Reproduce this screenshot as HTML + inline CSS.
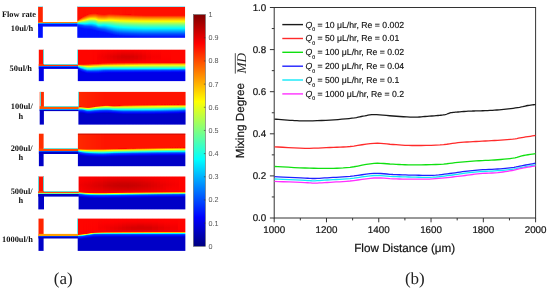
<!DOCTYPE html>
<html><head><meta charset="utf-8"><style>
html,body{margin:0;padding:0;background:#fff;width:550px;height:292px;overflow:hidden}
svg{display:block;text-rendering:geometricPrecision}
.fl{font-family:"Liberation Serif",serif;font-weight:bold;font-size:8.4px;fill:#111}
.cbl{font-family:"Liberation Sans",sans-serif;font-size:7.2px;fill:#555}
.tk{font-family:"Liberation Sans",sans-serif;font-size:9.8px;fill:#111;stroke:#111;stroke-width:0.2px}
.lg{font-family:"Liberation Sans",sans-serif;font-size:8.7px;fill:#111;stroke:#111;stroke-width:0.15px}
.sub{font-size:5.2px}
.ax{font-family:"Liberation Sans",sans-serif;font-size:11.7px;fill:#111;stroke:#111;stroke-width:0.2px}
.md{font-family:"Liberation Serif",serif;font-style:italic;font-size:13.2px;fill:#222}
.pl{font-family:"Liberation Serif",serif;font-size:17px;fill:#222}
</style></head><body>
<svg width="550" height="292" viewBox="0 0 550 292">
<defs>
<linearGradient id="g1" x1="0" y1="6.50" x2="0" y2="37.80" gradientUnits="userSpaceOnUse"><stop offset="0.000" stop-color="#ff0f00"/><stop offset="0.438" stop-color="#ff0f00"/><stop offset="0.447" stop-color="#ff2400"/><stop offset="0.470" stop-color="#ff8000"/><stop offset="0.492" stop-color="#fffe00"/><stop offset="0.495" stop-color="#ecff13"/><stop offset="0.512" stop-color="#80ff7f"/><stop offset="0.540" stop-color="#00ffff"/><stop offset="0.580" stop-color="#004cff"/><stop offset="0.671" stop-color="#0012ff"/><stop offset="1.000" stop-color="#000fff"/></linearGradient>
<linearGradient id="g2" x1="0" y1="6.50" x2="0" y2="37.80" gradientUnits="userSpaceOnUse"><stop offset="0.000" stop-color="#ff0f00"/><stop offset="0.418" stop-color="#ff0f00"/><stop offset="0.431" stop-color="#ff2f00"/><stop offset="0.455" stop-color="#ff7f00"/><stop offset="0.485" stop-color="#ffff00"/><stop offset="0.508" stop-color="#80ff7f"/><stop offset="0.540" stop-color="#00ffff"/><stop offset="0.584" stop-color="#004cff"/><stop offset="0.671" stop-color="#0015ff"/><stop offset="0.687" stop-color="#000fff"/><stop offset="1.000" stop-color="#000fff"/></linearGradient>
<linearGradient id="g3" x1="0" y1="6.50" x2="0" y2="37.80" gradientUnits="userSpaceOnUse"><stop offset="0.000" stop-color="#ff0f00"/><stop offset="0.399" stop-color="#ff0e00"/><stop offset="0.439" stop-color="#ff8000"/><stop offset="0.477" stop-color="#ffff00"/><stop offset="0.504" stop-color="#7fff80"/><stop offset="0.540" stop-color="#00ffff"/><stop offset="0.588" stop-color="#004cff"/><stop offset="0.687" stop-color="#000fff"/><stop offset="1.000" stop-color="#000fff"/></linearGradient>
<linearGradient id="g4" x1="0" y1="6.50" x2="0" y2="37.80" gradientUnits="userSpaceOnUse"><stop offset="0.000" stop-color="#ff0f00"/><stop offset="0.367" stop-color="#ff0f00"/><stop offset="0.373" stop-color="#ff0000"/><stop offset="0.424" stop-color="#ff7f00"/><stop offset="0.469" stop-color="#ffff00"/><stop offset="0.500" stop-color="#7fff80"/><stop offset="0.540" stop-color="#00ffff"/><stop offset="0.594" stop-color="#004dff"/><stop offset="0.687" stop-color="#0011ff"/><stop offset="1.000" stop-color="#000fff"/></linearGradient>
<linearGradient id="g5" x1="0" y1="6.50" x2="0" y2="37.80" gradientUnits="userSpaceOnUse"><stop offset="0.000" stop-color="#ff0f00"/><stop offset="0.351" stop-color="#ff0f00"/><stop offset="0.352" stop-color="#ff0000"/><stop offset="0.410" stop-color="#ff8000"/><stop offset="0.462" stop-color="#ffff00"/><stop offset="0.495" stop-color="#81ff7e"/><stop offset="0.541" stop-color="#00ffff"/><stop offset="0.601" stop-color="#004dff"/><stop offset="0.687" stop-color="#0015ff"/><stop offset="0.703" stop-color="#000fff"/><stop offset="1.000" stop-color="#000fff"/></linearGradient>
<linearGradient id="g6" x1="0" y1="6.50" x2="0" y2="37.80" gradientUnits="userSpaceOnUse"><stop offset="0.000" stop-color="#ff0f00"/><stop offset="0.319" stop-color="#ff0f00"/><stop offset="0.332" stop-color="#ff0000"/><stop offset="0.396" stop-color="#ff8000"/><stop offset="0.455" stop-color="#ffff00"/><stop offset="0.492" stop-color="#80ff7f"/><stop offset="0.543" stop-color="#00ffff"/><stop offset="0.608" stop-color="#004dff"/><stop offset="0.703" stop-color="#0010ff"/><stop offset="1.000" stop-color="#000fff"/></linearGradient>
<linearGradient id="g7" x1="0" y1="6.50" x2="0" y2="37.80" gradientUnits="userSpaceOnUse"><stop offset="0.000" stop-color="#ff0f00"/><stop offset="0.319" stop-color="#ff0c00"/><stop offset="0.384" stop-color="#ff8000"/><stop offset="0.448" stop-color="#ffff00"/><stop offset="0.488" stop-color="#7fff80"/><stop offset="0.545" stop-color="#00ffff"/><stop offset="0.615" stop-color="#004cff"/><stop offset="0.703" stop-color="#0014ff"/><stop offset="0.719" stop-color="#000fff"/><stop offset="1.000" stop-color="#000fff"/></linearGradient>
<linearGradient id="g8" x1="0" y1="6.50" x2="0" y2="37.80" gradientUnits="userSpaceOnUse"><stop offset="0.000" stop-color="#ff0f00"/><stop offset="0.304" stop-color="#ff0d00"/><stop offset="0.373" stop-color="#ff7f00"/><stop offset="0.441" stop-color="#ffff00"/><stop offset="0.485" stop-color="#7fff80"/><stop offset="0.546" stop-color="#00ffff"/><stop offset="0.621" stop-color="#004dff"/><stop offset="0.719" stop-color="#000fff"/><stop offset="1.000" stop-color="#000fff"/></linearGradient>
<linearGradient id="g9" x1="0" y1="6.50" x2="0" y2="37.80" gradientUnits="userSpaceOnUse"><stop offset="0.000" stop-color="#ff0f00"/><stop offset="0.288" stop-color="#ff0c00"/><stop offset="0.362" stop-color="#ff7f00"/><stop offset="0.434" stop-color="#ffff00"/><stop offset="0.479" stop-color="#81ff7e"/><stop offset="0.546" stop-color="#00ffff"/><stop offset="0.625" stop-color="#004dff"/><stop offset="0.719" stop-color="#0010ff"/><stop offset="1.000" stop-color="#000fff"/></linearGradient>
<linearGradient id="g10" x1="0" y1="6.50" x2="0" y2="37.80" gradientUnits="userSpaceOnUse"><stop offset="0.000" stop-color="#ff0f00"/><stop offset="0.256" stop-color="#ff0f00"/><stop offset="0.265" stop-color="#ff0000"/><stop offset="0.351" stop-color="#ff7e00"/><stop offset="0.425" stop-color="#ffff00"/><stop offset="0.474" stop-color="#7fff80"/><stop offset="0.544" stop-color="#00ffff"/><stop offset="0.627" stop-color="#004dff"/><stop offset="0.719" stop-color="#0012ff"/><stop offset="1.000" stop-color="#000fff"/></linearGradient>
<linearGradient id="g11" x1="0" y1="6.50" x2="0" y2="37.80" gradientUnits="userSpaceOnUse"><stop offset="0.000" stop-color="#ff0f00"/><stop offset="0.240" stop-color="#ff0f00"/><stop offset="0.250" stop-color="#ff0000"/><stop offset="0.342" stop-color="#ff7f00"/><stop offset="0.415" stop-color="#ffff00"/><stop offset="0.467" stop-color="#7fff80"/><stop offset="0.542" stop-color="#00ffff"/><stop offset="0.630" stop-color="#004dff"/><stop offset="0.719" stop-color="#0014ff"/><stop offset="0.735" stop-color="#000fff"/><stop offset="1.000" stop-color="#000fff"/></linearGradient>
<linearGradient id="g12" x1="0" y1="6.50" x2="0" y2="37.80" gradientUnits="userSpaceOnUse"><stop offset="0.000" stop-color="#ff0f00"/><stop offset="0.236" stop-color="#ff0f00"/><stop offset="0.240" stop-color="#ff0500"/><stop offset="0.334" stop-color="#ff7f00"/><stop offset="0.405" stop-color="#ffff00"/><stop offset="0.460" stop-color="#80ff7f"/><stop offset="0.538" stop-color="#00ffff"/><stop offset="0.632" stop-color="#004dff"/><stop offset="0.719" stop-color="#0015ff"/><stop offset="0.735" stop-color="#000fff"/><stop offset="1.000" stop-color="#000fff"/></linearGradient>
<linearGradient id="g13" x1="0" y1="6.50" x2="0" y2="37.80" gradientUnits="userSpaceOnUse"><stop offset="0.000" stop-color="#ff0f00"/><stop offset="0.224" stop-color="#ff0f00"/><stop offset="0.225" stop-color="#ff0000"/><stop offset="0.326" stop-color="#ff7f00"/><stop offset="0.398" stop-color="#ffff00"/><stop offset="0.454" stop-color="#7fff80"/><stop offset="0.535" stop-color="#00ffff"/><stop offset="0.634" stop-color="#004cff"/><stop offset="0.719" stop-color="#0016ff"/><stop offset="0.735" stop-color="#000fff"/><stop offset="1.000" stop-color="#000fff"/></linearGradient>
<linearGradient id="g14" x1="0" y1="6.50" x2="0" y2="37.80" gradientUnits="userSpaceOnUse"><stop offset="0.000" stop-color="#ff0f00"/><stop offset="0.208" stop-color="#ff0f00"/><stop offset="0.217" stop-color="#ff0000"/><stop offset="0.321" stop-color="#ff7f00"/><stop offset="0.394" stop-color="#ffff00"/><stop offset="0.451" stop-color="#80ff7f"/><stop offset="0.534" stop-color="#00ffff"/><stop offset="0.637" stop-color="#004dff"/><stop offset="0.735" stop-color="#000fff"/><stop offset="1.000" stop-color="#000fff"/></linearGradient>
<linearGradient id="g15" x1="0" y1="6.50" x2="0" y2="37.80" gradientUnits="userSpaceOnUse"><stop offset="0.000" stop-color="#ff0f00"/><stop offset="0.224" stop-color="#ff0e00"/><stop offset="0.318" stop-color="#ff7f00"/><stop offset="0.393" stop-color="#ffff00"/><stop offset="0.451" stop-color="#7fff80"/><stop offset="0.534" stop-color="#00ffff"/><stop offset="0.642" stop-color="#004cff"/><stop offset="0.735" stop-color="#0011ff"/><stop offset="1.000" stop-color="#000fff"/></linearGradient>
<linearGradient id="g16" x1="0" y1="6.50" x2="0" y2="37.80" gradientUnits="userSpaceOnUse"><stop offset="0.000" stop-color="#ff0f00"/><stop offset="0.224" stop-color="#ff1200"/><stop offset="0.316" stop-color="#ff8000"/><stop offset="0.394" stop-color="#ffff00"/><stop offset="0.452" stop-color="#80ff7f"/><stop offset="0.536" stop-color="#00ffff"/><stop offset="0.649" stop-color="#004dff"/><stop offset="0.735" stop-color="#0015ff"/><stop offset="0.751" stop-color="#000fff"/><stop offset="1.000" stop-color="#000fff"/></linearGradient>
<linearGradient id="g17" x1="0" y1="6.50" x2="0" y2="37.80" gradientUnits="userSpaceOnUse"><stop offset="0.000" stop-color="#ff0f00"/><stop offset="0.206" stop-color="#ff0f00"/><stop offset="0.208" stop-color="#ff0200"/><stop offset="0.314" stop-color="#ff8000"/><stop offset="0.396" stop-color="#ffff00"/><stop offset="0.455" stop-color="#80ff7f"/><stop offset="0.541" stop-color="#00ffff"/><stop offset="0.658" stop-color="#004cff"/><stop offset="0.751" stop-color="#0011ff"/><stop offset="1.000" stop-color="#000fff"/></linearGradient>
<linearGradient id="g18" x1="0" y1="6.50" x2="0" y2="37.80" gradientUnits="userSpaceOnUse"><stop offset="0.000" stop-color="#ff0f00"/><stop offset="0.192" stop-color="#ff0f00"/><stop offset="0.205" stop-color="#ff0000"/><stop offset="0.313" stop-color="#ff7f00"/><stop offset="0.398" stop-color="#ffff00"/><stop offset="0.458" stop-color="#7fff80"/><stop offset="0.547" stop-color="#00ffff"/><stop offset="0.666" stop-color="#004dff"/><stop offset="0.751" stop-color="#0017ff"/><stop offset="0.767" stop-color="#000fff"/><stop offset="1.000" stop-color="#000fff"/></linearGradient>
<linearGradient id="g19" x1="0" y1="6.50" x2="0" y2="37.80" gradientUnits="userSpaceOnUse"><stop offset="0.000" stop-color="#ff0f00"/><stop offset="0.205" stop-color="#ff0f00"/><stop offset="0.208" stop-color="#ff0300"/><stop offset="0.314" stop-color="#ff7f00"/><stop offset="0.402" stop-color="#ffff00"/><stop offset="0.464" stop-color="#7fff80"/><stop offset="0.554" stop-color="#00ffff"/><stop offset="0.675" stop-color="#004cff"/><stop offset="0.767" stop-color="#0012ff"/><stop offset="1.000" stop-color="#000fff"/></linearGradient>
<linearGradient id="g20" x1="0" y1="6.50" x2="0" y2="37.80" gradientUnits="userSpaceOnUse"><stop offset="0.000" stop-color="#ff0f00"/><stop offset="0.224" stop-color="#ff0f00"/><stop offset="0.321" stop-color="#ff7f00"/><stop offset="0.413" stop-color="#ffff00"/><stop offset="0.479" stop-color="#80ff7f"/><stop offset="0.569" stop-color="#00ffff"/><stop offset="0.684" stop-color="#004dff"/><stop offset="0.783" stop-color="#000fff"/><stop offset="1.000" stop-color="#000fff"/></linearGradient>
<linearGradient id="g21" x1="0" y1="6.50" x2="0" y2="37.80" gradientUnits="userSpaceOnUse"><stop offset="0.000" stop-color="#ff0f00"/><stop offset="0.218" stop-color="#ff0f00"/><stop offset="0.224" stop-color="#ff0700"/><stop offset="0.335" stop-color="#ff8500"/><stop offset="0.427" stop-color="#ffff00"/><stop offset="0.496" stop-color="#7fff80"/><stop offset="0.587" stop-color="#00ffff"/><stop offset="0.694" stop-color="#004cff"/><stop offset="0.783" stop-color="#0014ff"/><stop offset="0.799" stop-color="#000fff"/><stop offset="1.000" stop-color="#000fff"/></linearGradient>
<linearGradient id="g22" x1="0" y1="6.50" x2="0" y2="37.80" gradientUnits="userSpaceOnUse"><stop offset="0.000" stop-color="#ff0f00"/><stop offset="0.224" stop-color="#ff0f00"/><stop offset="0.225" stop-color="#ff0000"/><stop offset="0.339" stop-color="#ff7f00"/><stop offset="0.438" stop-color="#ffff00"/><stop offset="0.509" stop-color="#7fff80"/><stop offset="0.599" stop-color="#00ffff"/><stop offset="0.703" stop-color="#004cff"/><stop offset="0.799" stop-color="#000fff"/><stop offset="1.000" stop-color="#000fff"/></linearGradient>
<linearGradient id="g23" x1="0" y1="6.50" x2="0" y2="37.80" gradientUnits="userSpaceOnUse"><stop offset="0.000" stop-color="#ff0f00"/><stop offset="0.224" stop-color="#ff0f00"/><stop offset="0.229" stop-color="#ff0000"/><stop offset="0.343" stop-color="#ff8000"/><stop offset="0.442" stop-color="#ffff00"/><stop offset="0.511" stop-color="#7fff80"/><stop offset="0.600" stop-color="#00ffff"/><stop offset="0.709" stop-color="#004dff"/><stop offset="0.799" stop-color="#0013ff"/><stop offset="1.000" stop-color="#000fff"/></linearGradient>
<linearGradient id="g24" x1="0" y1="6.50" x2="0" y2="37.80" gradientUnits="userSpaceOnUse"><stop offset="0.000" stop-color="#ff0f00"/><stop offset="0.224" stop-color="#ff0f00"/><stop offset="0.232" stop-color="#ff0000"/><stop offset="0.351" stop-color="#ff8600"/><stop offset="0.444" stop-color="#ffff00"/><stop offset="0.510" stop-color="#7fff80"/><stop offset="0.599" stop-color="#00ffff"/><stop offset="0.715" stop-color="#004cff"/><stop offset="0.799" stop-color="#0017ff"/><stop offset="0.815" stop-color="#000fff"/><stop offset="1.000" stop-color="#000fff"/></linearGradient>
<linearGradient id="g25" x1="0" y1="6.50" x2="0" y2="37.80" gradientUnits="userSpaceOnUse"><stop offset="0.000" stop-color="#ff0f00"/><stop offset="0.224" stop-color="#ff0f00"/><stop offset="0.235" stop-color="#ff0000"/><stop offset="0.349" stop-color="#ff7f00"/><stop offset="0.446" stop-color="#ffff00"/><stop offset="0.508" stop-color="#80ff7f"/><stop offset="0.596" stop-color="#00ffff"/><stop offset="0.721" stop-color="#004cff"/><stop offset="0.815" stop-color="#0010ff"/><stop offset="1.000" stop-color="#000fff"/></linearGradient>
<linearGradient id="g26" x1="0" y1="6.50" x2="0" y2="37.80" gradientUnits="userSpaceOnUse"><stop offset="0.000" stop-color="#ff0f00"/><stop offset="0.224" stop-color="#ff0f00"/><stop offset="0.238" stop-color="#ff0000"/><stop offset="0.351" stop-color="#ff8100"/><stop offset="0.447" stop-color="#ffff00"/><stop offset="0.506" stop-color="#80ff7f"/><stop offset="0.593" stop-color="#00ffff"/><stop offset="0.726" stop-color="#004dff"/><stop offset="0.815" stop-color="#0014ff"/><stop offset="0.831" stop-color="#000fff"/><stop offset="1.000" stop-color="#000fff"/></linearGradient>
<linearGradient id="g27" x1="0" y1="6.50" x2="0" y2="37.80" gradientUnits="userSpaceOnUse"><stop offset="0.000" stop-color="#ff0f00"/><stop offset="0.239" stop-color="#ff0f00"/><stop offset="0.240" stop-color="#ff0000"/><stop offset="0.351" stop-color="#ff8000"/><stop offset="0.447" stop-color="#ffff00"/><stop offset="0.505" stop-color="#7fff80"/><stop offset="0.591" stop-color="#00ffff"/><stop offset="0.732" stop-color="#004dff"/><stop offset="0.815" stop-color="#0017ff"/><stop offset="0.831" stop-color="#000fff"/><stop offset="1.000" stop-color="#000fff"/></linearGradient>
<linearGradient id="g28" x1="0" y1="6.50" x2="0" y2="37.80" gradientUnits="userSpaceOnUse"><stop offset="0.000" stop-color="#ff0f00"/><stop offset="0.239" stop-color="#ff0f00"/><stop offset="0.240" stop-color="#ff0000"/><stop offset="0.351" stop-color="#ff8000"/><stop offset="0.447" stop-color="#ffff00"/><stop offset="0.505" stop-color="#80ff7f"/><stop offset="0.591" stop-color="#00ffff"/><stop offset="0.738" stop-color="#004cff"/><stop offset="0.831" stop-color="#0012ff"/><stop offset="1.000" stop-color="#000fff"/></linearGradient>
<linearGradient id="g29" x1="0" y1="6.50" x2="0" y2="37.80" gradientUnits="userSpaceOnUse"><stop offset="0.000" stop-color="#ff0f00"/><stop offset="0.237" stop-color="#ff0f00"/><stop offset="0.240" stop-color="#ff0300"/><stop offset="0.351" stop-color="#ff8300"/><stop offset="0.446" stop-color="#ffff00"/><stop offset="0.506" stop-color="#7fff80"/><stop offset="0.594" stop-color="#00ffff"/><stop offset="0.746" stop-color="#004cff"/><stop offset="0.831" stop-color="#0016ff"/><stop offset="0.847" stop-color="#000fff"/><stop offset="1.000" stop-color="#000fff"/></linearGradient>
<linearGradient id="g30" x1="0" y1="6.50" x2="0" y2="37.80" gradientUnits="userSpaceOnUse"><stop offset="0.000" stop-color="#ff0f00"/><stop offset="0.234" stop-color="#ff0f00"/><stop offset="0.240" stop-color="#ff0700"/><stop offset="0.344" stop-color="#ff7f00"/><stop offset="0.444" stop-color="#ffff00"/><stop offset="0.507" stop-color="#80ff7f"/><stop offset="0.599" stop-color="#00ffff"/><stop offset="0.754" stop-color="#004cff"/><stop offset="0.847" stop-color="#0011ff"/><stop offset="1.000" stop-color="#000fff"/></linearGradient>
<linearGradient id="g31" x1="0" y1="6.50" x2="0" y2="37.80" gradientUnits="userSpaceOnUse"><stop offset="0.000" stop-color="#ff0f00"/><stop offset="0.224" stop-color="#ff0f00"/><stop offset="0.230" stop-color="#ff0000"/><stop offset="0.351" stop-color="#ff8e00"/><stop offset="0.441" stop-color="#ffff00"/><stop offset="0.509" stop-color="#80ff7f"/><stop offset="0.605" stop-color="#00ffff"/><stop offset="0.763" stop-color="#004dff"/><stop offset="0.847" stop-color="#0017ff"/><stop offset="0.863" stop-color="#000fff"/><stop offset="1.000" stop-color="#000fff"/></linearGradient>
<linearGradient id="g32" x1="0" y1="6.50" x2="0" y2="37.80" gradientUnits="userSpaceOnUse"><stop offset="0.000" stop-color="#ff0f00"/><stop offset="0.224" stop-color="#ff0f00"/><stop offset="0.226" stop-color="#ff0000"/><stop offset="0.439" stop-color="#ffff00"/><stop offset="0.511" stop-color="#7fff80"/><stop offset="0.612" stop-color="#00ffff"/><stop offset="0.771" stop-color="#004dff"/><stop offset="0.863" stop-color="#0012ff"/><stop offset="1.000" stop-color="#000fff"/></linearGradient>
<linearGradient id="g33" x1="0" y1="6.50" x2="0" y2="37.80" gradientUnits="userSpaceOnUse"><stop offset="0.000" stop-color="#ff0f00"/><stop offset="0.224" stop-color="#ff0f00"/><stop offset="0.224" stop-color="#ff0000"/><stop offset="0.438" stop-color="#ffff00"/><stop offset="0.513" stop-color="#7fff80"/><stop offset="0.617" stop-color="#00ffff"/><stop offset="0.779" stop-color="#004dff"/><stop offset="0.847" stop-color="#0021ff"/><stop offset="0.879" stop-color="#000fff"/><stop offset="1.000" stop-color="#000fff"/></linearGradient>
<linearGradient id="g34" x1="0" y1="6.50" x2="0" y2="37.80" gradientUnits="userSpaceOnUse"><stop offset="0.000" stop-color="#ff0f00"/><stop offset="0.240" stop-color="#ff1300"/><stop offset="0.438" stop-color="#ffff00"/><stop offset="0.516" stop-color="#7fff80"/><stop offset="0.622" stop-color="#00ffff"/><stop offset="0.783" stop-color="#0050ff"/><stop offset="0.815" stop-color="#003aff"/><stop offset="0.879" stop-color="#0012ff"/><stop offset="1.000" stop-color="#000fff"/></linearGradient>
<linearGradient id="g35" x1="0" y1="6.50" x2="0" y2="37.80" gradientUnits="userSpaceOnUse"><stop offset="0.000" stop-color="#ff0f00"/><stop offset="0.240" stop-color="#ff1200"/><stop offset="0.439" stop-color="#ffff00"/><stop offset="0.518" stop-color="#80ff7f"/><stop offset="0.627" stop-color="#00ffff"/><stop offset="0.799" stop-color="#0049ff"/><stop offset="0.895" stop-color="#000fff"/><stop offset="1.000" stop-color="#000fff"/></linearGradient>
<linearGradient id="g36" x1="0" y1="6.50" x2="0" y2="37.80" gradientUnits="userSpaceOnUse"><stop offset="0.000" stop-color="#ff0f00"/><stop offset="0.224" stop-color="#ff0f00"/><stop offset="0.226" stop-color="#ff0000"/><stop offset="0.440" stop-color="#ffff00"/><stop offset="0.521" stop-color="#80ff7f"/><stop offset="0.632" stop-color="#00ffff"/><stop offset="0.802" stop-color="#004cff"/><stop offset="0.895" stop-color="#0011ff"/><stop offset="1.000" stop-color="#000fff"/></linearGradient>
<linearGradient id="g37" x1="0" y1="6.50" x2="0" y2="37.80" gradientUnits="userSpaceOnUse"><stop offset="0.000" stop-color="#ff0f00"/><stop offset="0.224" stop-color="#ff0f00"/><stop offset="0.227" stop-color="#ff0000"/><stop offset="0.442" stop-color="#ffff00"/><stop offset="0.525" stop-color="#7fff80"/><stop offset="0.638" stop-color="#00ffff"/><stop offset="0.815" stop-color="#0049ff"/><stop offset="0.911" stop-color="#000fff"/><stop offset="1.000" stop-color="#000fff"/></linearGradient>
<linearGradient id="g38" x1="0" y1="6.50" x2="0" y2="37.80" gradientUnits="userSpaceOnUse"><stop offset="0.000" stop-color="#ff0f00"/><stop offset="0.224" stop-color="#ff0f00"/><stop offset="0.229" stop-color="#ff0000"/><stop offset="0.445" stop-color="#ffff00"/><stop offset="0.529" stop-color="#7fff80"/><stop offset="0.643" stop-color="#00ffff"/><stop offset="0.817" stop-color="#004dff"/><stop offset="0.911" stop-color="#0011ff"/><stop offset="1.000" stop-color="#000fff"/></linearGradient>
<linearGradient id="g39" x1="0" y1="6.50" x2="0" y2="37.80" gradientUnits="userSpaceOnUse"><stop offset="0.000" stop-color="#ff0f00"/><stop offset="0.231" stop-color="#ff0f00"/><stop offset="0.240" stop-color="#ff0a00"/><stop offset="0.447" stop-color="#ffff00"/><stop offset="0.533" stop-color="#7fff80"/><stop offset="0.648" stop-color="#00ffff"/><stop offset="0.825" stop-color="#004dff"/><stop offset="0.927" stop-color="#000fff"/><stop offset="1.000" stop-color="#000fff"/></linearGradient>
<linearGradient id="g40" x1="0" y1="6.50" x2="0" y2="37.80" gradientUnits="userSpaceOnUse"><stop offset="0.000" stop-color="#ff0f00"/><stop offset="0.224" stop-color="#ff0f00"/><stop offset="0.233" stop-color="#ff0000"/><stop offset="0.335" stop-color="#ff7d00"/><stop offset="0.450" stop-color="#ffff00"/><stop offset="0.536" stop-color="#80ff7f"/><stop offset="0.653" stop-color="#00ffff"/><stop offset="0.831" stop-color="#004cff"/><stop offset="0.927" stop-color="#0010ff"/><stop offset="1.000" stop-color="#000fff"/></linearGradient>
<linearGradient id="g41" x1="0" y1="6.50" x2="0" y2="37.80" gradientUnits="userSpaceOnUse"><stop offset="0.000" stop-color="#ff0f00"/><stop offset="0.235" stop-color="#ff0f00"/><stop offset="0.240" stop-color="#ff0500"/><stop offset="0.339" stop-color="#ff8000"/><stop offset="0.453" stop-color="#ffff00"/><stop offset="0.543" stop-color="#7cff83"/><stop offset="0.657" stop-color="#00ffff"/><stop offset="0.847" stop-color="#0046ff"/><stop offset="0.927" stop-color="#0013ff"/><stop offset="1.000" stop-color="#000fff"/></linearGradient>
<linearGradient id="g42" x1="0" y1="6.50" x2="0" y2="37.80" gradientUnits="userSpaceOnUse"><stop offset="0.000" stop-color="#ff0f00"/><stop offset="0.224" stop-color="#ff0f00"/><stop offset="0.239" stop-color="#ff0000"/><stop offset="0.342" stop-color="#ff8000"/><stop offset="0.456" stop-color="#ffff00"/><stop offset="0.545" stop-color="#80ff7f"/><stop offset="0.664" stop-color="#00ffff"/><stop offset="0.847" stop-color="#004cff"/><stop offset="0.942" stop-color="#000fff"/><stop offset="1.000" stop-color="#000fff"/></linearGradient>
<linearGradient id="g43" x1="0" y1="6.50" x2="0" y2="37.80" gradientUnits="userSpaceOnUse"><stop offset="0.000" stop-color="#ff0f00"/><stop offset="0.256" stop-color="#ff1300"/><stop offset="0.351" stop-color="#ff8a00"/><stop offset="0.457" stop-color="#ffff00"/><stop offset="0.547" stop-color="#7fff80"/><stop offset="0.665" stop-color="#00ffff"/><stop offset="0.848" stop-color="#004dff"/><stop offset="0.942" stop-color="#0010ff"/><stop offset="1.000" stop-color="#000fff"/></linearGradient>
<linearGradient id="g44" x1="0" y1="6.50" x2="0" y2="37.80" gradientUnits="userSpaceOnUse"><stop offset="0.000" stop-color="#ff0f00"/><stop offset="0.240" stop-color="#ff0f00"/><stop offset="0.243" stop-color="#ff0000"/><stop offset="0.351" stop-color="#ff8800"/><stop offset="0.459" stop-color="#ffff00"/><stop offset="0.550" stop-color="#80ff7f"/><stop offset="0.669" stop-color="#00ffff"/><stop offset="0.852" stop-color="#004cff"/><stop offset="0.942" stop-color="#0012ff"/><stop offset="1.000" stop-color="#000fff"/></linearGradient>
<linearGradient id="g45" x1="0" y1="6.50" x2="0" y2="37.80" gradientUnits="userSpaceOnUse"><stop offset="0.000" stop-color="#ff0f00"/><stop offset="0.256" stop-color="#ff0e00"/><stop offset="0.345" stop-color="#ff8000"/><stop offset="0.459" stop-color="#ffff00"/><stop offset="0.552" stop-color="#80ff7f"/><stop offset="0.671" stop-color="#00ffff"/><stop offset="0.853" stop-color="#004dff"/><stop offset="0.942" stop-color="#0014ff"/><stop offset="1.000" stop-color="#000fff"/></linearGradient>
<linearGradient id="g46" x1="0" y1="6.50" x2="0" y2="37.80" gradientUnits="userSpaceOnUse"><stop offset="0.000" stop-color="#ff0f00"/><stop offset="0.240" stop-color="#ff0f00"/><stop offset="0.246" stop-color="#ff0000"/><stop offset="0.346" stop-color="#ff8000"/><stop offset="0.460" stop-color="#ffff00"/><stop offset="0.553" stop-color="#7fff80"/><stop offset="0.673" stop-color="#00ffff"/><stop offset="0.855" stop-color="#004dff"/><stop offset="0.942" stop-color="#0015ff"/><stop offset="0.958" stop-color="#000fff"/><stop offset="1.000" stop-color="#000fff"/></linearGradient>
<linearGradient id="g47" x1="0" y1="6.50" x2="0" y2="37.80" gradientUnits="userSpaceOnUse"><stop offset="0.000" stop-color="#ff0f00"/><stop offset="0.256" stop-color="#ff0b00"/><stop offset="0.347" stop-color="#ff7f00"/><stop offset="0.461" stop-color="#ffff00"/><stop offset="0.555" stop-color="#7fff80"/><stop offset="0.674" stop-color="#00ffff"/><stop offset="0.857" stop-color="#004cff"/><stop offset="0.958" stop-color="#000fff"/><stop offset="1.000" stop-color="#000fff"/></linearGradient>
<linearGradient id="g48" x1="0" y1="6.50" x2="0" y2="37.80" gradientUnits="userSpaceOnUse"><stop offset="0.000" stop-color="#ff0f00"/><stop offset="0.240" stop-color="#ff0f00"/><stop offset="0.249" stop-color="#ff0000"/><stop offset="0.348" stop-color="#ff7f00"/><stop offset="0.462" stop-color="#ffff00"/><stop offset="0.559" stop-color="#7cff83"/><stop offset="0.676" stop-color="#00ffff"/><stop offset="0.859" stop-color="#004cff"/><stop offset="0.958" stop-color="#000fff"/><stop offset="1.000" stop-color="#000fff"/></linearGradient>
<linearGradient id="g49" x1="0" y1="6.50" x2="0" y2="37.80" gradientUnits="userSpaceOnUse"><stop offset="0.000" stop-color="#ff0f00"/><stop offset="0.250" stop-color="#ff0f00"/><stop offset="0.256" stop-color="#ff0700"/><stop offset="0.349" stop-color="#ff7f00"/><stop offset="0.462" stop-color="#ffff00"/><stop offset="0.559" stop-color="#7eff81"/><stop offset="0.678" stop-color="#00ffff"/><stop offset="0.860" stop-color="#004cff"/><stop offset="0.958" stop-color="#000fff"/><stop offset="1.000" stop-color="#000fff"/></linearGradient>
<linearGradient id="g50" x1="0" y1="6.50" x2="0" y2="37.80" gradientUnits="userSpaceOnUse"><stop offset="0.000" stop-color="#ff0f00"/><stop offset="0.240" stop-color="#ff0f00"/><stop offset="0.252" stop-color="#ff0000"/><stop offset="0.351" stop-color="#ff8100"/><stop offset="0.463" stop-color="#ffff00"/><stop offset="0.559" stop-color="#7fff80"/><stop offset="0.679" stop-color="#00ffff"/><stop offset="0.862" stop-color="#004cff"/><stop offset="0.958" stop-color="#000fff"/><stop offset="1.000" stop-color="#000fff"/></linearGradient>
<linearGradient id="g51" x1="0" y1="6.50" x2="0" y2="37.80" gradientUnits="userSpaceOnUse"><stop offset="0.000" stop-color="#ff0f00"/><stop offset="0.253" stop-color="#ff0f00"/><stop offset="0.256" stop-color="#ff0300"/><stop offset="0.351" stop-color="#ff8000"/><stop offset="0.463" stop-color="#ffff00"/><stop offset="0.560" stop-color="#7fff80"/><stop offset="0.681" stop-color="#00ffff"/><stop offset="0.864" stop-color="#004cff"/><stop offset="0.958" stop-color="#0010ff"/><stop offset="1.000" stop-color="#000fff"/></linearGradient>
<linearGradient id="g52" x1="0" y1="6.50" x2="0" y2="37.80" gradientUnits="userSpaceOnUse"><stop offset="0.000" stop-color="#ff0f00"/><stop offset="0.240" stop-color="#ff0f00"/><stop offset="0.255" stop-color="#ff0000"/><stop offset="0.352" stop-color="#ff8000"/><stop offset="0.464" stop-color="#ffff00"/><stop offset="0.562" stop-color="#7fff80"/><stop offset="0.682" stop-color="#00ffff"/><stop offset="0.865" stop-color="#004cff"/><stop offset="0.958" stop-color="#0011ff"/><stop offset="1.000" stop-color="#000fff"/></linearGradient>
<linearGradient id="g53" x1="0" y1="6.50" x2="0" y2="37.80" gradientUnits="userSpaceOnUse"><stop offset="0.000" stop-color="#ff0f00"/><stop offset="0.256" stop-color="#ff0f00"/><stop offset="0.256" stop-color="#ff0000"/><stop offset="0.353" stop-color="#ff8000"/><stop offset="0.465" stop-color="#ffff00"/><stop offset="0.563" stop-color="#7fff80"/><stop offset="0.683" stop-color="#00ffff"/><stop offset="0.866" stop-color="#004dff"/><stop offset="0.958" stop-color="#0012ff"/><stop offset="1.000" stop-color="#000fff"/></linearGradient>
<linearGradient id="g54" x1="0" y1="6.50" x2="0" y2="37.80" gradientUnits="userSpaceOnUse"><stop offset="0.000" stop-color="#ff0f00"/><stop offset="0.272" stop-color="#ff1300"/><stop offset="0.354" stop-color="#ff8000"/><stop offset="0.465" stop-color="#ffff00"/><stop offset="0.564" stop-color="#80ff7f"/><stop offset="0.685" stop-color="#00ffff"/><stop offset="0.867" stop-color="#004dff"/><stop offset="0.958" stop-color="#0012ff"/><stop offset="1.000" stop-color="#000fff"/></linearGradient>
<linearGradient id="g55" x1="0" y1="6.50" x2="0" y2="37.80" gradientUnits="userSpaceOnUse"><stop offset="0.000" stop-color="#ff0f00"/><stop offset="0.256" stop-color="#ff0f00"/><stop offset="0.260" stop-color="#ff0000"/><stop offset="0.356" stop-color="#ff8000"/><stop offset="0.466" stop-color="#ffff00"/><stop offset="0.566" stop-color="#80ff7f"/><stop offset="0.687" stop-color="#00ffff"/><stop offset="0.870" stop-color="#004cff"/><stop offset="0.958" stop-color="#0014ff"/><stop offset="1.000" stop-color="#000fff"/></linearGradient>
<linearGradient id="g56" x1="0" y1="6.50" x2="0" y2="37.80" gradientUnits="userSpaceOnUse"><stop offset="0.000" stop-color="#ff0f00"/><stop offset="0.272" stop-color="#ff0e00"/><stop offset="0.357" stop-color="#ff7f00"/><stop offset="0.466" stop-color="#ffff00"/><stop offset="0.567" stop-color="#7fff80"/><stop offset="0.688" stop-color="#00ffff"/><stop offset="0.871" stop-color="#004cff"/><stop offset="0.958" stop-color="#0015ff"/><stop offset="1.000" stop-color="#000fff"/></linearGradient>
<linearGradient id="g57" x1="0" y1="6.50" x2="0" y2="37.80" gradientUnits="userSpaceOnUse"><stop offset="0.000" stop-color="#ff0f00"/><stop offset="0.256" stop-color="#ff0f00"/><stop offset="0.264" stop-color="#ff0000"/><stop offset="0.358" stop-color="#ff8000"/><stop offset="0.467" stop-color="#ffff00"/><stop offset="0.569" stop-color="#7fff80"/><stop offset="0.690" stop-color="#00ffff"/><stop offset="0.873" stop-color="#004dff"/><stop offset="0.958" stop-color="#0016ff"/><stop offset="0.974" stop-color="#000fff"/><stop offset="1.000" stop-color="#000fff"/></linearGradient>
<linearGradient id="g58" x1="0" y1="6.50" x2="0" y2="37.80" gradientUnits="userSpaceOnUse"><stop offset="0.000" stop-color="#ff0f00"/><stop offset="0.265" stop-color="#ff0f00"/><stop offset="0.272" stop-color="#ff0900"/><stop offset="0.359" stop-color="#ff7f00"/><stop offset="0.468" stop-color="#ffff00"/><stop offset="0.575" stop-color="#7aff85"/><stop offset="0.691" stop-color="#00ffff"/><stop offset="0.874" stop-color="#004cff"/><stop offset="0.958" stop-color="#0016ff"/><stop offset="0.974" stop-color="#000fff"/><stop offset="1.000" stop-color="#000fff"/></linearGradient>
<linearGradient id="g59" x1="0" y1="6.50" x2="0" y2="37.80" gradientUnits="userSpaceOnUse"><stop offset="0.000" stop-color="#ff0f00"/><stop offset="0.256" stop-color="#ff0f00"/><stop offset="0.266" stop-color="#ff0000"/><stop offset="0.360" stop-color="#ff8000"/><stop offset="0.468" stop-color="#ffff00"/><stop offset="0.571" stop-color="#7fff80"/><stop offset="0.692" stop-color="#00ffff"/><stop offset="0.874" stop-color="#004dff"/><stop offset="0.974" stop-color="#000fff"/><stop offset="1.000" stop-color="#000fff"/></linearGradient>
<linearGradient id="g60" x1="0" y1="6.50" x2="0" y2="37.80" gradientUnits="userSpaceOnUse"><stop offset="0.000" stop-color="#ff0f00"/><stop offset="0.268" stop-color="#ff0f00"/><stop offset="0.272" stop-color="#ff0400"/><stop offset="0.362" stop-color="#ff8000"/><stop offset="0.469" stop-color="#ffff00"/><stop offset="0.575" stop-color="#7dff82"/><stop offset="0.694" stop-color="#00ffff"/><stop offset="0.879" stop-color="#004bff"/><stop offset="0.974" stop-color="#000fff"/><stop offset="1.000" stop-color="#000fff"/></linearGradient>
<linearGradient id="g61" x1="0" y1="6.50" x2="0" y2="37.80" gradientUnits="userSpaceOnUse"><stop offset="0.000" stop-color="#ff0f00"/><stop offset="0.256" stop-color="#ff0f00"/><stop offset="0.269" stop-color="#ff0000"/><stop offset="0.363" stop-color="#ff8000"/><stop offset="0.469" stop-color="#ffff00"/><stop offset="0.573" stop-color="#7fff80"/><stop offset="0.695" stop-color="#00ffff"/><stop offset="0.877" stop-color="#004dff"/><stop offset="0.974" stop-color="#000fff"/><stop offset="1.000" stop-color="#000fff"/></linearGradient>
<linearGradient id="g62" x1="0" y1="6.50" x2="0" y2="37.80" gradientUnits="userSpaceOnUse"><stop offset="0.000" stop-color="#ff0f00"/><stop offset="0.270" stop-color="#ff0f00"/><stop offset="0.272" stop-color="#ff0200"/><stop offset="0.363" stop-color="#ff7f00"/><stop offset="0.469" stop-color="#ffff00"/><stop offset="0.574" stop-color="#80ff7f"/><stop offset="0.696" stop-color="#00ffff"/><stop offset="0.878" stop-color="#004cff"/><stop offset="0.974" stop-color="#000fff"/><stop offset="1.000" stop-color="#000fff"/></linearGradient>
<linearGradient id="g63" x1="0" y1="6.50" x2="0" y2="37.80" gradientUnits="userSpaceOnUse"><stop offset="0.000" stop-color="#ff0f00"/><stop offset="0.256" stop-color="#ff0f00"/><stop offset="0.271" stop-color="#ff0000"/><stop offset="0.367" stop-color="#ff8400"/><stop offset="0.469" stop-color="#ffff00"/><stop offset="0.575" stop-color="#7fff80"/><stop offset="0.696" stop-color="#00ffff"/><stop offset="0.878" stop-color="#004cff"/><stop offset="0.974" stop-color="#000fff"/><stop offset="1.000" stop-color="#000fff"/></linearGradient>
<linearGradient id="g64" x1="0" y1="6.50" x2="0" y2="37.80" gradientUnits="userSpaceOnUse"><stop offset="0.000" stop-color="#ff0f00"/><stop offset="0.272" stop-color="#ff0f00"/><stop offset="0.288" stop-color="#ff1600"/><stop offset="0.364" stop-color="#ff8000"/><stop offset="0.470" stop-color="#ffff00"/><stop offset="0.575" stop-color="#80ff80"/><stop offset="0.696" stop-color="#00ffff"/><stop offset="0.879" stop-color="#004dff"/><stop offset="0.974" stop-color="#000fff"/><stop offset="1.000" stop-color="#000fff"/></linearGradient>
<linearGradient id="g65" x1="0" y1="6.50" x2="0" y2="37.80" gradientUnits="userSpaceOnUse"><stop offset="0.000" stop-color="#ff0f00"/><stop offset="0.272" stop-color="#ff0f00"/><stop offset="0.288" stop-color="#ff1600"/><stop offset="0.364" stop-color="#ff8000"/><stop offset="0.470" stop-color="#ffff00"/><stop offset="0.575" stop-color="#80ff80"/><stop offset="0.696" stop-color="#00ffff"/><stop offset="0.879" stop-color="#004dff"/><stop offset="0.974" stop-color="#000fff"/><stop offset="1.000" stop-color="#000fff"/></linearGradient>
<linearGradient id="g66" x1="0" y1="6.50" x2="0" y2="37.80" gradientUnits="userSpaceOnUse"><stop offset="0.000" stop-color="#ff0f00"/><stop offset="0.272" stop-color="#ff0f00"/><stop offset="0.288" stop-color="#ff1600"/><stop offset="0.364" stop-color="#ff8000"/><stop offset="0.470" stop-color="#ffff00"/><stop offset="0.575" stop-color="#80ff80"/><stop offset="0.696" stop-color="#00ffff"/><stop offset="0.879" stop-color="#004dff"/><stop offset="0.974" stop-color="#000fff"/><stop offset="1.000" stop-color="#000fff"/></linearGradient>
<linearGradient id="g67" x1="0" y1="22.00" x2="0" y2="26.60" gradientUnits="userSpaceOnUse"><stop offset="0.000" stop-color="#ff8000"/><stop offset="0.174" stop-color="#ff8000"/><stop offset="0.228" stop-color="#e5ff1a"/><stop offset="0.283" stop-color="#1affe5"/><stop offset="0.348" stop-color="#0061ff"/><stop offset="0.446" stop-color="#000fff"/><stop offset="1.000" stop-color="#000fff"/></linearGradient>
<linearGradient id="g68" x1="0" y1="49.70" x2="0" y2="81.10" gradientUnits="userSpaceOnUse"><stop offset="0.000" stop-color="#ff0500"/><stop offset="0.465" stop-color="#ff0500"/><stop offset="0.488" stop-color="#ff8000"/><stop offset="0.507" stop-color="#ffff00"/><stop offset="0.523" stop-color="#7eff81"/><stop offset="0.539" stop-color="#01fffe"/><stop offset="0.562" stop-color="#004cff"/><stop offset="0.621" stop-color="#0001ff"/><stop offset="0.637" stop-color="#0000ec"/><stop offset="0.653" stop-color="#0000e6"/><stop offset="1.000" stop-color="#0000e6"/></linearGradient>
<linearGradient id="g69" x1="0" y1="49.70" x2="0" y2="81.10" gradientUnits="userSpaceOnUse"><stop offset="0.000" stop-color="#ff0500"/><stop offset="0.465" stop-color="#ff0500"/><stop offset="0.489" stop-color="#ff7f00"/><stop offset="0.509" stop-color="#feff01"/><stop offset="0.524" stop-color="#81ff7e"/><stop offset="0.541" stop-color="#18ffe7"/><stop offset="0.546" stop-color="#00feff"/><stop offset="0.573" stop-color="#004dff"/><stop offset="0.621" stop-color="#000eff"/><stop offset="0.637" stop-color="#0000f9"/><stop offset="0.653" stop-color="#0000e6"/><stop offset="1.000" stop-color="#0000e6"/></linearGradient>
<linearGradient id="g70" x1="0" y1="49.70" x2="0" y2="81.10" gradientUnits="userSpaceOnUse"><stop offset="0.000" stop-color="#ff0500"/><stop offset="0.465" stop-color="#ff0500"/><stop offset="0.492" stop-color="#ff7f00"/><stop offset="0.510" stop-color="#fff300"/><stop offset="0.511" stop-color="#feff01"/><stop offset="0.526" stop-color="#7fff80"/><stop offset="0.555" stop-color="#00ffff"/><stop offset="0.589" stop-color="#004cff"/><stop offset="0.653" stop-color="#0000fa"/><stop offset="0.669" stop-color="#0000e6"/><stop offset="1.000" stop-color="#0000e6"/></linearGradient>
<linearGradient id="g71" x1="0" y1="49.70" x2="0" y2="81.10" gradientUnits="userSpaceOnUse"><stop offset="0.000" stop-color="#ff0500"/><stop offset="0.465" stop-color="#ff0500"/><stop offset="0.494" stop-color="#ff7e00"/><stop offset="0.514" stop-color="#feff01"/><stop offset="0.530" stop-color="#7fff80"/><stop offset="0.557" stop-color="#1bffe4"/><stop offset="0.565" stop-color="#00feff"/><stop offset="0.604" stop-color="#004dff"/><stop offset="0.653" stop-color="#000eff"/><stop offset="0.669" stop-color="#0000f9"/><stop offset="0.685" stop-color="#0000e6"/><stop offset="1.000" stop-color="#0000e6"/></linearGradient>
<linearGradient id="g72" x1="0" y1="49.70" x2="0" y2="81.10" gradientUnits="userSpaceOnUse"><stop offset="0.000" stop-color="#ff0500"/><stop offset="0.465" stop-color="#ff0500"/><stop offset="0.496" stop-color="#ff8000"/><stop offset="0.517" stop-color="#feff01"/><stop offset="0.533" stop-color="#7fff80"/><stop offset="0.573" stop-color="#02fffd"/><stop offset="0.618" stop-color="#004cff"/><stop offset="0.669" stop-color="#000cff"/><stop offset="0.685" stop-color="#0000f6"/><stop offset="0.701" stop-color="#0000e6"/><stop offset="1.000" stop-color="#0000e6"/></linearGradient>
<linearGradient id="g73" x1="0" y1="49.70" x2="0" y2="81.10" gradientUnits="userSpaceOnUse"><stop offset="0.000" stop-color="#ff0500"/><stop offset="0.465" stop-color="#ff0500"/><stop offset="0.496" stop-color="#ff7f00"/><stop offset="0.520" stop-color="#ffff00"/><stop offset="0.538" stop-color="#7fff80"/><stop offset="0.582" stop-color="#00ffff"/><stop offset="0.631" stop-color="#004cff"/><stop offset="0.685" stop-color="#0007ff"/><stop offset="0.717" stop-color="#0000e6"/><stop offset="1.000" stop-color="#0000e6"/></linearGradient>
<linearGradient id="g74" x1="0" y1="49.70" x2="0" y2="81.10" gradientUnits="userSpaceOnUse"><stop offset="0.000" stop-color="#ff0500"/><stop offset="0.462" stop-color="#ff0500"/><stop offset="0.465" stop-color="#ff0000"/><stop offset="0.497" stop-color="#ff8000"/><stop offset="0.523" stop-color="#ffff00"/><stop offset="0.542" stop-color="#81ff7e"/><stop offset="0.590" stop-color="#00ffff"/><stop offset="0.641" stop-color="#004dff"/><stop offset="0.701" stop-color="#0000ff"/><stop offset="0.717" stop-color="#0000eb"/><stop offset="0.732" stop-color="#0000e6"/><stop offset="1.000" stop-color="#0000e6"/></linearGradient>
<linearGradient id="g75" x1="0" y1="49.70" x2="0" y2="81.10" gradientUnits="userSpaceOnUse"><stop offset="0.000" stop-color="#ff0500"/><stop offset="0.464" stop-color="#ff0500"/><stop offset="0.496" stop-color="#ff7f00"/><stop offset="0.526" stop-color="#ffff00"/><stop offset="0.548" stop-color="#80ff7f"/><stop offset="0.598" stop-color="#00ffff"/><stop offset="0.652" stop-color="#004dff"/><stop offset="0.701" stop-color="#000eff"/><stop offset="0.717" stop-color="#0000f8"/><stop offset="0.732" stop-color="#0000e6"/><stop offset="1.000" stop-color="#0000e6"/></linearGradient>
<linearGradient id="g76" x1="0" y1="49.70" x2="0" y2="81.10" gradientUnits="userSpaceOnUse"><stop offset="0.000" stop-color="#ff0500"/><stop offset="0.462" stop-color="#ff0500"/><stop offset="0.478" stop-color="#ff3b00"/><stop offset="0.529" stop-color="#feff01"/><stop offset="0.557" stop-color="#80ff7f"/><stop offset="0.607" stop-color="#00ffff"/><stop offset="0.662" stop-color="#004cff"/><stop offset="0.717" stop-color="#0007ff"/><stop offset="0.748" stop-color="#0000e6"/><stop offset="1.000" stop-color="#0000e6"/></linearGradient>
<linearGradient id="g77" x1="0" y1="49.70" x2="0" y2="81.10" gradientUnits="userSpaceOnUse"><stop offset="0.000" stop-color="#ff0500"/><stop offset="0.460" stop-color="#ff0500"/><stop offset="0.462" stop-color="#ff0800"/><stop offset="0.532" stop-color="#ffff00"/><stop offset="0.565" stop-color="#80ff7f"/><stop offset="0.614" stop-color="#00ffff"/><stop offset="0.671" stop-color="#004dff"/><stop offset="0.732" stop-color="#0000fd"/><stop offset="0.748" stop-color="#0000e8"/><stop offset="0.764" stop-color="#0000e6"/><stop offset="1.000" stop-color="#0000e6"/></linearGradient>
<linearGradient id="g78" x1="0" y1="49.70" x2="0" y2="81.10" gradientUnits="userSpaceOnUse"><stop offset="0.000" stop-color="#ff0500"/><stop offset="0.457" stop-color="#ff0500"/><stop offset="0.462" stop-color="#ff1000"/><stop offset="0.494" stop-color="#ff7d00"/><stop offset="0.534" stop-color="#ffff00"/><stop offset="0.571" stop-color="#80ff7f"/><stop offset="0.619" stop-color="#00ffff"/><stop offset="0.677" stop-color="#004cff"/><stop offset="0.732" stop-color="#0005ff"/><stop offset="0.764" stop-color="#0000e6"/><stop offset="1.000" stop-color="#0000e6"/></linearGradient>
<linearGradient id="g79" x1="0" y1="49.70" x2="0" y2="81.10" gradientUnits="userSpaceOnUse"><stop offset="0.000" stop-color="#ff0500"/><stop offset="0.453" stop-color="#ff0500"/><stop offset="0.534" stop-color="#ffff00"/><stop offset="0.573" stop-color="#7fff80"/><stop offset="0.620" stop-color="#00ffff"/><stop offset="0.678" stop-color="#004dff"/><stop offset="0.732" stop-color="#0007ff"/><stop offset="0.764" stop-color="#0000e6"/><stop offset="1.000" stop-color="#0000e6"/></linearGradient>
<linearGradient id="g80" x1="0" y1="49.70" x2="0" y2="81.10" gradientUnits="userSpaceOnUse"><stop offset="0.000" stop-color="#ff0500"/><stop offset="0.450" stop-color="#ff0400"/><stop offset="0.531" stop-color="#ffff00"/><stop offset="0.569" stop-color="#7fff80"/><stop offset="0.618" stop-color="#00ffff"/><stop offset="0.678" stop-color="#004dff"/><stop offset="0.732" stop-color="#0007ff"/><stop offset="0.764" stop-color="#0000e6"/><stop offset="1.000" stop-color="#0000e6"/></linearGradient>
<linearGradient id="g81" x1="0" y1="49.70" x2="0" y2="81.10" gradientUnits="userSpaceOnUse"><stop offset="0.000" stop-color="#ff0400"/><stop offset="0.448" stop-color="#ff0400"/><stop offset="0.529" stop-color="#ffff00"/><stop offset="0.567" stop-color="#7fff80"/><stop offset="0.616" stop-color="#00ffff"/><stop offset="0.678" stop-color="#004dff"/><stop offset="0.732" stop-color="#0007ff"/><stop offset="0.764" stop-color="#0000e6"/><stop offset="1.000" stop-color="#0000e6"/></linearGradient>
<linearGradient id="g82" x1="0" y1="49.70" x2="0" y2="81.10" gradientUnits="userSpaceOnUse"><stop offset="0.000" stop-color="#ff0400"/><stop offset="0.446" stop-color="#ff0000"/><stop offset="0.526" stop-color="#ffff00"/><stop offset="0.565" stop-color="#7fff80"/><stop offset="0.615" stop-color="#00ffff"/><stop offset="0.678" stop-color="#004dff"/><stop offset="0.732" stop-color="#0007ff"/><stop offset="0.764" stop-color="#0000e6"/><stop offset="1.000" stop-color="#0000e6"/></linearGradient>
<linearGradient id="g83" x1="0" y1="49.70" x2="0" y2="81.10" gradientUnits="userSpaceOnUse"><stop offset="0.000" stop-color="#ff0400"/><stop offset="0.446" stop-color="#ff0400"/><stop offset="0.525" stop-color="#feff01"/><stop offset="0.562" stop-color="#7fff80"/><stop offset="0.613" stop-color="#00ffff"/><stop offset="0.678" stop-color="#004dff"/><stop offset="0.732" stop-color="#0007ff"/><stop offset="0.764" stop-color="#0000e6"/><stop offset="1.000" stop-color="#0000e6"/></linearGradient>
<linearGradient id="g84" x1="0" y1="49.70" x2="0" y2="81.10" gradientUnits="userSpaceOnUse"><stop offset="0.000" stop-color="#ff0400"/><stop offset="0.443" stop-color="#ff0400"/><stop offset="0.484" stop-color="#ff8000"/><stop offset="0.523" stop-color="#ffff00"/><stop offset="0.561" stop-color="#7fff80"/><stop offset="0.612" stop-color="#00ffff"/><stop offset="0.678" stop-color="#004dff"/><stop offset="0.732" stop-color="#0007ff"/><stop offset="0.764" stop-color="#0000e6"/><stop offset="1.000" stop-color="#0000e6"/></linearGradient>
<linearGradient id="g85" x1="0" y1="49.70" x2="0" y2="81.10" gradientUnits="userSpaceOnUse"><stop offset="0.000" stop-color="#ff0400"/><stop offset="0.239" stop-color="#fa0000"/><stop offset="0.439" stop-color="#ff0000"/><stop offset="0.482" stop-color="#ff7f00"/><stop offset="0.520" stop-color="#ffff00"/><stop offset="0.558" stop-color="#80ff7f"/><stop offset="0.610" stop-color="#00ffff"/><stop offset="0.677" stop-color="#004cff"/><stop offset="0.732" stop-color="#0005ff"/><stop offset="0.764" stop-color="#0000e6"/><stop offset="1.000" stop-color="#0000e6"/></linearGradient>
<linearGradient id="g86" x1="0" y1="49.70" x2="0" y2="81.10" gradientUnits="userSpaceOnUse"><stop offset="0.000" stop-color="#ff0400"/><stop offset="0.207" stop-color="#f80000"/><stop offset="0.436" stop-color="#ff0000"/><stop offset="0.479" stop-color="#ff7f00"/><stop offset="0.517" stop-color="#ffff00"/><stop offset="0.556" stop-color="#7fff80"/><stop offset="0.607" stop-color="#00ffff"/><stop offset="0.673" stop-color="#004cff"/><stop offset="0.732" stop-color="#0000ff"/><stop offset="0.748" stop-color="#0000eb"/><stop offset="0.764" stop-color="#0000e6"/><stop offset="1.000" stop-color="#0000e6"/></linearGradient>
<linearGradient id="g87" x1="0" y1="49.70" x2="0" y2="81.10" gradientUnits="userSpaceOnUse"><stop offset="0.000" stop-color="#ff0300"/><stop offset="0.223" stop-color="#f50000"/><stop offset="0.432" stop-color="#ff0000"/><stop offset="0.477" stop-color="#ff7f00"/><stop offset="0.514" stop-color="#ffff00"/><stop offset="0.554" stop-color="#80ff7f"/><stop offset="0.605" stop-color="#00ffff"/><stop offset="0.668" stop-color="#004cff"/><stop offset="0.717" stop-color="#000eff"/><stop offset="0.732" stop-color="#0000f9"/><stop offset="0.748" stop-color="#0000e6"/><stop offset="1.000" stop-color="#0000e6"/></linearGradient>
<linearGradient id="g88" x1="0" y1="49.70" x2="0" y2="81.10" gradientUnits="userSpaceOnUse"><stop offset="0.000" stop-color="#ff0300"/><stop offset="0.207" stop-color="#f40000"/><stop offset="0.430" stop-color="#ff0200"/><stop offset="0.476" stop-color="#ff7f00"/><stop offset="0.512" stop-color="#ffff00"/><stop offset="0.553" stop-color="#80ff7f"/><stop offset="0.604" stop-color="#00ffff"/><stop offset="0.666" stop-color="#004dff"/><stop offset="0.717" stop-color="#000bff"/><stop offset="0.732" stop-color="#0000f6"/><stop offset="0.748" stop-color="#0000e6"/><stop offset="1.000" stop-color="#0000e6"/></linearGradient>
<linearGradient id="g89" x1="0" y1="49.70" x2="0" y2="81.10" gradientUnits="userSpaceOnUse"><stop offset="0.000" stop-color="#ff0300"/><stop offset="0.239" stop-color="#f20000"/><stop offset="0.428" stop-color="#ff0000"/><stop offset="0.475" stop-color="#ff8000"/><stop offset="0.511" stop-color="#fffe00"/><stop offset="0.552" stop-color="#7fff80"/><stop offset="0.603" stop-color="#00ffff"/><stop offset="0.663" stop-color="#004cff"/><stop offset="0.717" stop-color="#0008ff"/><stop offset="0.748" stop-color="#0000e6"/><stop offset="1.000" stop-color="#0000e6"/></linearGradient>
<linearGradient id="g90" x1="0" y1="49.70" x2="0" y2="81.10" gradientUnits="userSpaceOnUse"><stop offset="0.000" stop-color="#ff0300"/><stop offset="0.223" stop-color="#ef0000"/><stop offset="0.425" stop-color="#ff0000"/><stop offset="0.473" stop-color="#ff7f00"/><stop offset="0.510" stop-color="#ffff00"/><stop offset="0.551" stop-color="#7fff80"/><stop offset="0.602" stop-color="#00ffff"/><stop offset="0.660" stop-color="#004dff"/><stop offset="0.717" stop-color="#0004ff"/><stop offset="0.748" stop-color="#0000e6"/><stop offset="1.000" stop-color="#0000e6"/></linearGradient>
<linearGradient id="g91" x1="0" y1="49.70" x2="0" y2="81.10" gradientUnits="userSpaceOnUse"><stop offset="0.000" stop-color="#ff0200"/><stop offset="0.207" stop-color="#ec0000"/><stop offset="0.287" stop-color="#ee0000"/><stop offset="0.423" stop-color="#ff0000"/><stop offset="0.471" stop-color="#ff8000"/><stop offset="0.510" stop-color="#ffff00"/><stop offset="0.551" stop-color="#80ff80"/><stop offset="0.602" stop-color="#00ffff"/><stop offset="0.659" stop-color="#004dff"/><stop offset="0.717" stop-color="#0003ff"/><stop offset="0.732" stop-color="#0000ee"/><stop offset="0.748" stop-color="#0000e6"/><stop offset="1.000" stop-color="#0000e6"/></linearGradient>
<linearGradient id="g92" x1="0" y1="49.70" x2="0" y2="81.10" gradientUnits="userSpaceOnUse"><stop offset="0.000" stop-color="#ff0200"/><stop offset="0.223" stop-color="#e60000"/><stop offset="0.334" stop-color="#f00000"/><stop offset="0.420" stop-color="#ff0000"/><stop offset="0.468" stop-color="#ff7f00"/><stop offset="0.510" stop-color="#ffff00"/><stop offset="0.551" stop-color="#80ff80"/><stop offset="0.602" stop-color="#00ffff"/><stop offset="0.659" stop-color="#004dff"/><stop offset="0.717" stop-color="#0003ff"/><stop offset="0.732" stop-color="#0000ee"/><stop offset="0.748" stop-color="#0000e6"/><stop offset="1.000" stop-color="#0000e6"/></linearGradient>
<linearGradient id="g93" x1="0" y1="49.70" x2="0" y2="81.10" gradientUnits="userSpaceOnUse"><stop offset="0.000" stop-color="#ff0100"/><stop offset="0.223" stop-color="#e10000"/><stop offset="0.303" stop-color="#e70000"/><stop offset="0.418" stop-color="#ff0000"/><stop offset="0.465" stop-color="#ff7f00"/><stop offset="0.510" stop-color="#ffff00"/><stop offset="0.551" stop-color="#80ff80"/><stop offset="0.602" stop-color="#00ffff"/><stop offset="0.659" stop-color="#004dff"/><stop offset="0.717" stop-color="#0003ff"/><stop offset="0.732" stop-color="#0000ee"/><stop offset="0.748" stop-color="#0000e6"/><stop offset="1.000" stop-color="#0000e6"/></linearGradient>
<linearGradient id="g94" x1="0" y1="49.70" x2="0" y2="81.10" gradientUnits="userSpaceOnUse"><stop offset="0.000" stop-color="#ff0000"/><stop offset="0.223" stop-color="#db0000"/><stop offset="0.303" stop-color="#e20000"/><stop offset="0.416" stop-color="#ff0000"/><stop offset="0.509" stop-color="#ffff00"/><stop offset="0.551" stop-color="#7fff80"/><stop offset="0.602" stop-color="#00ffff"/><stop offset="0.659" stop-color="#004cff"/><stop offset="0.717" stop-color="#0003ff"/><stop offset="0.732" stop-color="#0000ee"/><stop offset="0.748" stop-color="#0000e6"/><stop offset="1.000" stop-color="#0000e6"/></linearGradient>
<linearGradient id="g95" x1="0" y1="49.70" x2="0" y2="81.10" gradientUnits="userSpaceOnUse"><stop offset="0.000" stop-color="#ff0000"/><stop offset="0.191" stop-color="#da0000"/><stop offset="0.239" stop-color="#d70000"/><stop offset="0.334" stop-color="#e60000"/><stop offset="0.415" stop-color="#ff0000"/><stop offset="0.508" stop-color="#ffff00"/><stop offset="0.551" stop-color="#80ff7f"/><stop offset="0.602" stop-color="#00ffff"/><stop offset="0.659" stop-color="#004cff"/><stop offset="0.717" stop-color="#0002ff"/><stop offset="0.732" stop-color="#0000ed"/><stop offset="0.748" stop-color="#0000e6"/><stop offset="1.000" stop-color="#0000e6"/></linearGradient>
<linearGradient id="g96" x1="0" y1="49.70" x2="0" y2="81.10" gradientUnits="userSpaceOnUse"><stop offset="0.000" stop-color="#ff0000"/><stop offset="0.223" stop-color="#d60000"/><stop offset="0.303" stop-color="#de0000"/><stop offset="0.414" stop-color="#ff0000"/><stop offset="0.458" stop-color="#ff8000"/><stop offset="0.506" stop-color="#ffff00"/><stop offset="0.551" stop-color="#7fff80"/><stop offset="0.602" stop-color="#00ffff"/><stop offset="0.658" stop-color="#004cff"/><stop offset="0.717" stop-color="#0002ff"/><stop offset="0.732" stop-color="#0000ec"/><stop offset="0.748" stop-color="#0000e6"/><stop offset="1.000" stop-color="#0000e6"/></linearGradient>
<linearGradient id="g97" x1="0" y1="49.70" x2="0" y2="81.10" gradientUnits="userSpaceOnUse"><stop offset="0.000" stop-color="#ff0000"/><stop offset="0.223" stop-color="#d90000"/><stop offset="0.334" stop-color="#e70000"/><stop offset="0.413" stop-color="#ff0000"/><stop offset="0.456" stop-color="#ff8000"/><stop offset="0.503" stop-color="#ffff00"/><stop offset="0.550" stop-color="#80ff7f"/><stop offset="0.602" stop-color="#00ffff"/><stop offset="0.657" stop-color="#004cff"/><stop offset="0.717" stop-color="#0000ff"/><stop offset="0.732" stop-color="#0000eb"/><stop offset="0.748" stop-color="#0000e6"/><stop offset="1.000" stop-color="#0000e6"/></linearGradient>
<linearGradient id="g98" x1="0" y1="49.70" x2="0" y2="81.10" gradientUnits="userSpaceOnUse"><stop offset="0.000" stop-color="#ff0100"/><stop offset="0.223" stop-color="#de0000"/><stop offset="0.287" stop-color="#e20000"/><stop offset="0.413" stop-color="#ff0000"/><stop offset="0.454" stop-color="#ff8000"/><stop offset="0.501" stop-color="#ffff00"/><stop offset="0.550" stop-color="#7fff80"/><stop offset="0.602" stop-color="#00ffff"/><stop offset="0.656" stop-color="#004cff"/><stop offset="0.717" stop-color="#0000fe"/><stop offset="0.732" stop-color="#0000ea"/><stop offset="0.748" stop-color="#0000e6"/><stop offset="1.000" stop-color="#0000e6"/></linearGradient>
<linearGradient id="g99" x1="0" y1="49.70" x2="0" y2="81.10" gradientUnits="userSpaceOnUse"><stop offset="0.000" stop-color="#ff0100"/><stop offset="0.207" stop-color="#e50000"/><stop offset="0.303" stop-color="#ea0000"/><stop offset="0.412" stop-color="#ff0000"/><stop offset="0.452" stop-color="#ff8000"/><stop offset="0.498" stop-color="#ffff00"/><stop offset="0.602" stop-color="#00ffff"/><stop offset="0.655" stop-color="#004cff"/><stop offset="0.717" stop-color="#0000fd"/><stop offset="0.732" stop-color="#0000e9"/><stop offset="0.748" stop-color="#0000e6"/><stop offset="1.000" stop-color="#0000e6"/></linearGradient>
<linearGradient id="g100" x1="0" y1="49.70" x2="0" y2="81.10" gradientUnits="userSpaceOnUse"><stop offset="0.000" stop-color="#ff0200"/><stop offset="0.207" stop-color="#ec0000"/><stop offset="0.287" stop-color="#ee0000"/><stop offset="0.412" stop-color="#ff0000"/><stop offset="0.451" stop-color="#ff7f00"/><stop offset="0.496" stop-color="#ffff00"/><stop offset="0.602" stop-color="#00ffff"/><stop offset="0.654" stop-color="#004cff"/><stop offset="0.717" stop-color="#0000fc"/><stop offset="0.732" stop-color="#0000e8"/><stop offset="0.748" stop-color="#0000e6"/><stop offset="1.000" stop-color="#0000e6"/></linearGradient>
<linearGradient id="g101" x1="0" y1="49.70" x2="0" y2="81.10" gradientUnits="userSpaceOnUse"><stop offset="0.000" stop-color="#ff0300"/><stop offset="0.239" stop-color="#f20000"/><stop offset="0.411" stop-color="#ff0000"/><stop offset="0.450" stop-color="#ff7f00"/><stop offset="0.495" stop-color="#ffff00"/><stop offset="0.602" stop-color="#00ffff"/><stop offset="0.654" stop-color="#004dff"/><stop offset="0.717" stop-color="#0000fb"/><stop offset="0.732" stop-color="#0000e6"/><stop offset="1.000" stop-color="#0000e6"/></linearGradient>
<linearGradient id="g102" x1="0" y1="49.70" x2="0" y2="81.10" gradientUnits="userSpaceOnUse"><stop offset="0.000" stop-color="#ff0400"/><stop offset="0.223" stop-color="#f90000"/><stop offset="0.411" stop-color="#ff0200"/><stop offset="0.449" stop-color="#ff7f00"/><stop offset="0.493" stop-color="#ffff00"/><stop offset="0.602" stop-color="#00ffff"/><stop offset="0.653" stop-color="#004cff"/><stop offset="0.717" stop-color="#0000fa"/><stop offset="0.732" stop-color="#0000e6"/><stop offset="1.000" stop-color="#0000e6"/></linearGradient>
<linearGradient id="g103" x1="0" y1="49.70" x2="0" y2="81.10" gradientUnits="userSpaceOnUse"><stop offset="0.000" stop-color="#ff0500"/><stop offset="0.410" stop-color="#ff0000"/><stop offset="0.447" stop-color="#ff7f00"/><stop offset="0.492" stop-color="#ffff00"/><stop offset="0.601" stop-color="#00ffff"/><stop offset="0.651" stop-color="#004dff"/><stop offset="0.701" stop-color="#000dff"/><stop offset="0.717" stop-color="#0000f7"/><stop offset="0.732" stop-color="#0000e6"/><stop offset="1.000" stop-color="#0000e6"/></linearGradient>
<linearGradient id="g104" x1="0" y1="49.70" x2="0" y2="81.10" gradientUnits="userSpaceOnUse"><stop offset="0.000" stop-color="#ff0500"/><stop offset="0.398" stop-color="#ff0500"/><stop offset="0.409" stop-color="#ff0000"/><stop offset="0.446" stop-color="#ff8000"/><stop offset="0.491" stop-color="#ffff00"/><stop offset="0.599" stop-color="#00ffff"/><stop offset="0.649" stop-color="#004cff"/><stop offset="0.701" stop-color="#000aff"/><stop offset="0.717" stop-color="#0000f5"/><stop offset="0.732" stop-color="#0000e6"/><stop offset="1.000" stop-color="#0000e6"/></linearGradient>
<linearGradient id="g105" x1="0" y1="49.70" x2="0" y2="81.10" gradientUnits="userSpaceOnUse"><stop offset="0.000" stop-color="#ff0500"/><stop offset="0.398" stop-color="#ff0500"/><stop offset="0.408" stop-color="#ff0000"/><stop offset="0.446" stop-color="#ff7f00"/><stop offset="0.490" stop-color="#ffff00"/><stop offset="0.597" stop-color="#00ffff"/><stop offset="0.647" stop-color="#004dff"/><stop offset="0.701" stop-color="#0008ff"/><stop offset="0.732" stop-color="#0000e6"/><stop offset="1.000" stop-color="#0000e6"/></linearGradient>
<linearGradient id="g106" x1="0" y1="64.00" x2="0" y2="68.90" gradientUnits="userSpaceOnUse"><stop offset="0.000" stop-color="#ff3800"/><stop offset="0.349" stop-color="#ff3800"/><stop offset="0.400" stop-color="#e5ff1a"/><stop offset="0.451" stop-color="#1affe5"/><stop offset="0.512" stop-color="#0061ff"/><stop offset="0.604" stop-color="#0000e6"/><stop offset="1.000" stop-color="#0000e6"/></linearGradient>
<linearGradient id="g107" x1="0" y1="91.90" x2="0" y2="124.60" gradientUnits="userSpaceOnUse"><stop offset="0.000" stop-color="#ff2800"/><stop offset="0.428" stop-color="#ff2800"/><stop offset="0.442" stop-color="#ff0000"/><stop offset="0.468" stop-color="#ff8000"/><stop offset="0.489" stop-color="#ffff00"/><stop offset="0.526" stop-color="#00ffff"/><stop offset="0.554" stop-color="#004dff"/><stop offset="0.596" stop-color="#000fff"/><stop offset="0.612" stop-color="#0000f8"/><stop offset="0.642" stop-color="#0000cb"/><stop offset="0.657" stop-color="#0000c7"/><stop offset="1.000" stop-color="#0000c7"/></linearGradient>
<linearGradient id="g108" x1="0" y1="91.90" x2="0" y2="124.60" gradientUnits="userSpaceOnUse"><stop offset="0.000" stop-color="#ff2800"/><stop offset="0.443" stop-color="#ff2800"/><stop offset="0.445" stop-color="#ff0000"/><stop offset="0.469" stop-color="#ff8000"/><stop offset="0.489" stop-color="#ffff00"/><stop offset="0.526" stop-color="#00ffff"/><stop offset="0.554" stop-color="#004dff"/><stop offset="0.596" stop-color="#000fff"/><stop offset="0.612" stop-color="#0000f8"/><stop offset="0.642" stop-color="#0000cb"/><stop offset="0.657" stop-color="#0000c7"/><stop offset="1.000" stop-color="#0000c7"/></linearGradient>
<linearGradient id="g109" x1="0" y1="91.90" x2="0" y2="124.60" gradientUnits="userSpaceOnUse"><stop offset="0.000" stop-color="#ff2700"/><stop offset="0.443" stop-color="#ff2700"/><stop offset="0.448" stop-color="#ff0100"/><stop offset="0.470" stop-color="#ff7f00"/><stop offset="0.489" stop-color="#ffff00"/><stop offset="0.526" stop-color="#00ffff"/><stop offset="0.554" stop-color="#004dff"/><stop offset="0.596" stop-color="#000fff"/><stop offset="0.612" stop-color="#0000f8"/><stop offset="0.642" stop-color="#0000cb"/><stop offset="0.657" stop-color="#0000c7"/><stop offset="1.000" stop-color="#0000c7"/></linearGradient>
<linearGradient id="g110" x1="0" y1="91.90" x2="0" y2="124.60" gradientUnits="userSpaceOnUse"><stop offset="0.000" stop-color="#ff2600"/><stop offset="0.443" stop-color="#ff2600"/><stop offset="0.452" stop-color="#ff0000"/><stop offset="0.472" stop-color="#ff8000"/><stop offset="0.490" stop-color="#ffff00"/><stop offset="0.527" stop-color="#00ffff"/><stop offset="0.554" stop-color="#004dff"/><stop offset="0.596" stop-color="#0010ff"/><stop offset="0.612" stop-color="#0000f9"/><stop offset="0.642" stop-color="#0000cc"/><stop offset="0.657" stop-color="#0000c7"/><stop offset="1.000" stop-color="#0000c7"/></linearGradient>
<linearGradient id="g111" x1="0" y1="91.90" x2="0" y2="124.60" gradientUnits="userSpaceOnUse"><stop offset="0.000" stop-color="#ff2500"/><stop offset="0.455" stop-color="#ff2500"/><stop offset="0.459" stop-color="#ff1600"/><stop offset="0.475" stop-color="#ff7f00"/><stop offset="0.491" stop-color="#ffff00"/><stop offset="0.530" stop-color="#00ffff"/><stop offset="0.558" stop-color="#004dff"/><stop offset="0.612" stop-color="#0000fe"/><stop offset="0.642" stop-color="#0000d2"/><stop offset="0.657" stop-color="#0000c7"/><stop offset="1.000" stop-color="#0000c7"/></linearGradient>
<linearGradient id="g112" x1="0" y1="91.90" x2="0" y2="124.60" gradientUnits="userSpaceOnUse"><stop offset="0.000" stop-color="#ff2400"/><stop offset="0.459" stop-color="#ff2400"/><stop offset="0.459" stop-color="#ff0100"/><stop offset="0.478" stop-color="#ff8100"/><stop offset="0.494" stop-color="#ffff00"/><stop offset="0.516" stop-color="#7fff80"/><stop offset="0.535" stop-color="#01fffe"/><stop offset="0.564" stop-color="#004dff"/><stop offset="0.612" stop-color="#0008ff"/><stop offset="0.627" stop-color="#0000f0"/><stop offset="0.657" stop-color="#0000c7"/><stop offset="1.000" stop-color="#0000c7"/></linearGradient>
<linearGradient id="g113" x1="0" y1="91.90" x2="0" y2="124.60" gradientUnits="userSpaceOnUse"><stop offset="0.000" stop-color="#ff2400"/><stop offset="0.459" stop-color="#ff2400"/><stop offset="0.463" stop-color="#ff0000"/><stop offset="0.481" stop-color="#ff8000"/><stop offset="0.498" stop-color="#ffff00"/><stop offset="0.521" stop-color="#80ff7f"/><stop offset="0.541" stop-color="#00ffff"/><stop offset="0.571" stop-color="#004cff"/><stop offset="0.627" stop-color="#0000fb"/><stop offset="0.657" stop-color="#0000cf"/><stop offset="0.673" stop-color="#0000c7"/><stop offset="1.000" stop-color="#0000c7"/></linearGradient>
<linearGradient id="g114" x1="0" y1="91.90" x2="0" y2="124.60" gradientUnits="userSpaceOnUse"><stop offset="0.000" stop-color="#ff2300"/><stop offset="0.459" stop-color="#ff2300"/><stop offset="0.466" stop-color="#ff0100"/><stop offset="0.502" stop-color="#ffff00"/><stop offset="0.526" stop-color="#80ff7f"/><stop offset="0.547" stop-color="#00ffff"/><stop offset="0.578" stop-color="#004dff"/><stop offset="0.627" stop-color="#0006ff"/><stop offset="0.673" stop-color="#0000c7"/><stop offset="1.000" stop-color="#0000c7"/></linearGradient>
<linearGradient id="g115" x1="0" y1="91.90" x2="0" y2="124.60" gradientUnits="userSpaceOnUse"><stop offset="0.000" stop-color="#ff2200"/><stop offset="0.474" stop-color="#ff2400"/><stop offset="0.505" stop-color="#ffff00"/><stop offset="0.531" stop-color="#7fff80"/><stop offset="0.552" stop-color="#00ffff"/><stop offset="0.585" stop-color="#004dff"/><stop offset="0.627" stop-color="#0010ff"/><stop offset="0.642" stop-color="#0000f8"/><stop offset="0.673" stop-color="#0000cc"/><stop offset="0.688" stop-color="#0000c7"/><stop offset="1.000" stop-color="#0000c7"/></linearGradient>
<linearGradient id="g116" x1="0" y1="91.90" x2="0" y2="124.60" gradientUnits="userSpaceOnUse"><stop offset="0.000" stop-color="#ff2100"/><stop offset="0.459" stop-color="#ff2100"/><stop offset="0.471" stop-color="#ff0100"/><stop offset="0.507" stop-color="#ffff00"/><stop offset="0.534" stop-color="#80ff7f"/><stop offset="0.556" stop-color="#00ffff"/><stop offset="0.589" stop-color="#004dff"/><stop offset="0.642" stop-color="#0000ff"/><stop offset="0.673" stop-color="#0000d2"/><stop offset="0.688" stop-color="#0000c7"/><stop offset="1.000" stop-color="#0000c7"/></linearGradient>
<linearGradient id="g117" x1="0" y1="91.90" x2="0" y2="124.60" gradientUnits="userSpaceOnUse"><stop offset="0.000" stop-color="#ff2000"/><stop offset="0.459" stop-color="#ff2000"/><stop offset="0.469" stop-color="#ff0100"/><stop offset="0.506" stop-color="#feff01"/><stop offset="0.534" stop-color="#7fff80"/><stop offset="0.550" stop-color="#1effe1"/><stop offset="0.556" stop-color="#00feff"/><stop offset="0.589" stop-color="#004dff"/><stop offset="0.642" stop-color="#0000ff"/><stop offset="0.673" stop-color="#0000d3"/><stop offset="0.688" stop-color="#0000c7"/><stop offset="1.000" stop-color="#0000c7"/></linearGradient>
<linearGradient id="g118" x1="0" y1="91.90" x2="0" y2="124.60" gradientUnits="userSpaceOnUse"><stop offset="0.000" stop-color="#ff1f00"/><stop offset="0.466" stop-color="#ff1f00"/><stop offset="0.474" stop-color="#ff3800"/><stop offset="0.502" stop-color="#fffe00"/><stop offset="0.530" stop-color="#80ff7f"/><stop offset="0.550" stop-color="#10ffef"/><stop offset="0.554" stop-color="#00feff"/><stop offset="0.588" stop-color="#004cff"/><stop offset="0.642" stop-color="#0000fd"/><stop offset="0.673" stop-color="#0000d0"/><stop offset="0.688" stop-color="#0000c7"/><stop offset="1.000" stop-color="#0000c7"/></linearGradient>
<linearGradient id="g119" x1="0" y1="91.90" x2="0" y2="124.60" gradientUnits="userSpaceOnUse"><stop offset="0.000" stop-color="#ff1e00"/><stop offset="0.461" stop-color="#ff1e00"/><stop offset="0.474" stop-color="#ff5900"/><stop offset="0.498" stop-color="#ffff00"/><stop offset="0.526" stop-color="#80ff7f"/><stop offset="0.550" stop-color="#00ffff"/><stop offset="0.585" stop-color="#004cff"/><stop offset="0.627" stop-color="#0010ff"/><stop offset="0.642" stop-color="#0000f9"/><stop offset="0.673" stop-color="#0000cd"/><stop offset="0.688" stop-color="#0000c7"/><stop offset="1.000" stop-color="#0000c7"/></linearGradient>
<linearGradient id="g120" x1="0" y1="91.90" x2="0" y2="124.60" gradientUnits="userSpaceOnUse"><stop offset="0.000" stop-color="#ff1d00"/><stop offset="0.443" stop-color="#ff1d00"/><stop offset="0.456" stop-color="#ff0100"/><stop offset="0.493" stop-color="#feff01"/><stop offset="0.520" stop-color="#85ff7a"/><stop offset="0.547" stop-color="#00ffff"/><stop offset="0.583" stop-color="#004cff"/><stop offset="0.627" stop-color="#000cff"/><stop offset="0.642" stop-color="#0000f5"/><stop offset="0.673" stop-color="#0000c9"/><stop offset="0.688" stop-color="#0000c7"/><stop offset="1.000" stop-color="#0000c7"/></linearGradient>
<linearGradient id="g121" x1="0" y1="91.90" x2="0" y2="124.60" gradientUnits="userSpaceOnUse"><stop offset="0.000" stop-color="#ff1d00"/><stop offset="0.450" stop-color="#ff1d00"/><stop offset="0.459" stop-color="#ff3b00"/><stop offset="0.487" stop-color="#fffe00"/><stop offset="0.544" stop-color="#00ffff"/><stop offset="0.580" stop-color="#004cff"/><stop offset="0.627" stop-color="#0008ff"/><stop offset="0.642" stop-color="#0000f1"/><stop offset="0.673" stop-color="#0000c7"/><stop offset="1.000" stop-color="#0000c7"/></linearGradient>
<linearGradient id="g122" x1="0" y1="91.90" x2="0" y2="124.60" gradientUnits="userSpaceOnUse"><stop offset="0.000" stop-color="#ff1c00"/><stop offset="0.443" stop-color="#ff1c00"/><stop offset="0.445" stop-color="#ff0100"/><stop offset="0.482" stop-color="#ffff00"/><stop offset="0.535" stop-color="#19ffe6"/><stop offset="0.541" stop-color="#00feff"/><stop offset="0.577" stop-color="#004cff"/><stop offset="0.627" stop-color="#0005ff"/><stop offset="0.673" stop-color="#0000c7"/><stop offset="1.000" stop-color="#0000c7"/></linearGradient>
<linearGradient id="g123" x1="0" y1="91.90" x2="0" y2="124.60" gradientUnits="userSpaceOnUse"><stop offset="0.000" stop-color="#ff1b00"/><stop offset="0.441" stop-color="#ff1b00"/><stop offset="0.443" stop-color="#ff1100"/><stop offset="0.478" stop-color="#ffff00"/><stop offset="0.539" stop-color="#00ffff"/><stop offset="0.575" stop-color="#004dff"/><stop offset="0.627" stop-color="#0002ff"/><stop offset="0.657" stop-color="#0000d5"/><stop offset="0.673" stop-color="#0000c7"/><stop offset="1.000" stop-color="#0000c7"/></linearGradient>
<linearGradient id="g124" x1="0" y1="91.90" x2="0" y2="124.60" gradientUnits="userSpaceOnUse"><stop offset="0.000" stop-color="#ff1a00"/><stop offset="0.428" stop-color="#ff1a00"/><stop offset="0.438" stop-color="#ff0100"/><stop offset="0.474" stop-color="#fffc00"/><stop offset="0.537" stop-color="#00ffff"/><stop offset="0.574" stop-color="#004dff"/><stop offset="0.627" stop-color="#0000ff"/><stop offset="0.657" stop-color="#0000d2"/><stop offset="0.673" stop-color="#0000c7"/><stop offset="1.000" stop-color="#0000c7"/></linearGradient>
<linearGradient id="g125" x1="0" y1="91.90" x2="0" y2="124.60" gradientUnits="userSpaceOnUse"><stop offset="0.000" stop-color="#ff1a00"/><stop offset="0.428" stop-color="#ff1a00"/><stop offset="0.435" stop-color="#ff0100"/><stop offset="0.471" stop-color="#ffff00"/><stop offset="0.535" stop-color="#00ffff"/><stop offset="0.572" stop-color="#004dff"/><stop offset="0.627" stop-color="#0000fc"/><stop offset="0.657" stop-color="#0000d0"/><stop offset="0.673" stop-color="#0000c7"/><stop offset="1.000" stop-color="#0000c7"/></linearGradient>
<linearGradient id="g126" x1="0" y1="91.90" x2="0" y2="124.60" gradientUnits="userSpaceOnUse"><stop offset="0.000" stop-color="#ff1900"/><stop offset="0.428" stop-color="#ff1900"/><stop offset="0.431" stop-color="#ff0100"/><stop offset="0.468" stop-color="#feff01"/><stop offset="0.520" stop-color="#36ffc9"/><stop offset="0.534" stop-color="#00feff"/><stop offset="0.571" stop-color="#004dff"/><stop offset="0.627" stop-color="#0000fa"/><stop offset="0.657" stop-color="#0000ce"/><stop offset="0.673" stop-color="#0000c7"/><stop offset="1.000" stop-color="#0000c7"/></linearGradient>
<linearGradient id="g127" x1="0" y1="91.90" x2="0" y2="124.60" gradientUnits="userSpaceOnUse"><stop offset="0.000" stop-color="#ff1800"/><stop offset="0.413" stop-color="#ff1800"/><stop offset="0.428" stop-color="#ff0100"/><stop offset="0.465" stop-color="#ffff00"/><stop offset="0.532" stop-color="#00ffff"/><stop offset="0.569" stop-color="#004dff"/><stop offset="0.612" stop-color="#000fff"/><stop offset="0.627" stop-color="#0000f8"/><stop offset="0.657" stop-color="#0000cc"/><stop offset="0.673" stop-color="#0000c7"/><stop offset="1.000" stop-color="#0000c7"/></linearGradient>
<linearGradient id="g128" x1="0" y1="91.90" x2="0" y2="124.60" gradientUnits="userSpaceOnUse"><stop offset="0.000" stop-color="#ff1700"/><stop offset="0.424" stop-color="#ff1700"/><stop offset="0.428" stop-color="#ff1900"/><stop offset="0.461" stop-color="#ffff00"/><stop offset="0.531" stop-color="#00ffff"/><stop offset="0.568" stop-color="#004cff"/><stop offset="0.612" stop-color="#000dff"/><stop offset="0.627" stop-color="#0000f6"/><stop offset="0.657" stop-color="#0000ca"/><stop offset="0.673" stop-color="#0000c7"/><stop offset="1.000" stop-color="#0000c7"/></linearGradient>
<linearGradient id="g129" x1="0" y1="91.90" x2="0" y2="124.60" gradientUnits="userSpaceOnUse"><stop offset="0.000" stop-color="#ff1600"/><stop offset="0.421" stop-color="#ff1600"/><stop offset="0.428" stop-color="#ff2e00"/><stop offset="0.458" stop-color="#fffe00"/><stop offset="0.530" stop-color="#00ffff"/><stop offset="0.566" stop-color="#004dff"/><stop offset="0.612" stop-color="#000bff"/><stop offset="0.627" stop-color="#0000f4"/><stop offset="0.657" stop-color="#0000c8"/><stop offset="1.000" stop-color="#0000c7"/></linearGradient>
<linearGradient id="g130" x1="0" y1="91.90" x2="0" y2="124.60" gradientUnits="userSpaceOnUse"><stop offset="0.000" stop-color="#ff1600"/><stop offset="0.413" stop-color="#ff1600"/><stop offset="0.419" stop-color="#ff0100"/><stop offset="0.456" stop-color="#ffff00"/><stop offset="0.528" stop-color="#00ffff"/><stop offset="0.565" stop-color="#004dff"/><stop offset="0.612" stop-color="#000aff"/><stop offset="0.627" stop-color="#0000f2"/><stop offset="0.657" stop-color="#0000c7"/><stop offset="1.000" stop-color="#0000c7"/></linearGradient>
<linearGradient id="g131" x1="0" y1="91.90" x2="0" y2="124.60" gradientUnits="userSpaceOnUse"><stop offset="0.000" stop-color="#ff1500"/><stop offset="0.417" stop-color="#ff1500"/><stop offset="0.428" stop-color="#ff5100"/><stop offset="0.453" stop-color="#ffff00"/><stop offset="0.491" stop-color="#80ff7f"/><stop offset="0.528" stop-color="#00ffff"/><stop offset="0.564" stop-color="#004dff"/><stop offset="0.612" stop-color="#0008ff"/><stop offset="0.627" stop-color="#0000f1"/><stop offset="0.657" stop-color="#0000c7"/><stop offset="1.000" stop-color="#0000c7"/></linearGradient>
<linearGradient id="g132" x1="0" y1="91.90" x2="0" y2="124.60" gradientUnits="userSpaceOnUse"><stop offset="0.000" stop-color="#ff1400"/><stop offset="0.415" stop-color="#ff1400"/><stop offset="0.428" stop-color="#ff5d00"/><stop offset="0.451" stop-color="#ffff00"/><stop offset="0.520" stop-color="#18ffe7"/><stop offset="0.527" stop-color="#00feff"/><stop offset="0.564" stop-color="#004cff"/><stop offset="0.612" stop-color="#0007ff"/><stop offset="0.627" stop-color="#0000f0"/><stop offset="0.657" stop-color="#0000c7"/><stop offset="1.000" stop-color="#0000c7"/></linearGradient>
<linearGradient id="g133" x1="0" y1="91.90" x2="0" y2="124.60" gradientUnits="userSpaceOnUse"><stop offset="0.000" stop-color="#ff1400"/><stop offset="0.413" stop-color="#ff1400"/><stop offset="0.428" stop-color="#ff6600"/><stop offset="0.450" stop-color="#ffff00"/><stop offset="0.490" stop-color="#80ff7f"/><stop offset="0.526" stop-color="#00ffff"/><stop offset="0.563" stop-color="#004cff"/><stop offset="0.612" stop-color="#0006ff"/><stop offset="0.657" stop-color="#0000c7"/><stop offset="1.000" stop-color="#0000c7"/></linearGradient>
<linearGradient id="g134" x1="0" y1="91.90" x2="0" y2="124.60" gradientUnits="userSpaceOnUse"><stop offset="0.000" stop-color="#ff1400"/><stop offset="0.414" stop-color="#ff1400"/><stop offset="0.428" stop-color="#ff5f00"/><stop offset="0.451" stop-color="#fffe00"/><stop offset="0.528" stop-color="#00ffff"/><stop offset="0.564" stop-color="#004cff"/><stop offset="0.612" stop-color="#0007ff"/><stop offset="0.627" stop-color="#0000f0"/><stop offset="0.657" stop-color="#0000c7"/><stop offset="1.000" stop-color="#0000c7"/></linearGradient>
<linearGradient id="g135" x1="0" y1="91.90" x2="0" y2="124.60" gradientUnits="userSpaceOnUse"><stop offset="0.000" stop-color="#ff1400"/><stop offset="0.417" stop-color="#ff1400"/><stop offset="0.428" stop-color="#ff5100"/><stop offset="0.453" stop-color="#ffff00"/><stop offset="0.529" stop-color="#00ffff"/><stop offset="0.565" stop-color="#004cff"/><stop offset="0.612" stop-color="#000aff"/><stop offset="0.627" stop-color="#0000f3"/><stop offset="0.657" stop-color="#0000c7"/><stop offset="1.000" stop-color="#0000c7"/></linearGradient>
<linearGradient id="g136" x1="0" y1="91.90" x2="0" y2="124.60" gradientUnits="userSpaceOnUse"><stop offset="0.000" stop-color="#ff1400"/><stop offset="0.419" stop-color="#ff1400"/><stop offset="0.428" stop-color="#ff4000"/><stop offset="0.456" stop-color="#ffff00"/><stop offset="0.531" stop-color="#00ffff"/><stop offset="0.567" stop-color="#004cff"/><stop offset="0.612" stop-color="#000cff"/><stop offset="0.627" stop-color="#0000f5"/><stop offset="0.657" stop-color="#0000c9"/><stop offset="0.673" stop-color="#0000c7"/><stop offset="1.000" stop-color="#0000c7"/></linearGradient>
<linearGradient id="g137" x1="0" y1="91.90" x2="0" y2="124.60" gradientUnits="userSpaceOnUse"><stop offset="0.000" stop-color="#ff1400"/><stop offset="0.413" stop-color="#ff1400"/><stop offset="0.421" stop-color="#ff0000"/><stop offset="0.458" stop-color="#ffff00"/><stop offset="0.534" stop-color="#00ffff"/><stop offset="0.569" stop-color="#004cff"/><stop offset="0.612" stop-color="#000fff"/><stop offset="0.627" stop-color="#0000f8"/><stop offset="0.657" stop-color="#0000cc"/><stop offset="0.673" stop-color="#0000c7"/><stop offset="1.000" stop-color="#0000c7"/></linearGradient>
<linearGradient id="g138" x1="0" y1="91.90" x2="0" y2="124.60" gradientUnits="userSpaceOnUse"><stop offset="0.000" stop-color="#ff1400"/><stop offset="0.413" stop-color="#ff1400"/><stop offset="0.424" stop-color="#ff0100"/><stop offset="0.460" stop-color="#ffff00"/><stop offset="0.497" stop-color="#80ff7f"/><stop offset="0.536" stop-color="#00ffff"/><stop offset="0.572" stop-color="#004dff"/><stop offset="0.627" stop-color="#0000fc"/><stop offset="0.657" stop-color="#0000cf"/><stop offset="0.673" stop-color="#0000c7"/><stop offset="1.000" stop-color="#0000c7"/></linearGradient>
<linearGradient id="g139" x1="0" y1="91.90" x2="0" y2="124.60" gradientUnits="userSpaceOnUse"><stop offset="0.000" stop-color="#ff1400"/><stop offset="0.413" stop-color="#ff1400"/><stop offset="0.425" stop-color="#ff0000"/><stop offset="0.461" stop-color="#ffff00"/><stop offset="0.498" stop-color="#80ff7f"/><stop offset="0.538" stop-color="#00ffff"/><stop offset="0.574" stop-color="#004cff"/><stop offset="0.627" stop-color="#0000ff"/><stop offset="0.657" stop-color="#0000d2"/><stop offset="0.673" stop-color="#0000c7"/><stop offset="1.000" stop-color="#0000c7"/></linearGradient>
<linearGradient id="g140" x1="0" y1="91.90" x2="0" y2="124.60" gradientUnits="userSpaceOnUse"><stop offset="0.000" stop-color="#ff1400"/><stop offset="0.413" stop-color="#ff1400"/><stop offset="0.425" stop-color="#ff0000"/><stop offset="0.462" stop-color="#ffff00"/><stop offset="0.498" stop-color="#80ff7f"/><stop offset="0.538" stop-color="#00ffff"/><stop offset="0.576" stop-color="#004cff"/><stop offset="0.627" stop-color="#0002ff"/><stop offset="0.657" stop-color="#0000d5"/><stop offset="0.673" stop-color="#0000c7"/><stop offset="1.000" stop-color="#0000c7"/></linearGradient>
<linearGradient id="g141" x1="0" y1="91.90" x2="0" y2="124.60" gradientUnits="userSpaceOnUse"><stop offset="0.000" stop-color="#ff1400"/><stop offset="0.424" stop-color="#ff1400"/><stop offset="0.428" stop-color="#ff1a00"/><stop offset="0.462" stop-color="#ffff00"/><stop offset="0.499" stop-color="#7fff80"/><stop offset="0.539" stop-color="#00ffff"/><stop offset="0.577" stop-color="#004cff"/><stop offset="0.627" stop-color="#0005ff"/><stop offset="0.673" stop-color="#0000c7"/><stop offset="1.000" stop-color="#0000c7"/></linearGradient>
<linearGradient id="g142" x1="0" y1="91.90" x2="0" y2="124.60" gradientUnits="userSpaceOnUse"><stop offset="0.000" stop-color="#ff1400"/><stop offset="0.413" stop-color="#ff1400"/><stop offset="0.423" stop-color="#ff0100"/><stop offset="0.461" stop-color="#ffff00"/><stop offset="0.535" stop-color="#0dfff2"/><stop offset="0.539" stop-color="#00feff"/><stop offset="0.580" stop-color="#004cff"/><stop offset="0.627" stop-color="#0008ff"/><stop offset="0.642" stop-color="#0000f1"/><stop offset="0.673" stop-color="#0000c7"/><stop offset="1.000" stop-color="#0000c7"/></linearGradient>
<linearGradient id="g143" x1="0" y1="91.90" x2="0" y2="124.60" gradientUnits="userSpaceOnUse"><stop offset="0.000" stop-color="#ff1400"/><stop offset="0.413" stop-color="#ff1400"/><stop offset="0.421" stop-color="#ff0000"/><stop offset="0.461" stop-color="#fffe00"/><stop offset="0.540" stop-color="#00ffff"/><stop offset="0.582" stop-color="#004dff"/><stop offset="0.627" stop-color="#000bff"/><stop offset="0.642" stop-color="#0000f4"/><stop offset="0.673" stop-color="#0000c8"/><stop offset="1.000" stop-color="#0000c7"/></linearGradient>
<linearGradient id="g144" x1="0" y1="91.90" x2="0" y2="124.60" gradientUnits="userSpaceOnUse"><stop offset="0.000" stop-color="#ff1400"/><stop offset="0.413" stop-color="#ff1400"/><stop offset="0.418" stop-color="#ff0100"/><stop offset="0.461" stop-color="#ffff00"/><stop offset="0.540" stop-color="#00ffff"/><stop offset="0.584" stop-color="#004dff"/><stop offset="0.627" stop-color="#000eff"/><stop offset="0.642" stop-color="#0000f7"/><stop offset="0.673" stop-color="#0000cb"/><stop offset="0.688" stop-color="#0000c7"/><stop offset="1.000" stop-color="#0000c7"/></linearGradient>
<linearGradient id="g145" x1="0" y1="91.90" x2="0" y2="124.60" gradientUnits="userSpaceOnUse"><stop offset="0.000" stop-color="#ff1400"/><stop offset="0.413" stop-color="#ff1400"/><stop offset="0.416" stop-color="#ff0000"/><stop offset="0.461" stop-color="#fffe00"/><stop offset="0.540" stop-color="#00ffff"/><stop offset="0.586" stop-color="#004cff"/><stop offset="0.642" stop-color="#0000fa"/><stop offset="0.673" stop-color="#0000ce"/><stop offset="0.688" stop-color="#0000c7"/><stop offset="1.000" stop-color="#0000c7"/></linearGradient>
<linearGradient id="g146" x1="0" y1="91.90" x2="0" y2="124.60" gradientUnits="userSpaceOnUse"><stop offset="0.000" stop-color="#ff1400"/><stop offset="0.398" stop-color="#ff1400"/><stop offset="0.413" stop-color="#ff0100"/><stop offset="0.460" stop-color="#ffff00"/><stop offset="0.541" stop-color="#00ffff"/><stop offset="0.588" stop-color="#004dff"/><stop offset="0.642" stop-color="#0000fd"/><stop offset="0.673" stop-color="#0000d1"/><stop offset="0.688" stop-color="#0000c7"/><stop offset="1.000" stop-color="#0000c7"/></linearGradient>
<linearGradient id="g147" x1="0" y1="91.90" x2="0" y2="124.60" gradientUnits="userSpaceOnUse"><stop offset="0.000" stop-color="#ff1400"/><stop offset="0.398" stop-color="#ff1400"/><stop offset="0.410" stop-color="#ff0100"/><stop offset="0.460" stop-color="#ffff00"/><stop offset="0.541" stop-color="#00ffff"/><stop offset="0.590" stop-color="#004dff"/><stop offset="0.642" stop-color="#0001ff"/><stop offset="0.673" stop-color="#0000d4"/><stop offset="0.688" stop-color="#0000c7"/><stop offset="1.000" stop-color="#0000c7"/></linearGradient>
<linearGradient id="g148" x1="0" y1="91.90" x2="0" y2="124.60" gradientUnits="userSpaceOnUse"><stop offset="0.000" stop-color="#ff1400"/><stop offset="0.398" stop-color="#ff1400"/><stop offset="0.408" stop-color="#ff0100"/><stop offset="0.460" stop-color="#ffff00"/><stop offset="0.541" stop-color="#00ffff"/><stop offset="0.591" stop-color="#004dff"/><stop offset="0.642" stop-color="#0003ff"/><stop offset="0.688" stop-color="#0000c7"/><stop offset="1.000" stop-color="#0000c7"/></linearGradient>
<linearGradient id="g149" x1="0" y1="91.90" x2="0" y2="124.60" gradientUnits="userSpaceOnUse"><stop offset="0.000" stop-color="#ff1400"/><stop offset="0.398" stop-color="#ff1400"/><stop offset="0.406" stop-color="#ff0000"/><stop offset="0.459" stop-color="#ffff00"/><stop offset="0.541" stop-color="#00ffff"/><stop offset="0.593" stop-color="#004cff"/><stop offset="0.642" stop-color="#0005ff"/><stop offset="0.688" stop-color="#0000c7"/><stop offset="1.000" stop-color="#0000c7"/></linearGradient>
<linearGradient id="g150" x1="0" y1="91.90" x2="0" y2="124.60" gradientUnits="userSpaceOnUse"><stop offset="0.000" stop-color="#ff1400"/><stop offset="0.404" stop-color="#ff1400"/><stop offset="0.413" stop-color="#ff2900"/><stop offset="0.459" stop-color="#ffff00"/><stop offset="0.505" stop-color="#76ff89"/><stop offset="0.541" stop-color="#00ffff"/><stop offset="0.593" stop-color="#004cff"/><stop offset="0.642" stop-color="#0006ff"/><stop offset="0.688" stop-color="#0000c7"/><stop offset="1.000" stop-color="#0000c7"/></linearGradient>
<linearGradient id="g151" x1="0" y1="91.90" x2="0" y2="124.60" gradientUnits="userSpaceOnUse"><stop offset="0.000" stop-color="#ff1400"/><stop offset="0.398" stop-color="#ff1400"/><stop offset="0.403" stop-color="#ff0000"/><stop offset="0.459" stop-color="#ffff00"/><stop offset="0.505" stop-color="#76ff89"/><stop offset="0.541" stop-color="#00ffff"/><stop offset="0.593" stop-color="#004cff"/><stop offset="0.642" stop-color="#0006ff"/><stop offset="0.688" stop-color="#0000c7"/><stop offset="1.000" stop-color="#0000c7"/></linearGradient>
<linearGradient id="g152" x1="0" y1="91.90" x2="0" y2="124.60" gradientUnits="userSpaceOnUse"><stop offset="0.000" stop-color="#ff1400"/><stop offset="0.398" stop-color="#ff1400"/><stop offset="0.402" stop-color="#ff0000"/><stop offset="0.457" stop-color="#fffe00"/><stop offset="0.505" stop-color="#76ff89"/><stop offset="0.541" stop-color="#00ffff"/><stop offset="0.593" stop-color="#004cff"/><stop offset="0.642" stop-color="#0006ff"/><stop offset="0.688" stop-color="#0000c7"/><stop offset="1.000" stop-color="#0000c7"/></linearGradient>
<linearGradient id="g153" x1="0" y1="91.90" x2="0" y2="124.60" gradientUnits="userSpaceOnUse"><stop offset="0.000" stop-color="#ff1400"/><stop offset="0.401" stop-color="#ff1400"/><stop offset="0.413" stop-color="#ff3700"/><stop offset="0.457" stop-color="#fffe00"/><stop offset="0.502" stop-color="#7fff80"/><stop offset="0.541" stop-color="#00ffff"/><stop offset="0.593" stop-color="#004cff"/><stop offset="0.642" stop-color="#0006ff"/><stop offset="0.688" stop-color="#0000c7"/><stop offset="1.000" stop-color="#0000c7"/></linearGradient>
<linearGradient id="g154" x1="0" y1="91.90" x2="0" y2="124.60" gradientUnits="userSpaceOnUse"><stop offset="0.000" stop-color="#ff1400"/><stop offset="0.399" stop-color="#ff1400"/><stop offset="0.413" stop-color="#ff3f00"/><stop offset="0.456" stop-color="#ffff00"/><stop offset="0.501" stop-color="#80ff7f"/><stop offset="0.541" stop-color="#00ffff"/><stop offset="0.593" stop-color="#004cff"/><stop offset="0.642" stop-color="#0006ff"/><stop offset="0.688" stop-color="#0000c7"/><stop offset="1.000" stop-color="#0000c7"/></linearGradient>
<linearGradient id="g155" x1="0" y1="91.90" x2="0" y2="124.60" gradientUnits="userSpaceOnUse"><stop offset="0.000" stop-color="#ff1400"/><stop offset="0.398" stop-color="#ff1400"/><stop offset="0.399" stop-color="#ff0000"/><stop offset="0.426" stop-color="#ff8000"/><stop offset="0.456" stop-color="#ffff00"/><stop offset="0.505" stop-color="#75ff8a"/><stop offset="0.541" stop-color="#00ffff"/><stop offset="0.593" stop-color="#004cff"/><stop offset="0.642" stop-color="#0006ff"/><stop offset="0.688" stop-color="#0000c7"/><stop offset="1.000" stop-color="#0000c7"/></linearGradient>
<linearGradient id="g156" x1="0" y1="91.90" x2="0" y2="124.60" gradientUnits="userSpaceOnUse"><stop offset="0.000" stop-color="#ff1400"/><stop offset="0.398" stop-color="#ff1400"/><stop offset="0.413" stop-color="#ff4700"/><stop offset="0.425" stop-color="#ff8000"/><stop offset="0.455" stop-color="#ffff00"/><stop offset="0.501" stop-color="#80ff7f"/><stop offset="0.541" stop-color="#00ffff"/><stop offset="0.593" stop-color="#004cff"/><stop offset="0.642" stop-color="#0006ff"/><stop offset="0.688" stop-color="#0000c7"/><stop offset="1.000" stop-color="#0000c7"/></linearGradient>
<linearGradient id="g157" x1="0" y1="91.90" x2="0" y2="124.60" gradientUnits="userSpaceOnUse"><stop offset="0.000" stop-color="#ff1400"/><stop offset="0.382" stop-color="#ff1400"/><stop offset="0.397" stop-color="#ff0100"/><stop offset="0.424" stop-color="#ff7f00"/><stop offset="0.455" stop-color="#ffff00"/><stop offset="0.501" stop-color="#80ff7f"/><stop offset="0.541" stop-color="#00ffff"/><stop offset="0.593" stop-color="#004dff"/><stop offset="0.642" stop-color="#0006ff"/><stop offset="0.688" stop-color="#0000c7"/><stop offset="1.000" stop-color="#0000c7"/></linearGradient>
<linearGradient id="g158" x1="0" y1="91.90" x2="0" y2="124.60" gradientUnits="userSpaceOnUse"><stop offset="0.000" stop-color="#ff1400"/><stop offset="0.396" stop-color="#ff1400"/><stop offset="0.398" stop-color="#ff0700"/><stop offset="0.424" stop-color="#ff8000"/><stop offset="0.454" stop-color="#ffff00"/><stop offset="0.501" stop-color="#80ff7f"/><stop offset="0.540" stop-color="#00ffff"/><stop offset="0.593" stop-color="#004dff"/><stop offset="0.642" stop-color="#0005ff"/><stop offset="0.688" stop-color="#0000c7"/><stop offset="1.000" stop-color="#0000c7"/></linearGradient>
<linearGradient id="g159" x1="0" y1="91.90" x2="0" y2="124.60" gradientUnits="userSpaceOnUse"><stop offset="0.000" stop-color="#ff1400"/><stop offset="0.382" stop-color="#ff1400"/><stop offset="0.396" stop-color="#ff0000"/><stop offset="0.423" stop-color="#ff8000"/><stop offset="0.454" stop-color="#ffff00"/><stop offset="0.501" stop-color="#7fff80"/><stop offset="0.540" stop-color="#00ffff"/><stop offset="0.593" stop-color="#004cff"/><stop offset="0.642" stop-color="#0005ff"/><stop offset="0.688" stop-color="#0000c7"/><stop offset="1.000" stop-color="#0000c7"/></linearGradient>
<linearGradient id="g160" x1="0" y1="91.90" x2="0" y2="124.60" gradientUnits="userSpaceOnUse"><stop offset="0.000" stop-color="#ff1400"/><stop offset="0.395" stop-color="#ff1400"/><stop offset="0.398" stop-color="#ff0b00"/><stop offset="0.422" stop-color="#ff7f00"/><stop offset="0.454" stop-color="#ffff00"/><stop offset="0.500" stop-color="#80ff7f"/><stop offset="0.540" stop-color="#00ffff"/><stop offset="0.593" stop-color="#004cff"/><stop offset="0.642" stop-color="#0005ff"/><stop offset="0.688" stop-color="#0000c7"/><stop offset="1.000" stop-color="#0000c7"/></linearGradient>
<linearGradient id="g161" x1="0" y1="91.90" x2="0" y2="124.60" gradientUnits="userSpaceOnUse"><stop offset="0.000" stop-color="#ff1400"/><stop offset="0.382" stop-color="#ff1400"/><stop offset="0.395" stop-color="#ff0000"/><stop offset="0.422" stop-color="#ff8000"/><stop offset="0.454" stop-color="#ffff00"/><stop offset="0.500" stop-color="#7fff80"/><stop offset="0.540" stop-color="#00ffff"/><stop offset="0.593" stop-color="#004dff"/><stop offset="0.642" stop-color="#0005ff"/><stop offset="0.688" stop-color="#0000c7"/><stop offset="1.000" stop-color="#0000c7"/></linearGradient>
<linearGradient id="g162" x1="0" y1="91.90" x2="0" y2="124.60" gradientUnits="userSpaceOnUse"><stop offset="0.000" stop-color="#ff1400"/><stop offset="0.394" stop-color="#ff1400"/><stop offset="0.398" stop-color="#ff0f00"/><stop offset="0.421" stop-color="#ff8000"/><stop offset="0.453" stop-color="#ffff00"/><stop offset="0.500" stop-color="#80ff7f"/><stop offset="0.540" stop-color="#00ffff"/><stop offset="0.593" stop-color="#004dff"/><stop offset="0.642" stop-color="#0005ff"/><stop offset="0.688" stop-color="#0000c7"/><stop offset="1.000" stop-color="#0000c7"/></linearGradient>
<linearGradient id="g163" x1="0" y1="91.90" x2="0" y2="124.60" gradientUnits="userSpaceOnUse"><stop offset="0.000" stop-color="#ff1400"/><stop offset="0.382" stop-color="#ff1400"/><stop offset="0.394" stop-color="#ff0000"/><stop offset="0.421" stop-color="#ff7f00"/><stop offset="0.453" stop-color="#ffff00"/><stop offset="0.500" stop-color="#7fff80"/><stop offset="0.540" stop-color="#00ffff"/><stop offset="0.593" stop-color="#004cff"/><stop offset="0.642" stop-color="#0005ff"/><stop offset="0.688" stop-color="#0000c7"/><stop offset="1.000" stop-color="#0000c7"/></linearGradient>
<linearGradient id="g164" x1="0" y1="91.90" x2="0" y2="124.60" gradientUnits="userSpaceOnUse"><stop offset="0.000" stop-color="#ff1400"/><stop offset="0.398" stop-color="#ff1500"/><stop offset="0.420" stop-color="#ff7f00"/><stop offset="0.452" stop-color="#fffe00"/><stop offset="0.499" stop-color="#80ff7f"/><stop offset="0.539" stop-color="#00ffff"/><stop offset="0.592" stop-color="#004cff"/><stop offset="0.642" stop-color="#0004ff"/><stop offset="0.688" stop-color="#0000c7"/><stop offset="1.000" stop-color="#0000c7"/></linearGradient>
<linearGradient id="g165" x1="0" y1="91.90" x2="0" y2="124.60" gradientUnits="userSpaceOnUse"><stop offset="0.000" stop-color="#ff1400"/><stop offset="0.382" stop-color="#ff1400"/><stop offset="0.393" stop-color="#ff0000"/><stop offset="0.420" stop-color="#ff8000"/><stop offset="0.452" stop-color="#ffff00"/><stop offset="0.499" stop-color="#7fff80"/><stop offset="0.539" stop-color="#00ffff"/><stop offset="0.592" stop-color="#004dff"/><stop offset="0.642" stop-color="#0004ff"/><stop offset="0.688" stop-color="#0000c7"/><stop offset="1.000" stop-color="#0000c7"/></linearGradient>
<linearGradient id="g166" x1="0" y1="91.90" x2="0" y2="124.60" gradientUnits="userSpaceOnUse"><stop offset="0.000" stop-color="#ff1400"/><stop offset="0.392" stop-color="#ff1400"/><stop offset="0.398" stop-color="#ff1b00"/><stop offset="0.419" stop-color="#ff8000"/><stop offset="0.451" stop-color="#ffff00"/><stop offset="0.499" stop-color="#7fff80"/><stop offset="0.539" stop-color="#00ffff"/><stop offset="0.592" stop-color="#004dff"/><stop offset="0.642" stop-color="#0004ff"/><stop offset="0.688" stop-color="#0000c7"/><stop offset="1.000" stop-color="#0000c7"/></linearGradient>
<linearGradient id="g167" x1="0" y1="91.90" x2="0" y2="124.60" gradientUnits="userSpaceOnUse"><stop offset="0.000" stop-color="#ff1400"/><stop offset="0.382" stop-color="#ff1400"/><stop offset="0.391" stop-color="#ff0000"/><stop offset="0.417" stop-color="#ff7f00"/><stop offset="0.450" stop-color="#ffff00"/><stop offset="0.498" stop-color="#80ff7f"/><stop offset="0.538" stop-color="#00ffff"/><stop offset="0.591" stop-color="#004dff"/><stop offset="0.642" stop-color="#0003ff"/><stop offset="0.688" stop-color="#0000c7"/><stop offset="1.000" stop-color="#0000c7"/></linearGradient>
<linearGradient id="g168" x1="0" y1="91.90" x2="0" y2="124.60" gradientUnits="userSpaceOnUse"><stop offset="0.000" stop-color="#ff1400"/><stop offset="0.382" stop-color="#ff1400"/><stop offset="0.390" stop-color="#ff0000"/><stop offset="0.416" stop-color="#ff7f00"/><stop offset="0.449" stop-color="#ffff00"/><stop offset="0.497" stop-color="#7fff80"/><stop offset="0.536" stop-color="#00ffff"/><stop offset="0.590" stop-color="#004dff"/><stop offset="0.642" stop-color="#0001ff"/><stop offset="0.673" stop-color="#0000d4"/><stop offset="0.688" stop-color="#0000c7"/><stop offset="1.000" stop-color="#0000c7"/></linearGradient>
<linearGradient id="g169" x1="0" y1="91.90" x2="0" y2="124.60" gradientUnits="userSpaceOnUse"><stop offset="0.000" stop-color="#ff1400"/><stop offset="0.389" stop-color="#ff1400"/><stop offset="0.398" stop-color="#ff2a00"/><stop offset="0.415" stop-color="#ff8000"/><stop offset="0.448" stop-color="#ffff00"/><stop offset="0.496" stop-color="#80ff7f"/><stop offset="0.535" stop-color="#00ffff"/><stop offset="0.589" stop-color="#004dff"/><stop offset="0.642" stop-color="#0000ff"/><stop offset="0.673" stop-color="#0000d3"/><stop offset="0.688" stop-color="#0000c7"/><stop offset="1.000" stop-color="#0000c7"/></linearGradient>
<linearGradient id="g170" x1="0" y1="91.90" x2="0" y2="124.60" gradientUnits="userSpaceOnUse"><stop offset="0.000" stop-color="#ff1400"/><stop offset="0.382" stop-color="#ff1400"/><stop offset="0.388" stop-color="#ff0000"/><stop offset="0.413" stop-color="#ff7c00"/><stop offset="0.446" stop-color="#ffff00"/><stop offset="0.494" stop-color="#80ff7f"/><stop offset="0.534" stop-color="#00ffff"/><stop offset="0.588" stop-color="#004cff"/><stop offset="0.642" stop-color="#0000fd"/><stop offset="0.673" stop-color="#0000d1"/><stop offset="0.688" stop-color="#0000c7"/><stop offset="1.000" stop-color="#0000c7"/></linearGradient>
<linearGradient id="g171" x1="0" y1="91.90" x2="0" y2="124.60" gradientUnits="userSpaceOnUse"><stop offset="0.000" stop-color="#ff1400"/><stop offset="0.387" stop-color="#ff1400"/><stop offset="0.398" stop-color="#ff3200"/><stop offset="0.413" stop-color="#ff7f00"/><stop offset="0.446" stop-color="#ffff00"/><stop offset="0.493" stop-color="#80ff7f"/><stop offset="0.533" stop-color="#00ffff"/><stop offset="0.587" stop-color="#004cff"/><stop offset="0.642" stop-color="#0000fb"/><stop offset="0.673" stop-color="#0000cf"/><stop offset="0.688" stop-color="#0000c7"/><stop offset="1.000" stop-color="#0000c7"/></linearGradient>
<linearGradient id="g172" x1="0" y1="91.90" x2="0" y2="124.60" gradientUnits="userSpaceOnUse"><stop offset="0.000" stop-color="#ff1400"/><stop offset="0.382" stop-color="#ff1400"/><stop offset="0.387" stop-color="#ff0100"/><stop offset="0.413" stop-color="#ff8000"/><stop offset="0.445" stop-color="#fffe00"/><stop offset="0.492" stop-color="#80ff7f"/><stop offset="0.532" stop-color="#00ffff"/><stop offset="0.586" stop-color="#004dff"/><stop offset="0.642" stop-color="#0000fb"/><stop offset="0.673" stop-color="#0000ce"/><stop offset="0.688" stop-color="#0000c7"/><stop offset="1.000" stop-color="#0000c7"/></linearGradient>
<linearGradient id="g173" x1="0" y1="91.90" x2="0" y2="124.60" gradientUnits="userSpaceOnUse"><stop offset="0.000" stop-color="#ff1400"/><stop offset="0.387" stop-color="#ff1400"/><stop offset="0.398" stop-color="#ff3600"/><stop offset="0.412" stop-color="#ff8000"/><stop offset="0.445" stop-color="#ffff00"/><stop offset="0.491" stop-color="#7fff80"/><stop offset="0.531" stop-color="#00ffff"/><stop offset="0.585" stop-color="#004cff"/><stop offset="0.627" stop-color="#0010ff"/><stop offset="0.642" stop-color="#0000f9"/><stop offset="0.673" stop-color="#0000cd"/><stop offset="0.688" stop-color="#0000c7"/><stop offset="1.000" stop-color="#0000c7"/></linearGradient>
<linearGradient id="g174" x1="0" y1="91.90" x2="0" y2="124.60" gradientUnits="userSpaceOnUse"><stop offset="0.000" stop-color="#ff1400"/><stop offset="0.382" stop-color="#ff1400"/><stop offset="0.387" stop-color="#ff0000"/><stop offset="0.412" stop-color="#ff7f00"/><stop offset="0.444" stop-color="#ffff00"/><stop offset="0.489" stop-color="#84ff7b"/><stop offset="0.531" stop-color="#00ffff"/><stop offset="0.585" stop-color="#004cff"/><stop offset="0.627" stop-color="#000fff"/><stop offset="0.642" stop-color="#0000f8"/><stop offset="0.673" stop-color="#0000cc"/><stop offset="0.688" stop-color="#0000c7"/><stop offset="1.000" stop-color="#0000c7"/></linearGradient>
<linearGradient id="g175" x1="0" y1="91.90" x2="0" y2="124.60" gradientUnits="userSpaceOnUse"><stop offset="0.000" stop-color="#ff1400"/><stop offset="0.387" stop-color="#ff1400"/><stop offset="0.398" stop-color="#ff3800"/><stop offset="0.412" stop-color="#ff7f00"/><stop offset="0.444" stop-color="#ffff00"/><stop offset="0.489" stop-color="#82ff7d"/><stop offset="0.530" stop-color="#00ffff"/><stop offset="0.584" stop-color="#004cff"/><stop offset="0.627" stop-color="#000eff"/><stop offset="0.642" stop-color="#0000f7"/><stop offset="0.673" stop-color="#0000cb"/><stop offset="0.688" stop-color="#0000c7"/><stop offset="1.000" stop-color="#0000c7"/></linearGradient>
<linearGradient id="g176" x1="0" y1="91.90" x2="0" y2="124.60" gradientUnits="userSpaceOnUse"><stop offset="0.000" stop-color="#ff1400"/><stop offset="0.382" stop-color="#ff1400"/><stop offset="0.387" stop-color="#ff0000"/><stop offset="0.412" stop-color="#ff8000"/><stop offset="0.443" stop-color="#ffff00"/><stop offset="0.489" stop-color="#80ff7f"/><stop offset="0.529" stop-color="#00ffff"/><stop offset="0.583" stop-color="#004dff"/><stop offset="0.627" stop-color="#000dff"/><stop offset="0.642" stop-color="#0000f6"/><stop offset="0.673" stop-color="#0000ca"/><stop offset="0.688" stop-color="#0000c7"/><stop offset="1.000" stop-color="#0000c7"/></linearGradient>
<linearGradient id="g177" x1="0" y1="91.90" x2="0" y2="124.60" gradientUnits="userSpaceOnUse"><stop offset="0.000" stop-color="#ff1400"/><stop offset="0.386" stop-color="#ff1400"/><stop offset="0.398" stop-color="#ff3900"/><stop offset="0.411" stop-color="#ff8000"/><stop offset="0.443" stop-color="#ffff00"/><stop offset="0.489" stop-color="#7fff80"/><stop offset="0.529" stop-color="#00ffff"/><stop offset="0.583" stop-color="#004dff"/><stop offset="0.627" stop-color="#000cff"/><stop offset="0.642" stop-color="#0000f5"/><stop offset="0.673" stop-color="#0000c9"/><stop offset="0.688" stop-color="#0000c7"/><stop offset="1.000" stop-color="#0000c7"/></linearGradient>
<linearGradient id="g178" x1="0" y1="91.90" x2="0" y2="124.60" gradientUnits="userSpaceOnUse"><stop offset="0.000" stop-color="#ff1400"/><stop offset="0.382" stop-color="#ff1400"/><stop offset="0.386" stop-color="#ff0000"/><stop offset="0.411" stop-color="#ff7f00"/><stop offset="0.443" stop-color="#ffff00"/><stop offset="0.488" stop-color="#7fff80"/><stop offset="0.528" stop-color="#00ffff"/><stop offset="0.582" stop-color="#004cff"/><stop offset="0.627" stop-color="#000bff"/><stop offset="0.642" stop-color="#0000f4"/><stop offset="0.673" stop-color="#0000c8"/><stop offset="1.000" stop-color="#0000c7"/></linearGradient>
<linearGradient id="g179" x1="0" y1="91.90" x2="0" y2="124.60" gradientUnits="userSpaceOnUse"><stop offset="0.000" stop-color="#ff1400"/><stop offset="0.386" stop-color="#ff1400"/><stop offset="0.398" stop-color="#ff3b00"/><stop offset="0.411" stop-color="#ff8000"/><stop offset="0.443" stop-color="#ffff00"/><stop offset="0.487" stop-color="#80ff7f"/><stop offset="0.527" stop-color="#00ffff"/><stop offset="0.581" stop-color="#004dff"/><stop offset="0.627" stop-color="#000aff"/><stop offset="0.642" stop-color="#0000f3"/><stop offset="0.673" stop-color="#0000c7"/><stop offset="1.000" stop-color="#0000c7"/></linearGradient>
<linearGradient id="g180" x1="0" y1="91.90" x2="0" y2="124.60" gradientUnits="userSpaceOnUse"><stop offset="0.000" stop-color="#ff1400"/><stop offset="0.382" stop-color="#ff1400"/><stop offset="0.386" stop-color="#ff0000"/><stop offset="0.411" stop-color="#ff8000"/><stop offset="0.442" stop-color="#ffff00"/><stop offset="0.486" stop-color="#7fff80"/><stop offset="0.526" stop-color="#00ffff"/><stop offset="0.580" stop-color="#004dff"/><stop offset="0.627" stop-color="#0008ff"/><stop offset="0.642" stop-color="#0000f1"/><stop offset="0.673" stop-color="#0000c7"/><stop offset="1.000" stop-color="#0000c7"/></linearGradient>
<linearGradient id="g181" x1="0" y1="91.90" x2="0" y2="124.60" gradientUnits="userSpaceOnUse"><stop offset="0.000" stop-color="#ff1400"/><stop offset="0.386" stop-color="#ff1400"/><stop offset="0.398" stop-color="#ff3d00"/><stop offset="0.410" stop-color="#ff7f00"/><stop offset="0.441" stop-color="#ffff00"/><stop offset="0.485" stop-color="#80ff7f"/><stop offset="0.525" stop-color="#00ffff"/><stop offset="0.579" stop-color="#004dff"/><stop offset="0.627" stop-color="#0007ff"/><stop offset="0.642" stop-color="#0000f0"/><stop offset="0.673" stop-color="#0000c7"/><stop offset="1.000" stop-color="#0000c7"/></linearGradient>
<linearGradient id="g182" x1="0" y1="91.90" x2="0" y2="124.60" gradientUnits="userSpaceOnUse"><stop offset="0.000" stop-color="#ff1400"/><stop offset="0.382" stop-color="#ff1400"/><stop offset="0.386" stop-color="#ff0000"/><stop offset="0.410" stop-color="#ff7f00"/><stop offset="0.440" stop-color="#ffff00"/><stop offset="0.484" stop-color="#80ff7f"/><stop offset="0.524" stop-color="#00ffff"/><stop offset="0.577" stop-color="#004dff"/><stop offset="0.627" stop-color="#0004ff"/><stop offset="0.673" stop-color="#0000c7"/><stop offset="1.000" stop-color="#0000c7"/></linearGradient>
<linearGradient id="g183" x1="0" y1="91.90" x2="0" y2="124.60" gradientUnits="userSpaceOnUse"><stop offset="0.000" stop-color="#ff1400"/><stop offset="0.385" stop-color="#ff1400"/><stop offset="0.398" stop-color="#ff3f00"/><stop offset="0.410" stop-color="#ff8000"/><stop offset="0.439" stop-color="#fffe00"/><stop offset="0.482" stop-color="#7fff80"/><stop offset="0.522" stop-color="#00ffff"/><stop offset="0.575" stop-color="#004dff"/><stop offset="0.627" stop-color="#0001ff"/><stop offset="0.657" stop-color="#0000d4"/><stop offset="0.673" stop-color="#0000c7"/><stop offset="1.000" stop-color="#0000c7"/></linearGradient>
<linearGradient id="g184" x1="0" y1="91.90" x2="0" y2="124.60" gradientUnits="userSpaceOnUse"><stop offset="0.000" stop-color="#ff1400"/><stop offset="0.385" stop-color="#ff1400"/><stop offset="0.398" stop-color="#ff3f00"/><stop offset="0.410" stop-color="#ff7f00"/><stop offset="0.439" stop-color="#ffff00"/><stop offset="0.520" stop-color="#00ffff"/><stop offset="0.573" stop-color="#004dff"/><stop offset="0.627" stop-color="#0000fd"/><stop offset="0.657" stop-color="#0000d1"/><stop offset="0.673" stop-color="#0000c7"/><stop offset="1.000" stop-color="#0000c7"/></linearGradient>
<linearGradient id="g185" x1="0" y1="91.90" x2="0" y2="124.60" gradientUnits="userSpaceOnUse"><stop offset="0.000" stop-color="#ff1400"/><stop offset="0.385" stop-color="#ff1400"/><stop offset="0.398" stop-color="#ff4000"/><stop offset="0.410" stop-color="#ff7f00"/><stop offset="0.438" stop-color="#ffff00"/><stop offset="0.518" stop-color="#00ffff"/><stop offset="0.571" stop-color="#004cff"/><stop offset="0.627" stop-color="#0000fa"/><stop offset="0.657" stop-color="#0000ce"/><stop offset="0.673" stop-color="#0000c7"/><stop offset="1.000" stop-color="#0000c7"/></linearGradient>
<linearGradient id="g186" x1="0" y1="91.90" x2="0" y2="124.60" gradientUnits="userSpaceOnUse"><stop offset="0.000" stop-color="#ff1400"/><stop offset="0.385" stop-color="#ff1400"/><stop offset="0.398" stop-color="#ff4000"/><stop offset="0.413" stop-color="#ff8e00"/><stop offset="0.437" stop-color="#ffff00"/><stop offset="0.517" stop-color="#00ffff"/><stop offset="0.569" stop-color="#004cff"/><stop offset="0.612" stop-color="#000eff"/><stop offset="0.627" stop-color="#0000f7"/><stop offset="0.657" stop-color="#0000cb"/><stop offset="0.673" stop-color="#0000c7"/><stop offset="1.000" stop-color="#0000c7"/></linearGradient>
<linearGradient id="g187" x1="0" y1="106.20" x2="0" y2="111.10" gradientUnits="userSpaceOnUse"><stop offset="0.000" stop-color="#ff5700"/><stop offset="0.529" stop-color="#ff5700"/><stop offset="0.580" stop-color="#e5ff1a"/><stop offset="0.631" stop-color="#1affe5"/><stop offset="0.692" stop-color="#0061ff"/><stop offset="0.784" stop-color="#0000c7"/><stop offset="1.000" stop-color="#0000c7"/></linearGradient>
<linearGradient id="g188" x1="0" y1="133.70" x2="0" y2="166.20" gradientUnits="userSpaceOnUse"><stop offset="0.000" stop-color="#ff2900"/><stop offset="0.465" stop-color="#ff2900"/><stop offset="0.477" stop-color="#ff6500"/><stop offset="0.480" stop-color="#ff7f00"/><stop offset="0.498" stop-color="#fffe00"/><stop offset="0.536" stop-color="#00ffff"/><stop offset="0.563" stop-color="#004cff"/><stop offset="0.615" stop-color="#0002ff"/><stop offset="0.646" stop-color="#0000d5"/><stop offset="0.662" stop-color="#0000c7"/><stop offset="1.000" stop-color="#0000c7"/></linearGradient>
<linearGradient id="g189" x1="0" y1="133.70" x2="0" y2="166.20" gradientUnits="userSpaceOnUse"><stop offset="0.000" stop-color="#ff2800"/><stop offset="0.462" stop-color="#ff2800"/><stop offset="0.465" stop-color="#ff0100"/><stop offset="0.481" stop-color="#ff7f00"/><stop offset="0.500" stop-color="#feff01"/><stop offset="0.538" stop-color="#00ffff"/><stop offset="0.566" stop-color="#004dff"/><stop offset="0.615" stop-color="#0006ff"/><stop offset="0.662" stop-color="#0000c7"/><stop offset="1.000" stop-color="#0000c7"/></linearGradient>
<linearGradient id="g190" x1="0" y1="133.70" x2="0" y2="166.20" gradientUnits="userSpaceOnUse"><stop offset="0.000" stop-color="#ff2800"/><stop offset="0.466" stop-color="#ff2800"/><stop offset="0.477" stop-color="#ff5300"/><stop offset="0.483" stop-color="#ff8000"/><stop offset="0.503" stop-color="#ffff00"/><stop offset="0.543" stop-color="#01fffe"/><stop offset="0.572" stop-color="#004dff"/><stop offset="0.615" stop-color="#000fff"/><stop offset="0.631" stop-color="#0000f8"/><stop offset="0.662" stop-color="#0000cb"/><stop offset="0.677" stop-color="#0000c7"/><stop offset="1.000" stop-color="#0000c7"/></linearGradient>
<linearGradient id="g191" x1="0" y1="133.70" x2="0" y2="166.20" gradientUnits="userSpaceOnUse"><stop offset="0.000" stop-color="#ff2700"/><stop offset="0.467" stop-color="#ff2700"/><stop offset="0.477" stop-color="#ff4900"/><stop offset="0.484" stop-color="#ff7f00"/><stop offset="0.506" stop-color="#ffff00"/><stop offset="0.548" stop-color="#00ffff"/><stop offset="0.578" stop-color="#004dff"/><stop offset="0.631" stop-color="#0001ff"/><stop offset="0.662" stop-color="#0000d3"/><stop offset="0.677" stop-color="#0000c7"/><stop offset="1.000" stop-color="#0000c7"/></linearGradient>
<linearGradient id="g192" x1="0" y1="133.70" x2="0" y2="166.20" gradientUnits="userSpaceOnUse"><stop offset="0.000" stop-color="#ff2600"/><stop offset="0.462" stop-color="#ff2600"/><stop offset="0.468" stop-color="#ff0000"/><stop offset="0.486" stop-color="#ff8000"/><stop offset="0.508" stop-color="#fffa00"/><stop offset="0.509" stop-color="#feff01"/><stop offset="0.553" stop-color="#01fffe"/><stop offset="0.583" stop-color="#004cff"/><stop offset="0.631" stop-color="#0008ff"/><stop offset="0.646" stop-color="#0000f1"/><stop offset="0.677" stop-color="#0000c7"/><stop offset="1.000" stop-color="#0000c7"/></linearGradient>
<linearGradient id="g193" x1="0" y1="133.70" x2="0" y2="166.20" gradientUnits="userSpaceOnUse"><stop offset="0.000" stop-color="#ff2500"/><stop offset="0.468" stop-color="#ff2500"/><stop offset="0.477" stop-color="#ff3900"/><stop offset="0.488" stop-color="#ff8000"/><stop offset="0.511" stop-color="#ffff00"/><stop offset="0.558" stop-color="#00ffff"/><stop offset="0.588" stop-color="#004dff"/><stop offset="0.631" stop-color="#0010ff"/><stop offset="0.646" stop-color="#0000f9"/><stop offset="0.677" stop-color="#0000cc"/><stop offset="0.692" stop-color="#0000c7"/><stop offset="1.000" stop-color="#0000c7"/></linearGradient>
<linearGradient id="g194" x1="0" y1="133.70" x2="0" y2="166.20" gradientUnits="userSpaceOnUse"><stop offset="0.000" stop-color="#ff2400"/><stop offset="0.469" stop-color="#ff2400"/><stop offset="0.477" stop-color="#ff3200"/><stop offset="0.489" stop-color="#ff8000"/><stop offset="0.513" stop-color="#ffff00"/><stop offset="0.562" stop-color="#00ffff"/><stop offset="0.593" stop-color="#004cff"/><stop offset="0.646" stop-color="#0000ff"/><stop offset="0.677" stop-color="#0000d3"/><stop offset="0.692" stop-color="#0000c7"/><stop offset="1.000" stop-color="#0000c7"/></linearGradient>
<linearGradient id="g195" x1="0" y1="133.70" x2="0" y2="166.20" gradientUnits="userSpaceOnUse"><stop offset="0.000" stop-color="#ff2400"/><stop offset="0.470" stop-color="#ff2400"/><stop offset="0.477" stop-color="#ff2d00"/><stop offset="0.490" stop-color="#ff8000"/><stop offset="0.515" stop-color="#ffff00"/><stop offset="0.565" stop-color="#01fffe"/><stop offset="0.598" stop-color="#004cff"/><stop offset="0.646" stop-color="#0007ff"/><stop offset="0.662" stop-color="#0000ef"/><stop offset="0.692" stop-color="#0000c7"/><stop offset="1.000" stop-color="#0000c7"/></linearGradient>
<linearGradient id="g196" x1="0" y1="133.70" x2="0" y2="166.20" gradientUnits="userSpaceOnUse"><stop offset="0.000" stop-color="#ff2300"/><stop offset="0.462" stop-color="#ff2300"/><stop offset="0.470" stop-color="#ff0000"/><stop offset="0.491" stop-color="#ff8000"/><stop offset="0.517" stop-color="#feff01"/><stop offset="0.569" stop-color="#00ffff"/><stop offset="0.601" stop-color="#004dff"/><stop offset="0.646" stop-color="#000cff"/><stop offset="0.662" stop-color="#0000f5"/><stop offset="0.692" stop-color="#0000c9"/><stop offset="1.000" stop-color="#0000c7"/></linearGradient>
<linearGradient id="g197" x1="0" y1="133.70" x2="0" y2="166.20" gradientUnits="userSpaceOnUse"><stop offset="0.000" stop-color="#ff2200"/><stop offset="0.470" stop-color="#ff2200"/><stop offset="0.477" stop-color="#ff2600"/><stop offset="0.492" stop-color="#ff7f00"/><stop offset="0.518" stop-color="#ffff00"/><stop offset="0.569" stop-color="#0bfff4"/><stop offset="0.572" stop-color="#00feff"/><stop offset="0.605" stop-color="#004dff"/><stop offset="0.662" stop-color="#0000fa"/><stop offset="0.692" stop-color="#0000ce"/><stop offset="0.708" stop-color="#0000c7"/><stop offset="1.000" stop-color="#0000c7"/></linearGradient>
<linearGradient id="g198" x1="0" y1="133.70" x2="0" y2="166.20" gradientUnits="userSpaceOnUse"><stop offset="0.000" stop-color="#ff2100"/><stop offset="0.462" stop-color="#ff2100"/><stop offset="0.471" stop-color="#ff0000"/><stop offset="0.492" stop-color="#ff8000"/><stop offset="0.519" stop-color="#fffe00"/><stop offset="0.574" stop-color="#00ffff"/><stop offset="0.607" stop-color="#004dff"/><stop offset="0.662" stop-color="#0000fe"/><stop offset="0.692" stop-color="#0000d2"/><stop offset="0.708" stop-color="#0000c7"/><stop offset="1.000" stop-color="#0000c7"/></linearGradient>
<linearGradient id="g199" x1="0" y1="133.70" x2="0" y2="166.20" gradientUnits="userSpaceOnUse"><stop offset="0.000" stop-color="#ff2100"/><stop offset="0.471" stop-color="#ff2100"/><stop offset="0.477" stop-color="#ff2400"/><stop offset="0.492" stop-color="#ff8000"/><stop offset="0.520" stop-color="#ffff00"/><stop offset="0.576" stop-color="#00ffff"/><stop offset="0.610" stop-color="#004dff"/><stop offset="0.662" stop-color="#0002ff"/><stop offset="0.692" stop-color="#0000d5"/><stop offset="0.708" stop-color="#0000c7"/><stop offset="1.000" stop-color="#0000c7"/></linearGradient>
<linearGradient id="g200" x1="0" y1="133.70" x2="0" y2="166.20" gradientUnits="userSpaceOnUse"><stop offset="0.000" stop-color="#ff2000"/><stop offset="0.471" stop-color="#ff2000"/><stop offset="0.477" stop-color="#ff2400"/><stop offset="0.492" stop-color="#ff8000"/><stop offset="0.521" stop-color="#ffff00"/><stop offset="0.577" stop-color="#00ffff"/><stop offset="0.612" stop-color="#004cff"/><stop offset="0.662" stop-color="#0005ff"/><stop offset="0.708" stop-color="#0000c7"/><stop offset="1.000" stop-color="#0000c7"/></linearGradient>
<linearGradient id="g201" x1="0" y1="133.70" x2="0" y2="166.20" gradientUnits="userSpaceOnUse"><stop offset="0.000" stop-color="#ff1f00"/><stop offset="0.471" stop-color="#ff1f00"/><stop offset="0.477" stop-color="#ff2400"/><stop offset="0.492" stop-color="#ff8000"/><stop offset="0.521" stop-color="#ffff00"/><stop offset="0.579" stop-color="#00ffff"/><stop offset="0.614" stop-color="#004cff"/><stop offset="0.662" stop-color="#0007ff"/><stop offset="0.677" stop-color="#0000f0"/><stop offset="0.708" stop-color="#0000c7"/><stop offset="1.000" stop-color="#0000c7"/></linearGradient>
<linearGradient id="g202" x1="0" y1="133.70" x2="0" y2="166.20" gradientUnits="userSpaceOnUse"><stop offset="0.000" stop-color="#ff1e00"/><stop offset="0.471" stop-color="#ff1e00"/><stop offset="0.477" stop-color="#ff2400"/><stop offset="0.492" stop-color="#ff8000"/><stop offset="0.521" stop-color="#ffff00"/><stop offset="0.580" stop-color="#00ffff"/><stop offset="0.615" stop-color="#004cff"/><stop offset="0.662" stop-color="#000aff"/><stop offset="0.677" stop-color="#0000f3"/><stop offset="0.708" stop-color="#0000c7"/><stop offset="1.000" stop-color="#0000c7"/></linearGradient>
<linearGradient id="g203" x1="0" y1="133.70" x2="0" y2="166.20" gradientUnits="userSpaceOnUse"><stop offset="0.000" stop-color="#ff1d00"/><stop offset="0.471" stop-color="#ff1d00"/><stop offset="0.477" stop-color="#ff2400"/><stop offset="0.492" stop-color="#ff8000"/><stop offset="0.522" stop-color="#ffff00"/><stop offset="0.582" stop-color="#00ffff"/><stop offset="0.617" stop-color="#004dff"/><stop offset="0.662" stop-color="#000cff"/><stop offset="0.677" stop-color="#0000f5"/><stop offset="0.708" stop-color="#0000c9"/><stop offset="1.000" stop-color="#0000c7"/></linearGradient>
<linearGradient id="g204" x1="0" y1="133.70" x2="0" y2="166.20" gradientUnits="userSpaceOnUse"><stop offset="0.000" stop-color="#ff1d00"/><stop offset="0.471" stop-color="#ff1d00"/><stop offset="0.477" stop-color="#ff2400"/><stop offset="0.492" stop-color="#ff8000"/><stop offset="0.522" stop-color="#fffe00"/><stop offset="0.583" stop-color="#00ffff"/><stop offset="0.618" stop-color="#004dff"/><stop offset="0.662" stop-color="#000fff"/><stop offset="0.677" stop-color="#0000f8"/><stop offset="0.708" stop-color="#0000cb"/><stop offset="0.723" stop-color="#0000c7"/><stop offset="1.000" stop-color="#0000c7"/></linearGradient>
<linearGradient id="g205" x1="0" y1="133.70" x2="0" y2="166.20" gradientUnits="userSpaceOnUse"><stop offset="0.000" stop-color="#ff1c00"/><stop offset="0.471" stop-color="#ff1c00"/><stop offset="0.477" stop-color="#ff2400"/><stop offset="0.492" stop-color="#ff8000"/><stop offset="0.522" stop-color="#ffff00"/><stop offset="0.584" stop-color="#00ffff"/><stop offset="0.620" stop-color="#004cff"/><stop offset="0.677" stop-color="#0000fa"/><stop offset="0.708" stop-color="#0000ce"/><stop offset="0.723" stop-color="#0000c7"/><stop offset="1.000" stop-color="#0000c7"/></linearGradient>
<linearGradient id="g206" x1="0" y1="133.70" x2="0" y2="166.20" gradientUnits="userSpaceOnUse"><stop offset="0.000" stop-color="#ff1a00"/><stop offset="0.471" stop-color="#ff1a00"/><stop offset="0.477" stop-color="#ff2400"/><stop offset="0.492" stop-color="#ff8000"/><stop offset="0.523" stop-color="#ffff00"/><stop offset="0.554" stop-color="#7cff83"/><stop offset="0.586" stop-color="#00ffff"/><stop offset="0.622" stop-color="#004cff"/><stop offset="0.677" stop-color="#0000fd"/><stop offset="0.708" stop-color="#0000d1"/><stop offset="0.723" stop-color="#0000c7"/><stop offset="1.000" stop-color="#0000c7"/></linearGradient>
<linearGradient id="g207" x1="0" y1="133.70" x2="0" y2="166.20" gradientUnits="userSpaceOnUse"><stop offset="0.000" stop-color="#ff1900"/><stop offset="0.471" stop-color="#ff1900"/><stop offset="0.477" stop-color="#ff2400"/><stop offset="0.492" stop-color="#ff8000"/><stop offset="0.523" stop-color="#ffff00"/><stop offset="0.554" stop-color="#80ff7f"/><stop offset="0.587" stop-color="#00ffff"/><stop offset="0.624" stop-color="#004cff"/><stop offset="0.677" stop-color="#0000ff"/><stop offset="0.708" stop-color="#0000d3"/><stop offset="0.723" stop-color="#0000c7"/><stop offset="1.000" stop-color="#0000c7"/></linearGradient>
<linearGradient id="g208" x1="0" y1="133.70" x2="0" y2="166.20" gradientUnits="userSpaceOnUse"><stop offset="0.000" stop-color="#ff1600"/><stop offset="0.462" stop-color="#ff1600"/><stop offset="0.471" stop-color="#ff0000"/><stop offset="0.492" stop-color="#ff8000"/><stop offset="0.523" stop-color="#ffff00"/><stop offset="0.554" stop-color="#7fff80"/><stop offset="0.588" stop-color="#00ffff"/><stop offset="0.625" stop-color="#004cff"/><stop offset="0.677" stop-color="#0001ff"/><stop offset="0.708" stop-color="#0000d4"/><stop offset="0.723" stop-color="#0000c7"/><stop offset="1.000" stop-color="#0000c7"/></linearGradient>
<linearGradient id="g209" x1="0" y1="133.70" x2="0" y2="166.20" gradientUnits="userSpaceOnUse"><stop offset="0.000" stop-color="#ff1400"/><stop offset="0.462" stop-color="#ff1400"/><stop offset="0.470" stop-color="#ff0000"/><stop offset="0.491" stop-color="#ff8000"/><stop offset="0.522" stop-color="#ffff00"/><stop offset="0.554" stop-color="#7aff85"/><stop offset="0.586" stop-color="#00ffff"/><stop offset="0.623" stop-color="#004cff"/><stop offset="0.677" stop-color="#0000fe"/><stop offset="0.708" stop-color="#0000d1"/><stop offset="0.723" stop-color="#0000c7"/><stop offset="1.000" stop-color="#0000c7"/></linearGradient>
<linearGradient id="g210" x1="0" y1="133.70" x2="0" y2="166.20" gradientUnits="userSpaceOnUse"><stop offset="0.000" stop-color="#ff1400"/><stop offset="0.462" stop-color="#ff1400"/><stop offset="0.468" stop-color="#ff0000"/><stop offset="0.490" stop-color="#ff8000"/><stop offset="0.520" stop-color="#ffff00"/><stop offset="0.551" stop-color="#7fff80"/><stop offset="0.584" stop-color="#00ffff"/><stop offset="0.621" stop-color="#004cff"/><stop offset="0.677" stop-color="#0000fb"/><stop offset="0.708" stop-color="#0000ce"/><stop offset="0.723" stop-color="#0000c7"/><stop offset="1.000" stop-color="#0000c7"/></linearGradient>
<linearGradient id="g211" x1="0" y1="133.70" x2="0" y2="166.20" gradientUnits="userSpaceOnUse"><stop offset="0.000" stop-color="#ff1400"/><stop offset="0.467" stop-color="#ff1400"/><stop offset="0.477" stop-color="#ff3a00"/><stop offset="0.489" stop-color="#ff7f00"/><stop offset="0.519" stop-color="#ffff00"/><stop offset="0.582" stop-color="#00ffff"/><stop offset="0.619" stop-color="#004cff"/><stop offset="0.662" stop-color="#0010ff"/><stop offset="0.677" stop-color="#0000f9"/><stop offset="0.708" stop-color="#0000cd"/><stop offset="0.723" stop-color="#0000c7"/><stop offset="1.000" stop-color="#0000c7"/></linearGradient>
<linearGradient id="g212" x1="0" y1="133.70" x2="0" y2="166.20" gradientUnits="userSpaceOnUse"><stop offset="0.000" stop-color="#ff1400"/><stop offset="0.465" stop-color="#ff1400"/><stop offset="0.477" stop-color="#ff4500"/><stop offset="0.487" stop-color="#ff7f00"/><stop offset="0.518" stop-color="#ffff00"/><stop offset="0.580" stop-color="#00ffff"/><stop offset="0.617" stop-color="#004cff"/><stop offset="0.662" stop-color="#000cff"/><stop offset="0.677" stop-color="#0000f5"/><stop offset="0.708" stop-color="#0000c9"/><stop offset="1.000" stop-color="#0000c7"/></linearGradient>
<linearGradient id="g213" x1="0" y1="133.70" x2="0" y2="166.20" gradientUnits="userSpaceOnUse"><stop offset="0.000" stop-color="#ff1400"/><stop offset="0.462" stop-color="#ff1400"/><stop offset="0.464" stop-color="#ff0100"/><stop offset="0.485" stop-color="#ff7f00"/><stop offset="0.516" stop-color="#fffe00"/><stop offset="0.578" stop-color="#00ffff"/><stop offset="0.614" stop-color="#004dff"/><stop offset="0.662" stop-color="#0009ff"/><stop offset="0.677" stop-color="#0000f2"/><stop offset="0.708" stop-color="#0000c7"/><stop offset="1.000" stop-color="#0000c7"/></linearGradient>
<linearGradient id="g214" x1="0" y1="133.70" x2="0" y2="166.20" gradientUnits="userSpaceOnUse"><stop offset="0.000" stop-color="#ff1400"/><stop offset="0.462" stop-color="#ff1400"/><stop offset="0.477" stop-color="#ff5800"/><stop offset="0.483" stop-color="#ff7f00"/><stop offset="0.514" stop-color="#fffe00"/><stop offset="0.569" stop-color="#1cffe3"/><stop offset="0.576" stop-color="#00feff"/><stop offset="0.613" stop-color="#004dff"/><stop offset="0.662" stop-color="#0006ff"/><stop offset="0.708" stop-color="#0000c7"/><stop offset="1.000" stop-color="#0000c7"/></linearGradient>
<linearGradient id="g215" x1="0" y1="133.70" x2="0" y2="166.20" gradientUnits="userSpaceOnUse"><stop offset="0.000" stop-color="#ff1400"/><stop offset="0.461" stop-color="#ff1400"/><stop offset="0.462" stop-color="#ff0100"/><stop offset="0.483" stop-color="#ff7f00"/><stop offset="0.514" stop-color="#fffe00"/><stop offset="0.575" stop-color="#00ffff"/><stop offset="0.612" stop-color="#004dff"/><stop offset="0.662" stop-color="#0006ff"/><stop offset="0.708" stop-color="#0000c7"/><stop offset="1.000" stop-color="#0000c7"/></linearGradient>
<linearGradient id="g216" x1="0" y1="133.70" x2="0" y2="166.20" gradientUnits="userSpaceOnUse"><stop offset="0.000" stop-color="#ff1400"/><stop offset="0.460" stop-color="#ff1400"/><stop offset="0.462" stop-color="#ff0800"/><stop offset="0.482" stop-color="#ff8000"/><stop offset="0.513" stop-color="#ffff00"/><stop offset="0.574" stop-color="#00ffff"/><stop offset="0.611" stop-color="#004cff"/><stop offset="0.662" stop-color="#0004ff"/><stop offset="0.708" stop-color="#0000c7"/><stop offset="1.000" stop-color="#0000c7"/></linearGradient>
<linearGradient id="g217" x1="0" y1="133.70" x2="0" y2="166.20" gradientUnits="userSpaceOnUse"><stop offset="0.000" stop-color="#ff1400"/><stop offset="0.446" stop-color="#ff1400"/><stop offset="0.459" stop-color="#ff0100"/><stop offset="0.481" stop-color="#ff8000"/><stop offset="0.511" stop-color="#ffff00"/><stop offset="0.573" stop-color="#00ffff"/><stop offset="0.610" stop-color="#004dff"/><stop offset="0.662" stop-color="#0002ff"/><stop offset="0.692" stop-color="#0000d5"/><stop offset="0.708" stop-color="#0000c7"/><stop offset="1.000" stop-color="#0000c7"/></linearGradient>
<linearGradient id="g218" x1="0" y1="133.70" x2="0" y2="166.20" gradientUnits="userSpaceOnUse"><stop offset="0.000" stop-color="#ff1400"/><stop offset="0.446" stop-color="#ff1400"/><stop offset="0.458" stop-color="#ff0100"/><stop offset="0.479" stop-color="#ff7f00"/><stop offset="0.510" stop-color="#ffff00"/><stop offset="0.571" stop-color="#00ffff"/><stop offset="0.609" stop-color="#004cff"/><stop offset="0.662" stop-color="#0001ff"/><stop offset="0.692" stop-color="#0000d4"/><stop offset="0.708" stop-color="#0000c7"/><stop offset="1.000" stop-color="#0000c7"/></linearGradient>
<linearGradient id="g219" x1="0" y1="133.70" x2="0" y2="166.20" gradientUnits="userSpaceOnUse"><stop offset="0.000" stop-color="#ff1400"/><stop offset="0.446" stop-color="#ff1400"/><stop offset="0.457" stop-color="#ff0100"/><stop offset="0.478" stop-color="#ff7f00"/><stop offset="0.509" stop-color="#ffff00"/><stop offset="0.570" stop-color="#00ffff"/><stop offset="0.608" stop-color="#004dff"/><stop offset="0.662" stop-color="#0000fe"/><stop offset="0.692" stop-color="#0000d2"/><stop offset="0.708" stop-color="#0000c7"/><stop offset="1.000" stop-color="#0000c7"/></linearGradient>
<linearGradient id="g220" x1="0" y1="133.70" x2="0" y2="166.20" gradientUnits="userSpaceOnUse"><stop offset="0.000" stop-color="#ff1400"/><stop offset="0.446" stop-color="#ff1400"/><stop offset="0.455" stop-color="#ff0000"/><stop offset="0.477" stop-color="#ff8000"/><stop offset="0.508" stop-color="#ffff00"/><stop offset="0.569" stop-color="#00ffff"/><stop offset="0.607" stop-color="#004cff"/><stop offset="0.662" stop-color="#0000fd"/><stop offset="0.692" stop-color="#0000d0"/><stop offset="0.708" stop-color="#0000c7"/><stop offset="1.000" stop-color="#0000c7"/></linearGradient>
<linearGradient id="g221" x1="0" y1="133.70" x2="0" y2="166.20" gradientUnits="userSpaceOnUse"><stop offset="0.000" stop-color="#ff1400"/><stop offset="0.446" stop-color="#ff1400"/><stop offset="0.454" stop-color="#ff0000"/><stop offset="0.476" stop-color="#ff8000"/><stop offset="0.507" stop-color="#ffff00"/><stop offset="0.568" stop-color="#00ffff"/><stop offset="0.606" stop-color="#004dff"/><stop offset="0.662" stop-color="#0000fb"/><stop offset="0.692" stop-color="#0000cf"/><stop offset="0.708" stop-color="#0000c7"/><stop offset="1.000" stop-color="#0000c7"/></linearGradient>
<linearGradient id="g222" x1="0" y1="133.70" x2="0" y2="166.20" gradientUnits="userSpaceOnUse"><stop offset="0.000" stop-color="#ff1400"/><stop offset="0.454" stop-color="#ff1400"/><stop offset="0.462" stop-color="#ff2f00"/><stop offset="0.477" stop-color="#ff8600"/><stop offset="0.506" stop-color="#ffff00"/><stop offset="0.567" stop-color="#00ffff"/><stop offset="0.605" stop-color="#004cff"/><stop offset="0.662" stop-color="#0000fa"/><stop offset="0.692" stop-color="#0000ce"/><stop offset="0.708" stop-color="#0000c7"/><stop offset="1.000" stop-color="#0000c7"/></linearGradient>
<linearGradient id="g223" x1="0" y1="133.70" x2="0" y2="166.20" gradientUnits="userSpaceOnUse"><stop offset="0.000" stop-color="#ff1400"/><stop offset="0.452" stop-color="#ff1400"/><stop offset="0.462" stop-color="#ff3500"/><stop offset="0.474" stop-color="#ff7f00"/><stop offset="0.505" stop-color="#fffe00"/><stop offset="0.566" stop-color="#00ffff"/><stop offset="0.604" stop-color="#004dff"/><stop offset="0.646" stop-color="#0010ff"/><stop offset="0.662" stop-color="#0000f9"/><stop offset="0.692" stop-color="#0000cd"/><stop offset="0.708" stop-color="#0000c7"/><stop offset="1.000" stop-color="#0000c7"/></linearGradient>
<linearGradient id="g224" x1="0" y1="133.70" x2="0" y2="166.20" gradientUnits="userSpaceOnUse"><stop offset="0.000" stop-color="#ff1400"/><stop offset="0.451" stop-color="#ff1400"/><stop offset="0.462" stop-color="#ff3c00"/><stop offset="0.473" stop-color="#ff8000"/><stop offset="0.504" stop-color="#ffff00"/><stop offset="0.565" stop-color="#00ffff"/><stop offset="0.603" stop-color="#004dff"/><stop offset="0.646" stop-color="#000fff"/><stop offset="0.662" stop-color="#0000f8"/><stop offset="0.692" stop-color="#0000cb"/><stop offset="0.708" stop-color="#0000c7"/><stop offset="1.000" stop-color="#0000c7"/></linearGradient>
<linearGradient id="g225" x1="0" y1="133.70" x2="0" y2="166.20" gradientUnits="userSpaceOnUse"><stop offset="0.000" stop-color="#ff1400"/><stop offset="0.446" stop-color="#ff1400"/><stop offset="0.451" stop-color="#ff0100"/><stop offset="0.473" stop-color="#ff7f00"/><stop offset="0.503" stop-color="#ffff00"/><stop offset="0.564" stop-color="#00ffff"/><stop offset="0.602" stop-color="#004dff"/><stop offset="0.646" stop-color="#000eff"/><stop offset="0.662" stop-color="#0000f7"/><stop offset="0.692" stop-color="#0000cb"/><stop offset="0.708" stop-color="#0000c7"/><stop offset="1.000" stop-color="#0000c7"/></linearGradient>
<linearGradient id="g226" x1="0" y1="133.70" x2="0" y2="166.20" gradientUnits="userSpaceOnUse"><stop offset="0.000" stop-color="#ff1400"/><stop offset="0.446" stop-color="#ff1400"/><stop offset="0.450" stop-color="#ff0000"/><stop offset="0.471" stop-color="#ff7f00"/><stop offset="0.502" stop-color="#fffe00"/><stop offset="0.563" stop-color="#00ffff"/><stop offset="0.602" stop-color="#004dff"/><stop offset="0.646" stop-color="#000dff"/><stop offset="0.662" stop-color="#0000f5"/><stop offset="0.692" stop-color="#0000c9"/><stop offset="1.000" stop-color="#0000c7"/></linearGradient>
<linearGradient id="g227" x1="0" y1="133.70" x2="0" y2="166.20" gradientUnits="userSpaceOnUse"><stop offset="0.000" stop-color="#ff1400"/><stop offset="0.448" stop-color="#ff1400"/><stop offset="0.462" stop-color="#ff4c00"/><stop offset="0.470" stop-color="#ff8000"/><stop offset="0.501" stop-color="#ffff00"/><stop offset="0.562" stop-color="#00ffff"/><stop offset="0.601" stop-color="#004dff"/><stop offset="0.646" stop-color="#000bff"/><stop offset="0.662" stop-color="#0000f4"/><stop offset="0.692" stop-color="#0000c8"/><stop offset="1.000" stop-color="#0000c7"/></linearGradient>
<linearGradient id="g228" x1="0" y1="133.70" x2="0" y2="166.20" gradientUnits="userSpaceOnUse"><stop offset="0.000" stop-color="#ff1400"/><stop offset="0.447" stop-color="#ff1400"/><stop offset="0.462" stop-color="#ff5200"/><stop offset="0.469" stop-color="#ff7f00"/><stop offset="0.500" stop-color="#fffe00"/><stop offset="0.554" stop-color="#1dffe2"/><stop offset="0.561" stop-color="#00feff"/><stop offset="0.600" stop-color="#004cff"/><stop offset="0.646" stop-color="#000aff"/><stop offset="0.662" stop-color="#0000f3"/><stop offset="0.692" stop-color="#0000c7"/><stop offset="1.000" stop-color="#0000c7"/></linearGradient>
<linearGradient id="g229" x1="0" y1="133.70" x2="0" y2="166.20" gradientUnits="userSpaceOnUse"><stop offset="0.000" stop-color="#ff1400"/><stop offset="0.446" stop-color="#ff1400"/><stop offset="0.447" stop-color="#ff0100"/><stop offset="0.469" stop-color="#ff8000"/><stop offset="0.500" stop-color="#ffff00"/><stop offset="0.560" stop-color="#00ffff"/><stop offset="0.599" stop-color="#004cff"/><stop offset="0.646" stop-color="#0009ff"/><stop offset="0.662" stop-color="#0000f2"/><stop offset="0.692" stop-color="#0000c7"/><stop offset="1.000" stop-color="#0000c7"/></linearGradient>
<linearGradient id="g230" x1="0" y1="133.70" x2="0" y2="166.20" gradientUnits="userSpaceOnUse"><stop offset="0.000" stop-color="#ff1400"/><stop offset="0.431" stop-color="#ff1400"/><stop offset="0.446" stop-color="#ff0100"/><stop offset="0.468" stop-color="#ff7f00"/><stop offset="0.499" stop-color="#ffff00"/><stop offset="0.559" stop-color="#00ffff"/><stop offset="0.599" stop-color="#004dff"/><stop offset="0.646" stop-color="#0009ff"/><stop offset="0.662" stop-color="#0000f1"/><stop offset="0.692" stop-color="#0000c7"/><stop offset="1.000" stop-color="#0000c7"/></linearGradient>
<linearGradient id="g231" x1="0" y1="133.70" x2="0" y2="166.20" gradientUnits="userSpaceOnUse"><stop offset="0.000" stop-color="#ff1400"/><stop offset="0.445" stop-color="#ff1400"/><stop offset="0.446" stop-color="#ff0700"/><stop offset="0.467" stop-color="#ff8000"/><stop offset="0.498" stop-color="#ffff00"/><stop offset="0.558" stop-color="#01fffe"/><stop offset="0.598" stop-color="#004dff"/><stop offset="0.646" stop-color="#0007ff"/><stop offset="0.662" stop-color="#0000f0"/><stop offset="0.692" stop-color="#0000c7"/><stop offset="1.000" stop-color="#0000c7"/></linearGradient>
<linearGradient id="g232" x1="0" y1="133.70" x2="0" y2="166.20" gradientUnits="userSpaceOnUse"><stop offset="0.000" stop-color="#ff1400"/><stop offset="0.431" stop-color="#ff1400"/><stop offset="0.443" stop-color="#ff0000"/><stop offset="0.466" stop-color="#ff8000"/><stop offset="0.497" stop-color="#ffff00"/><stop offset="0.557" stop-color="#00ffff"/><stop offset="0.597" stop-color="#004dff"/><stop offset="0.646" stop-color="#0005ff"/><stop offset="0.692" stop-color="#0000c7"/><stop offset="1.000" stop-color="#0000c7"/></linearGradient>
<linearGradient id="g233" x1="0" y1="133.70" x2="0" y2="166.20" gradientUnits="userSpaceOnUse"><stop offset="0.000" stop-color="#ff1400"/><stop offset="0.442" stop-color="#ff1400"/><stop offset="0.446" stop-color="#ff1600"/><stop offset="0.465" stop-color="#ff7f00"/><stop offset="0.495" stop-color="#ffff00"/><stop offset="0.556" stop-color="#00ffff"/><stop offset="0.596" stop-color="#004cff"/><stop offset="0.646" stop-color="#0004ff"/><stop offset="0.692" stop-color="#0000c7"/><stop offset="1.000" stop-color="#0000c7"/></linearGradient>
<linearGradient id="g234" x1="0" y1="133.70" x2="0" y2="166.20" gradientUnits="userSpaceOnUse"><stop offset="0.000" stop-color="#ff1400"/><stop offset="0.431" stop-color="#ff1400"/><stop offset="0.441" stop-color="#ff0100"/><stop offset="0.464" stop-color="#ff7f00"/><stop offset="0.494" stop-color="#ffff00"/><stop offset="0.555" stop-color="#00ffff"/><stop offset="0.595" stop-color="#004dff"/><stop offset="0.646" stop-color="#0003ff"/><stop offset="0.692" stop-color="#0000c7"/><stop offset="1.000" stop-color="#0000c7"/></linearGradient>
<linearGradient id="g235" x1="0" y1="133.70" x2="0" y2="166.20" gradientUnits="userSpaceOnUse"><stop offset="0.000" stop-color="#ff1400"/><stop offset="0.440" stop-color="#ff1400"/><stop offset="0.446" stop-color="#ff2200"/><stop offset="0.463" stop-color="#ff8000"/><stop offset="0.494" stop-color="#ffff00"/><stop offset="0.554" stop-color="#00ffff"/><stop offset="0.594" stop-color="#004cff"/><stop offset="0.646" stop-color="#0002ff"/><stop offset="0.677" stop-color="#0000d5"/><stop offset="0.692" stop-color="#0000c7"/><stop offset="1.000" stop-color="#0000c7"/></linearGradient>
<linearGradient id="g236" x1="0" y1="133.70" x2="0" y2="166.20" gradientUnits="userSpaceOnUse"><stop offset="0.000" stop-color="#ff1400"/><stop offset="0.431" stop-color="#ff1400"/><stop offset="0.440" stop-color="#ff0100"/><stop offset="0.462" stop-color="#ff7f00"/><stop offset="0.493" stop-color="#ffff00"/><stop offset="0.553" stop-color="#00ffff"/><stop offset="0.594" stop-color="#004dff"/><stop offset="0.646" stop-color="#0002ff"/><stop offset="0.677" stop-color="#0000d4"/><stop offset="0.692" stop-color="#0000c7"/><stop offset="1.000" stop-color="#0000c7"/></linearGradient>
<linearGradient id="g237" x1="0" y1="133.70" x2="0" y2="166.20" gradientUnits="userSpaceOnUse"><stop offset="0.000" stop-color="#ff1400"/><stop offset="0.438" stop-color="#ff1400"/><stop offset="0.446" stop-color="#ff2b00"/><stop offset="0.462" stop-color="#ff8100"/><stop offset="0.492" stop-color="#ffff00"/><stop offset="0.552" stop-color="#00ffff"/><stop offset="0.593" stop-color="#004dff"/><stop offset="0.646" stop-color="#0001ff"/><stop offset="0.677" stop-color="#0000d3"/><stop offset="0.692" stop-color="#0000c7"/><stop offset="1.000" stop-color="#0000c7"/></linearGradient>
<linearGradient id="g238" x1="0" y1="133.70" x2="0" y2="166.20" gradientUnits="userSpaceOnUse"><stop offset="0.000" stop-color="#ff1400"/><stop offset="0.431" stop-color="#ff1400"/><stop offset="0.438" stop-color="#ff0000"/><stop offset="0.460" stop-color="#ff7f00"/><stop offset="0.491" stop-color="#ffff00"/><stop offset="0.551" stop-color="#01fffe"/><stop offset="0.593" stop-color="#004cff"/><stop offset="0.646" stop-color="#0000ff"/><stop offset="0.677" stop-color="#0000d2"/><stop offset="0.692" stop-color="#0000c7"/><stop offset="1.000" stop-color="#0000c7"/></linearGradient>
<linearGradient id="g239" x1="0" y1="133.70" x2="0" y2="166.20" gradientUnits="userSpaceOnUse"><stop offset="0.000" stop-color="#ff1400"/><stop offset="0.437" stop-color="#ff1400"/><stop offset="0.446" stop-color="#ff3300"/><stop offset="0.460" stop-color="#ff8000"/><stop offset="0.491" stop-color="#ffff00"/><stop offset="0.551" stop-color="#00ffff"/><stop offset="0.592" stop-color="#004cff"/><stop offset="0.646" stop-color="#0000fe"/><stop offset="0.677" stop-color="#0000d2"/><stop offset="0.692" stop-color="#0000c7"/><stop offset="1.000" stop-color="#0000c7"/></linearGradient>
<linearGradient id="g240" x1="0" y1="133.70" x2="0" y2="166.20" gradientUnits="userSpaceOnUse"><stop offset="0.000" stop-color="#ff1400"/><stop offset="0.431" stop-color="#ff1400"/><stop offset="0.437" stop-color="#ff0100"/><stop offset="0.459" stop-color="#ff7f00"/><stop offset="0.490" stop-color="#ffff00"/><stop offset="0.551" stop-color="#00ffff"/><stop offset="0.592" stop-color="#004cff"/><stop offset="0.646" stop-color="#0000fe"/><stop offset="0.677" stop-color="#0000d1"/><stop offset="0.692" stop-color="#0000c7"/><stop offset="1.000" stop-color="#0000c7"/></linearGradient>
<linearGradient id="g241" x1="0" y1="133.70" x2="0" y2="166.20" gradientUnits="userSpaceOnUse"><stop offset="0.000" stop-color="#ff1400"/><stop offset="0.435" stop-color="#ff1400"/><stop offset="0.446" stop-color="#ff3b00"/><stop offset="0.458" stop-color="#ff7f00"/><stop offset="0.489" stop-color="#ffff00"/><stop offset="0.550" stop-color="#00ffff"/><stop offset="0.591" stop-color="#004dff"/><stop offset="0.646" stop-color="#0000fd"/><stop offset="0.677" stop-color="#0000d1"/><stop offset="0.692" stop-color="#0000c7"/><stop offset="1.000" stop-color="#0000c7"/></linearGradient>
<linearGradient id="g242" x1="0" y1="133.70" x2="0" y2="166.20" gradientUnits="userSpaceOnUse"><stop offset="0.000" stop-color="#ff1400"/><stop offset="0.431" stop-color="#ff1400"/><stop offset="0.435" stop-color="#ff0100"/><stop offset="0.458" stop-color="#ff8000"/><stop offset="0.489" stop-color="#ffff00"/><stop offset="0.550" stop-color="#00ffff"/><stop offset="0.591" stop-color="#004dff"/><stop offset="0.646" stop-color="#0000fc"/><stop offset="0.677" stop-color="#0000d0"/><stop offset="0.692" stop-color="#0000c7"/><stop offset="1.000" stop-color="#0000c7"/></linearGradient>
<linearGradient id="g243" x1="0" y1="133.70" x2="0" y2="166.20" gradientUnits="userSpaceOnUse"><stop offset="0.000" stop-color="#ff1400"/><stop offset="0.434" stop-color="#ff1400"/><stop offset="0.446" stop-color="#ff4000"/><stop offset="0.458" stop-color="#ff7f00"/><stop offset="0.488" stop-color="#ffff00"/><stop offset="0.549" stop-color="#00ffff"/><stop offset="0.591" stop-color="#004dff"/><stop offset="0.646" stop-color="#0000fc"/><stop offset="0.677" stop-color="#0000d0"/><stop offset="0.692" stop-color="#0000c7"/><stop offset="1.000" stop-color="#0000c7"/></linearGradient>
<linearGradient id="g244" x1="0" y1="133.70" x2="0" y2="166.20" gradientUnits="userSpaceOnUse"><stop offset="0.000" stop-color="#ff1400"/><stop offset="0.431" stop-color="#ff1400"/><stop offset="0.434" stop-color="#ff0100"/><stop offset="0.457" stop-color="#ff8000"/><stop offset="0.488" stop-color="#ffff00"/><stop offset="0.549" stop-color="#00ffff"/><stop offset="0.590" stop-color="#004dff"/><stop offset="0.646" stop-color="#0000fc"/><stop offset="0.677" stop-color="#0000cf"/><stop offset="0.692" stop-color="#0000c7"/><stop offset="1.000" stop-color="#0000c7"/></linearGradient>
<linearGradient id="g245" x1="0" y1="133.70" x2="0" y2="166.20" gradientUnits="userSpaceOnUse"><stop offset="0.000" stop-color="#ff1400"/><stop offset="0.433" stop-color="#ff1400"/><stop offset="0.446" stop-color="#ff4800"/><stop offset="0.456" stop-color="#ff7f00"/><stop offset="0.487" stop-color="#ffff00"/><stop offset="0.538" stop-color="#29ffd6"/><stop offset="0.548" stop-color="#00feff"/><stop offset="0.590" stop-color="#004cff"/><stop offset="0.646" stop-color="#0000fb"/><stop offset="0.677" stop-color="#0000cf"/><stop offset="0.692" stop-color="#0000c7"/><stop offset="1.000" stop-color="#0000c7"/></linearGradient>
<linearGradient id="g246" x1="0" y1="133.70" x2="0" y2="166.20" gradientUnits="userSpaceOnUse"><stop offset="0.000" stop-color="#ff1400"/><stop offset="0.431" stop-color="#ff1400"/><stop offset="0.433" stop-color="#ff0000"/><stop offset="0.456" stop-color="#ff8000"/><stop offset="0.487" stop-color="#ffff00"/><stop offset="0.538" stop-color="#27ffd8"/><stop offset="0.548" stop-color="#00feff"/><stop offset="0.590" stop-color="#004dff"/><stop offset="0.646" stop-color="#0000fb"/><stop offset="0.677" stop-color="#0000ce"/><stop offset="0.692" stop-color="#0000c7"/><stop offset="1.000" stop-color="#0000c7"/></linearGradient>
<linearGradient id="g247" x1="0" y1="133.70" x2="0" y2="166.20" gradientUnits="userSpaceOnUse"><stop offset="0.000" stop-color="#ff1400"/><stop offset="0.432" stop-color="#ff1400"/><stop offset="0.446" stop-color="#ff4c00"/><stop offset="0.455" stop-color="#ff7f00"/><stop offset="0.486" stop-color="#fffe00"/><stop offset="0.548" stop-color="#00ffff"/><stop offset="0.590" stop-color="#004dff"/><stop offset="0.646" stop-color="#0000fa"/><stop offset="0.677" stop-color="#0000ce"/><stop offset="0.692" stop-color="#0000c7"/><stop offset="1.000" stop-color="#0000c7"/></linearGradient>
<linearGradient id="g248" x1="0" y1="133.70" x2="0" y2="166.20" gradientUnits="userSpaceOnUse"><stop offset="0.000" stop-color="#ff1400"/><stop offset="0.431" stop-color="#ff1400"/><stop offset="0.432" stop-color="#ff0000"/><stop offset="0.455" stop-color="#ff7f00"/><stop offset="0.486" stop-color="#ffff00"/><stop offset="0.547" stop-color="#00ffff"/><stop offset="0.590" stop-color="#004cff"/><stop offset="0.646" stop-color="#0000fa"/><stop offset="0.677" stop-color="#0000ce"/><stop offset="0.692" stop-color="#0000c7"/><stop offset="1.000" stop-color="#0000c7"/></linearGradient>
<linearGradient id="g249" x1="0" y1="133.70" x2="0" y2="166.20" gradientUnits="userSpaceOnUse"><stop offset="0.000" stop-color="#ff1400"/><stop offset="0.431" stop-color="#ff1400"/><stop offset="0.446" stop-color="#ff5100"/><stop offset="0.455" stop-color="#ff8000"/><stop offset="0.486" stop-color="#ffff00"/><stop offset="0.547" stop-color="#00ffff"/><stop offset="0.589" stop-color="#004cff"/><stop offset="0.646" stop-color="#0000fa"/><stop offset="0.677" stop-color="#0000ce"/><stop offset="0.692" stop-color="#0000c7"/><stop offset="1.000" stop-color="#0000c7"/></linearGradient>
<linearGradient id="g250" x1="0" y1="133.70" x2="0" y2="166.20" gradientUnits="userSpaceOnUse"><stop offset="0.000" stop-color="#ff1400"/><stop offset="0.415" stop-color="#ff1400"/><stop offset="0.431" stop-color="#ff0000"/><stop offset="0.454" stop-color="#ff8000"/><stop offset="0.485" stop-color="#feff01"/><stop offset="0.547" stop-color="#00ffff"/><stop offset="0.589" stop-color="#004dff"/><stop offset="0.631" stop-color="#0011ff"/><stop offset="0.646" stop-color="#0000f9"/><stop offset="0.677" stop-color="#0000cd"/><stop offset="0.692" stop-color="#0000c7"/><stop offset="1.000" stop-color="#0000c7"/></linearGradient>
<linearGradient id="g251" x1="0" y1="133.70" x2="0" y2="166.20" gradientUnits="userSpaceOnUse"><stop offset="0.000" stop-color="#ff1400"/><stop offset="0.430" stop-color="#ff1400"/><stop offset="0.431" stop-color="#ff0300"/><stop offset="0.454" stop-color="#ff7f00"/><stop offset="0.485" stop-color="#ffff00"/><stop offset="0.546" stop-color="#00ffff"/><stop offset="0.589" stop-color="#004cff"/><stop offset="0.631" stop-color="#0010ff"/><stop offset="0.646" stop-color="#0000f9"/><stop offset="0.677" stop-color="#0000cd"/><stop offset="0.692" stop-color="#0000c7"/><stop offset="1.000" stop-color="#0000c7"/></linearGradient>
<linearGradient id="g252" x1="0" y1="133.70" x2="0" y2="166.20" gradientUnits="userSpaceOnUse"><stop offset="0.000" stop-color="#ff1400"/><stop offset="0.415" stop-color="#ff1400"/><stop offset="0.430" stop-color="#ff0000"/><stop offset="0.454" stop-color="#ff7f00"/><stop offset="0.484" stop-color="#ffff00"/><stop offset="0.546" stop-color="#01fffe"/><stop offset="0.589" stop-color="#004dff"/><stop offset="0.631" stop-color="#0010ff"/><stop offset="0.646" stop-color="#0000f9"/><stop offset="0.677" stop-color="#0000cd"/><stop offset="0.692" stop-color="#0000c7"/><stop offset="1.000" stop-color="#0000c7"/></linearGradient>
<linearGradient id="g253" x1="0" y1="133.70" x2="0" y2="166.20" gradientUnits="userSpaceOnUse"><stop offset="0.000" stop-color="#ff1400"/><stop offset="0.429" stop-color="#ff1400"/><stop offset="0.431" stop-color="#ff0700"/><stop offset="0.453" stop-color="#ff8000"/><stop offset="0.484" stop-color="#ffff00"/><stop offset="0.546" stop-color="#00ffff"/><stop offset="0.589" stop-color="#004cff"/><stop offset="0.631" stop-color="#0010ff"/><stop offset="0.646" stop-color="#0000f9"/><stop offset="0.677" stop-color="#0000cd"/><stop offset="0.692" stop-color="#0000c7"/><stop offset="1.000" stop-color="#0000c7"/></linearGradient>
<linearGradient id="g254" x1="0" y1="133.70" x2="0" y2="166.20" gradientUnits="userSpaceOnUse"><stop offset="0.000" stop-color="#ff1400"/><stop offset="0.415" stop-color="#ff1400"/><stop offset="0.429" stop-color="#ff0100"/><stop offset="0.452" stop-color="#ff7f00"/><stop offset="0.483" stop-color="#ffff00"/><stop offset="0.546" stop-color="#01fffe"/><stop offset="0.588" stop-color="#004cff"/><stop offset="0.631" stop-color="#000fff"/><stop offset="0.646" stop-color="#0000f8"/><stop offset="0.677" stop-color="#0000cc"/><stop offset="0.692" stop-color="#0000c7"/><stop offset="1.000" stop-color="#0000c7"/></linearGradient>
<linearGradient id="g255" x1="0" y1="133.70" x2="0" y2="166.20" gradientUnits="userSpaceOnUse"><stop offset="0.000" stop-color="#ff1400"/><stop offset="0.428" stop-color="#ff1400"/><stop offset="0.431" stop-color="#ff0e00"/><stop offset="0.452" stop-color="#ff7f00"/><stop offset="0.483" stop-color="#ffff00"/><stop offset="0.546" stop-color="#00ffff"/><stop offset="0.588" stop-color="#004cff"/><stop offset="0.631" stop-color="#000fff"/><stop offset="0.646" stop-color="#0000f8"/><stop offset="0.677" stop-color="#0000cc"/><stop offset="0.692" stop-color="#0000c7"/><stop offset="1.000" stop-color="#0000c7"/></linearGradient>
<linearGradient id="g256" x1="0" y1="133.70" x2="0" y2="166.20" gradientUnits="userSpaceOnUse"><stop offset="0.000" stop-color="#ff1400"/><stop offset="0.415" stop-color="#ff1400"/><stop offset="0.428" stop-color="#ff0000"/><stop offset="0.452" stop-color="#ff7f00"/><stop offset="0.482" stop-color="#ffff00"/><stop offset="0.545" stop-color="#00ffff"/><stop offset="0.588" stop-color="#004dff"/><stop offset="0.631" stop-color="#000fff"/><stop offset="0.646" stop-color="#0000f8"/><stop offset="0.677" stop-color="#0000cc"/><stop offset="0.692" stop-color="#0000c7"/><stop offset="1.000" stop-color="#0000c7"/></linearGradient>
<linearGradient id="g257" x1="0" y1="133.70" x2="0" y2="166.20" gradientUnits="userSpaceOnUse"><stop offset="0.000" stop-color="#ff1400"/><stop offset="0.431" stop-color="#ff1300"/><stop offset="0.451" stop-color="#ff8000"/><stop offset="0.482" stop-color="#ffff00"/><stop offset="0.545" stop-color="#00ffff"/><stop offset="0.588" stop-color="#004cff"/><stop offset="0.631" stop-color="#000fff"/><stop offset="0.646" stop-color="#0000f8"/><stop offset="0.677" stop-color="#0000cc"/><stop offset="0.692" stop-color="#0000c7"/><stop offset="1.000" stop-color="#0000c7"/></linearGradient>
<linearGradient id="g258" x1="0" y1="133.70" x2="0" y2="166.20" gradientUnits="userSpaceOnUse"><stop offset="0.000" stop-color="#ff1400"/><stop offset="0.415" stop-color="#ff1400"/><stop offset="0.426" stop-color="#ff0000"/><stop offset="0.451" stop-color="#ff8000"/><stop offset="0.482" stop-color="#ffff00"/><stop offset="0.512" stop-color="#7fff80"/><stop offset="0.545" stop-color="#00ffff"/><stop offset="0.588" stop-color="#004dff"/><stop offset="0.631" stop-color="#000fff"/><stop offset="0.646" stop-color="#0000f8"/><stop offset="0.677" stop-color="#0000cc"/><stop offset="0.692" stop-color="#0000c7"/><stop offset="1.000" stop-color="#0000c7"/></linearGradient>
<linearGradient id="g259" x1="0" y1="133.70" x2="0" y2="166.20" gradientUnits="userSpaceOnUse"><stop offset="0.000" stop-color="#ff1400"/><stop offset="0.426" stop-color="#ff1400"/><stop offset="0.431" stop-color="#ff1900"/><stop offset="0.450" stop-color="#ff8000"/><stop offset="0.481" stop-color="#feff01"/><stop offset="0.512" stop-color="#7fff80"/><stop offset="0.545" stop-color="#00ffff"/><stop offset="0.588" stop-color="#004dff"/><stop offset="0.631" stop-color="#000fff"/><stop offset="0.646" stop-color="#0000f8"/><stop offset="0.677" stop-color="#0000cb"/><stop offset="0.692" stop-color="#0000c7"/><stop offset="1.000" stop-color="#0000c7"/></linearGradient>
<linearGradient id="g260" x1="0" y1="133.70" x2="0" y2="166.20" gradientUnits="userSpaceOnUse"><stop offset="0.000" stop-color="#ff1400"/><stop offset="0.415" stop-color="#ff1400"/><stop offset="0.425" stop-color="#ff0000"/><stop offset="0.450" stop-color="#ff8000"/><stop offset="0.481" stop-color="#feff01"/><stop offset="0.511" stop-color="#7fff80"/><stop offset="0.545" stop-color="#00ffff"/><stop offset="0.588" stop-color="#004dff"/><stop offset="0.631" stop-color="#000fff"/><stop offset="0.646" stop-color="#0000f8"/><stop offset="0.677" stop-color="#0000cb"/><stop offset="0.692" stop-color="#0000c7"/><stop offset="1.000" stop-color="#0000c7"/></linearGradient>
<linearGradient id="g261" x1="0" y1="148.50" x2="0" y2="154.00" gradientUnits="userSpaceOnUse"><stop offset="0.000" stop-color="#ff4c00"/><stop offset="0.386" stop-color="#ff4c00"/><stop offset="0.432" stop-color="#e5ff1a"/><stop offset="0.477" stop-color="#1affe5"/><stop offset="0.532" stop-color="#0061ff"/><stop offset="0.614" stop-color="#0000c7"/><stop offset="1.000" stop-color="#0000c7"/></linearGradient>
<linearGradient id="g262" x1="0" y1="176.50" x2="0" y2="209.40" gradientUnits="userSpaceOnUse"><stop offset="0.000" stop-color="#ff0200"/><stop offset="0.243" stop-color="#f30000"/><stop offset="0.466" stop-color="#ff0000"/><stop offset="0.481" stop-color="#ff8000"/><stop offset="0.490" stop-color="#feff01"/><stop offset="0.520" stop-color="#00ffff"/><stop offset="0.539" stop-color="#004eff"/><stop offset="0.593" stop-color="#0000fd"/><stop offset="0.623" stop-color="#0000d1"/><stop offset="0.638" stop-color="#0000c7"/><stop offset="1.000" stop-color="#0000c7"/></linearGradient>
<linearGradient id="g263" x1="0" y1="176.50" x2="0" y2="209.40" gradientUnits="userSpaceOnUse"><stop offset="0.000" stop-color="#ff0200"/><stop offset="0.258" stop-color="#f20000"/><stop offset="0.468" stop-color="#ff0100"/><stop offset="0.483" stop-color="#ff8100"/><stop offset="0.493" stop-color="#fffe00"/><stop offset="0.517" stop-color="#32ffcd"/><stop offset="0.523" stop-color="#00feff"/><stop offset="0.541" stop-color="#004cff"/><stop offset="0.593" stop-color="#0002ff"/><stop offset="0.623" stop-color="#0000d4"/><stop offset="0.638" stop-color="#0000c7"/><stop offset="1.000" stop-color="#0000c7"/></linearGradient>
<linearGradient id="g264" x1="0" y1="176.50" x2="0" y2="209.40" gradientUnits="userSpaceOnUse"><stop offset="0.000" stop-color="#ff0200"/><stop offset="0.258" stop-color="#f10000"/><stop offset="0.380" stop-color="#f50000"/><stop offset="0.471" stop-color="#ff0000"/><stop offset="0.486" stop-color="#ff7f00"/><stop offset="0.497" stop-color="#feff01"/><stop offset="0.511" stop-color="#80ff7f"/><stop offset="0.526" stop-color="#00ffff"/><stop offset="0.545" stop-color="#004dff"/><stop offset="0.593" stop-color="#0007ff"/><stop offset="0.608" stop-color="#0000f0"/><stop offset="0.638" stop-color="#0000c7"/><stop offset="1.000" stop-color="#0000c7"/></linearGradient>
<linearGradient id="g265" x1="0" y1="176.50" x2="0" y2="209.40" gradientUnits="userSpaceOnUse"><stop offset="0.000" stop-color="#ff0100"/><stop offset="0.258" stop-color="#f00000"/><stop offset="0.473" stop-color="#ff0000"/><stop offset="0.488" stop-color="#ff7f00"/><stop offset="0.500" stop-color="#feff01"/><stop offset="0.514" stop-color="#80ff7f"/><stop offset="0.529" stop-color="#01fffe"/><stop offset="0.548" stop-color="#004eff"/><stop offset="0.593" stop-color="#000cff"/><stop offset="0.608" stop-color="#0000f5"/><stop offset="0.638" stop-color="#0000c8"/><stop offset="1.000" stop-color="#0000c7"/></linearGradient>
<linearGradient id="g266" x1="0" y1="176.50" x2="0" y2="209.40" gradientUnits="userSpaceOnUse"><stop offset="0.000" stop-color="#ff0100"/><stop offset="0.258" stop-color="#ef0000"/><stop offset="0.410" stop-color="#f60000"/><stop offset="0.476" stop-color="#ff0100"/><stop offset="0.491" stop-color="#ff8000"/><stop offset="0.504" stop-color="#ffff00"/><stop offset="0.517" stop-color="#7fff80"/><stop offset="0.532" stop-color="#00ffff"/><stop offset="0.551" stop-color="#004dff"/><stop offset="0.593" stop-color="#0010ff"/><stop offset="0.608" stop-color="#0000f9"/><stop offset="0.638" stop-color="#0000cd"/><stop offset="0.653" stop-color="#0000c7"/><stop offset="1.000" stop-color="#0000c7"/></linearGradient>
<linearGradient id="g267" x1="0" y1="176.50" x2="0" y2="209.40" gradientUnits="userSpaceOnUse"><stop offset="0.000" stop-color="#ff0100"/><stop offset="0.258" stop-color="#ee0000"/><stop offset="0.395" stop-color="#f40000"/><stop offset="0.478" stop-color="#ff0000"/><stop offset="0.494" stop-color="#ff8000"/><stop offset="0.507" stop-color="#fffe00"/><stop offset="0.519" stop-color="#7fff80"/><stop offset="0.535" stop-color="#00ffff"/><stop offset="0.554" stop-color="#004dff"/><stop offset="0.608" stop-color="#0000fe"/><stop offset="0.638" stop-color="#0000d2"/><stop offset="0.653" stop-color="#0000c7"/><stop offset="1.000" stop-color="#0000c7"/></linearGradient>
<linearGradient id="g268" x1="0" y1="176.50" x2="0" y2="209.40" gradientUnits="userSpaceOnUse"><stop offset="0.000" stop-color="#ff0100"/><stop offset="0.243" stop-color="#ed0000"/><stop offset="0.395" stop-color="#f30000"/><stop offset="0.481" stop-color="#ff0000"/><stop offset="0.496" stop-color="#ff7f00"/><stop offset="0.510" stop-color="#ffff00"/><stop offset="0.522" stop-color="#80ff7f"/><stop offset="0.537" stop-color="#00ffff"/><stop offset="0.557" stop-color="#004dff"/><stop offset="0.608" stop-color="#0003ff"/><stop offset="0.653" stop-color="#0000c7"/><stop offset="1.000" stop-color="#0000c7"/></linearGradient>
<linearGradient id="g269" x1="0" y1="176.50" x2="0" y2="209.40" gradientUnits="userSpaceOnUse"><stop offset="0.000" stop-color="#ff0000"/><stop offset="0.243" stop-color="#ec0000"/><stop offset="0.380" stop-color="#f10000"/><stop offset="0.483" stop-color="#ff0100"/><stop offset="0.512" stop-color="#ffff00"/><stop offset="0.524" stop-color="#7fff80"/><stop offset="0.540" stop-color="#00feff"/><stop offset="0.560" stop-color="#004cff"/><stop offset="0.608" stop-color="#0007ff"/><stop offset="0.623" stop-color="#0000ef"/><stop offset="0.653" stop-color="#0000c7"/><stop offset="1.000" stop-color="#0000c7"/></linearGradient>
<linearGradient id="g270" x1="0" y1="176.50" x2="0" y2="209.40" gradientUnits="userSpaceOnUse"><stop offset="0.000" stop-color="#ff0000"/><stop offset="0.243" stop-color="#eb0000"/><stop offset="0.380" stop-color="#f00000"/><stop offset="0.484" stop-color="#ff0000"/><stop offset="0.514" stop-color="#ffff00"/><stop offset="0.526" stop-color="#80ff7f"/><stop offset="0.541" stop-color="#00ffff"/><stop offset="0.562" stop-color="#004cff"/><stop offset="0.608" stop-color="#000aff"/><stop offset="0.623" stop-color="#0000f3"/><stop offset="0.653" stop-color="#0000c7"/><stop offset="1.000" stop-color="#0000c7"/></linearGradient>
<linearGradient id="g271" x1="0" y1="176.50" x2="0" y2="209.40" gradientUnits="userSpaceOnUse"><stop offset="0.000" stop-color="#ff0000"/><stop offset="0.274" stop-color="#e90000"/><stop offset="0.410" stop-color="#f20000"/><stop offset="0.485" stop-color="#ff0000"/><stop offset="0.516" stop-color="#ffff00"/><stop offset="0.528" stop-color="#7eff81"/><stop offset="0.543" stop-color="#00feff"/><stop offset="0.564" stop-color="#004cff"/><stop offset="0.608" stop-color="#000dff"/><stop offset="0.623" stop-color="#0000f6"/><stop offset="0.653" stop-color="#0000c9"/><stop offset="0.669" stop-color="#0000c7"/><stop offset="1.000" stop-color="#0000c7"/></linearGradient>
<linearGradient id="g272" x1="0" y1="176.50" x2="0" y2="209.40" gradientUnits="userSpaceOnUse"><stop offset="0.000" stop-color="#ff0000"/><stop offset="0.258" stop-color="#e80000"/><stop offset="0.380" stop-color="#ee0000"/><stop offset="0.486" stop-color="#ff0000"/><stop offset="0.517" stop-color="#feff01"/><stop offset="0.529" stop-color="#7fff80"/><stop offset="0.544" stop-color="#00feff"/><stop offset="0.566" stop-color="#004cff"/><stop offset="0.608" stop-color="#000fff"/><stop offset="0.623" stop-color="#0000f8"/><stop offset="0.653" stop-color="#0000cc"/><stop offset="0.669" stop-color="#0000c7"/><stop offset="1.000" stop-color="#0000c7"/></linearGradient>
<linearGradient id="g273" x1="0" y1="176.50" x2="0" y2="209.40" gradientUnits="userSpaceOnUse"><stop offset="0.000" stop-color="#ff0000"/><stop offset="0.258" stop-color="#e70000"/><stop offset="0.380" stop-color="#ed0000"/><stop offset="0.487" stop-color="#ff0000"/><stop offset="0.518" stop-color="#fffe00"/><stop offset="0.530" stop-color="#7eff81"/><stop offset="0.546" stop-color="#00feff"/><stop offset="0.567" stop-color="#004cff"/><stop offset="0.623" stop-color="#0000fa"/><stop offset="0.653" stop-color="#0000ce"/><stop offset="0.669" stop-color="#0000c7"/><stop offset="1.000" stop-color="#0000c7"/></linearGradient>
<linearGradient id="g274" x1="0" y1="176.50" x2="0" y2="209.40" gradientUnits="userSpaceOnUse"><stop offset="0.000" stop-color="#fe0000"/><stop offset="0.198" stop-color="#e90000"/><stop offset="0.304" stop-color="#e60000"/><stop offset="0.426" stop-color="#f20000"/><stop offset="0.486" stop-color="#ff0000"/><stop offset="0.488" stop-color="#ff0100"/><stop offset="0.519" stop-color="#ffff00"/><stop offset="0.531" stop-color="#80ff7f"/><stop offset="0.547" stop-color="#00ffff"/><stop offset="0.569" stop-color="#004cff"/><stop offset="0.623" stop-color="#0000fc"/><stop offset="0.653" stop-color="#0000d0"/><stop offset="0.669" stop-color="#0000c7"/><stop offset="1.000" stop-color="#0000c7"/></linearGradient>
<linearGradient id="g275" x1="0" y1="176.50" x2="0" y2="209.40" gradientUnits="userSpaceOnUse"><stop offset="0.000" stop-color="#fe0000"/><stop offset="0.274" stop-color="#e40000"/><stop offset="0.380" stop-color="#eb0000"/><stop offset="0.489" stop-color="#ff0000"/><stop offset="0.519" stop-color="#fffe00"/><stop offset="0.532" stop-color="#85ff7a"/><stop offset="0.548" stop-color="#00feff"/><stop offset="0.570" stop-color="#004dff"/><stop offset="0.623" stop-color="#0000fe"/><stop offset="0.653" stop-color="#0000d2"/><stop offset="0.669" stop-color="#0000c7"/><stop offset="1.000" stop-color="#0000c7"/></linearGradient>
<linearGradient id="g276" x1="0" y1="176.50" x2="0" y2="209.40" gradientUnits="userSpaceOnUse"><stop offset="0.000" stop-color="#fe0000"/><stop offset="0.198" stop-color="#e70000"/><stop offset="0.289" stop-color="#e30000"/><stop offset="0.426" stop-color="#f00000"/><stop offset="0.489" stop-color="#ff0000"/><stop offset="0.520" stop-color="#feff01"/><stop offset="0.533" stop-color="#80ff7f"/><stop offset="0.549" stop-color="#00ffff"/><stop offset="0.571" stop-color="#004cff"/><stop offset="0.623" stop-color="#0001ff"/><stop offset="0.653" stop-color="#0000d4"/><stop offset="0.669" stop-color="#0000c7"/><stop offset="1.000" stop-color="#0000c7"/></linearGradient>
<linearGradient id="g277" x1="0" y1="176.50" x2="0" y2="209.40" gradientUnits="userSpaceOnUse"><stop offset="0.000" stop-color="#fe0000"/><stop offset="0.228" stop-color="#e30000"/><stop offset="0.289" stop-color="#e20000"/><stop offset="0.410" stop-color="#ed0000"/><stop offset="0.490" stop-color="#ff0000"/><stop offset="0.521" stop-color="#feff01"/><stop offset="0.534" stop-color="#80ff7f"/><stop offset="0.550" stop-color="#00ffff"/><stop offset="0.573" stop-color="#004cff"/><stop offset="0.623" stop-color="#0003ff"/><stop offset="0.669" stop-color="#0000c7"/><stop offset="1.000" stop-color="#0000c7"/></linearGradient>
<linearGradient id="g278" x1="0" y1="176.50" x2="0" y2="209.40" gradientUnits="userSpaceOnUse"><stop offset="0.000" stop-color="#fd0000"/><stop offset="0.213" stop-color="#e30000"/><stop offset="0.304" stop-color="#e10000"/><stop offset="0.395" stop-color="#ea0000"/><stop offset="0.491" stop-color="#ff0000"/><stop offset="0.521" stop-color="#fffe00"/><stop offset="0.532" stop-color="#9dff62"/><stop offset="0.550" stop-color="#00ffff"/><stop offset="0.574" stop-color="#004cff"/><stop offset="0.623" stop-color="#0005ff"/><stop offset="0.669" stop-color="#0000c7"/><stop offset="1.000" stop-color="#0000c7"/></linearGradient>
<linearGradient id="g279" x1="0" y1="176.50" x2="0" y2="209.40" gradientUnits="userSpaceOnUse"><stop offset="0.000" stop-color="#fd0000"/><stop offset="0.182" stop-color="#e50000"/><stop offset="0.289" stop-color="#df0000"/><stop offset="0.426" stop-color="#ee0000"/><stop offset="0.491" stop-color="#ff0000"/><stop offset="0.522" stop-color="#ffff00"/><stop offset="0.551" stop-color="#01fffe"/><stop offset="0.575" stop-color="#004cff"/><stop offset="0.623" stop-color="#0006ff"/><stop offset="0.669" stop-color="#0000c7"/><stop offset="1.000" stop-color="#0000c7"/></linearGradient>
<linearGradient id="g280" x1="0" y1="176.50" x2="0" y2="209.40" gradientUnits="userSpaceOnUse"><stop offset="0.000" stop-color="#fd0000"/><stop offset="0.182" stop-color="#e40000"/><stop offset="0.289" stop-color="#de0000"/><stop offset="0.426" stop-color="#ed0000"/><stop offset="0.491" stop-color="#ff0000"/><stop offset="0.522" stop-color="#fffe00"/><stop offset="0.532" stop-color="#a9ff56"/><stop offset="0.552" stop-color="#00feff"/><stop offset="0.576" stop-color="#004cff"/><stop offset="0.623" stop-color="#0008ff"/><stop offset="0.638" stop-color="#0000f0"/><stop offset="0.669" stop-color="#0000c7"/><stop offset="1.000" stop-color="#0000c7"/></linearGradient>
<linearGradient id="g281" x1="0" y1="176.50" x2="0" y2="209.40" gradientUnits="userSpaceOnUse"><stop offset="0.000" stop-color="#fc0000"/><stop offset="0.198" stop-color="#e00000"/><stop offset="0.274" stop-color="#db0000"/><stop offset="0.410" stop-color="#e90000"/><stop offset="0.492" stop-color="#ff0000"/><stop offset="0.522" stop-color="#fffe00"/><stop offset="0.532" stop-color="#b0ff4f"/><stop offset="0.553" stop-color="#00feff"/><stop offset="0.577" stop-color="#004dff"/><stop offset="0.623" stop-color="#0009ff"/><stop offset="0.638" stop-color="#0000f2"/><stop offset="0.669" stop-color="#0000c7"/><stop offset="1.000" stop-color="#0000c7"/></linearGradient>
<linearGradient id="g282" x1="0" y1="176.50" x2="0" y2="209.40" gradientUnits="userSpaceOnUse"><stop offset="0.000" stop-color="#fb0000"/><stop offset="0.167" stop-color="#df0000"/><stop offset="0.289" stop-color="#d50000"/><stop offset="0.426" stop-color="#e80000"/><stop offset="0.492" stop-color="#ff0000"/><stop offset="0.522" stop-color="#fffe00"/><stop offset="0.532" stop-color="#aeff51"/><stop offset="0.553" stop-color="#01fffe"/><stop offset="0.577" stop-color="#004dff"/><stop offset="0.623" stop-color="#0009ff"/><stop offset="0.638" stop-color="#0000f2"/><stop offset="0.669" stop-color="#0000c7"/><stop offset="1.000" stop-color="#0000c7"/></linearGradient>
<linearGradient id="g283" x1="0" y1="176.50" x2="0" y2="209.40" gradientUnits="userSpaceOnUse"><stop offset="0.000" stop-color="#fb0000"/><stop offset="0.182" stop-color="#db0000"/><stop offset="0.289" stop-color="#d30000"/><stop offset="0.426" stop-color="#e60000"/><stop offset="0.491" stop-color="#ff0100"/><stop offset="0.522" stop-color="#feff01"/><stop offset="0.552" stop-color="#00feff"/><stop offset="0.575" stop-color="#004cff"/><stop offset="0.623" stop-color="#0007ff"/><stop offset="0.638" stop-color="#0000f0"/><stop offset="0.669" stop-color="#0000c7"/><stop offset="1.000" stop-color="#0000c7"/></linearGradient>
<linearGradient id="g284" x1="0" y1="176.50" x2="0" y2="209.40" gradientUnits="userSpaceOnUse"><stop offset="0.000" stop-color="#fa0000"/><stop offset="0.182" stop-color="#d90000"/><stop offset="0.274" stop-color="#d00000"/><stop offset="0.426" stop-color="#e50000"/><stop offset="0.490" stop-color="#ff0000"/><stop offset="0.520" stop-color="#ffff00"/><stop offset="0.551" stop-color="#00ffff"/><stop offset="0.574" stop-color="#004dff"/><stop offset="0.623" stop-color="#0005ff"/><stop offset="0.669" stop-color="#0000c7"/><stop offset="1.000" stop-color="#0000c7"/></linearGradient>
<linearGradient id="g285" x1="0" y1="176.50" x2="0" y2="209.40" gradientUnits="userSpaceOnUse"><stop offset="0.000" stop-color="#fa0000"/><stop offset="0.182" stop-color="#d80000"/><stop offset="0.274" stop-color="#cf0000"/><stop offset="0.426" stop-color="#e40000"/><stop offset="0.489" stop-color="#ff0000"/><stop offset="0.520" stop-color="#ffff00"/><stop offset="0.550" stop-color="#00ffff"/><stop offset="0.573" stop-color="#004dff"/><stop offset="0.623" stop-color="#0003ff"/><stop offset="0.669" stop-color="#0000c7"/><stop offset="1.000" stop-color="#0000c7"/></linearGradient>
<linearGradient id="g286" x1="0" y1="176.50" x2="0" y2="209.40" gradientUnits="userSpaceOnUse"><stop offset="0.000" stop-color="#fa0000"/><stop offset="0.182" stop-color="#d70000"/><stop offset="0.274" stop-color="#ce0000"/><stop offset="0.395" stop-color="#dd0000"/><stop offset="0.426" stop-color="#e40000"/><stop offset="0.489" stop-color="#ff0000"/><stop offset="0.519" stop-color="#ffff00"/><stop offset="0.550" stop-color="#00ffff"/><stop offset="0.572" stop-color="#004dff"/><stop offset="0.623" stop-color="#0002ff"/><stop offset="0.653" stop-color="#0000d5"/><stop offset="0.669" stop-color="#0000c7"/><stop offset="1.000" stop-color="#0000c7"/></linearGradient>
<linearGradient id="g287" x1="0" y1="176.50" x2="0" y2="209.40" gradientUnits="userSpaceOnUse"><stop offset="0.000" stop-color="#fa0000"/><stop offset="0.198" stop-color="#d40000"/><stop offset="0.274" stop-color="#cd0000"/><stop offset="0.426" stop-color="#e30000"/><stop offset="0.488" stop-color="#ff0000"/><stop offset="0.519" stop-color="#ffff00"/><stop offset="0.549" stop-color="#00ffff"/><stop offset="0.571" stop-color="#004eff"/><stop offset="0.623" stop-color="#0001ff"/><stop offset="0.653" stop-color="#0000d3"/><stop offset="0.669" stop-color="#0000c7"/><stop offset="1.000" stop-color="#0000c7"/></linearGradient>
<linearGradient id="g288" x1="0" y1="176.50" x2="0" y2="209.40" gradientUnits="userSpaceOnUse"><stop offset="0.000" stop-color="#f90000"/><stop offset="0.198" stop-color="#d30000"/><stop offset="0.289" stop-color="#cd0000"/><stop offset="0.410" stop-color="#df0000"/><stop offset="0.488" stop-color="#ff0000"/><stop offset="0.518" stop-color="#fffe00"/><stop offset="0.532" stop-color="#8aff75"/><stop offset="0.548" stop-color="#01fffe"/><stop offset="0.570" stop-color="#004cff"/><stop offset="0.623" stop-color="#0000fe"/><stop offset="0.653" stop-color="#0000d2"/><stop offset="0.669" stop-color="#0000c7"/><stop offset="1.000" stop-color="#0000c7"/></linearGradient>
<linearGradient id="g289" x1="0" y1="176.50" x2="0" y2="209.40" gradientUnits="userSpaceOnUse"><stop offset="0.000" stop-color="#f90000"/><stop offset="0.213" stop-color="#cf0000"/><stop offset="0.289" stop-color="#cb0000"/><stop offset="0.410" stop-color="#de0000"/><stop offset="0.487" stop-color="#ff0000"/><stop offset="0.517" stop-color="#ffff00"/><stop offset="0.547" stop-color="#00ffff"/><stop offset="0.569" stop-color="#004dff"/><stop offset="0.623" stop-color="#0000fc"/><stop offset="0.653" stop-color="#0000d0"/><stop offset="0.669" stop-color="#0000c7"/><stop offset="1.000" stop-color="#0000c7"/></linearGradient>
<linearGradient id="g290" x1="0" y1="176.50" x2="0" y2="209.40" gradientUnits="userSpaceOnUse"><stop offset="0.000" stop-color="#f90000"/><stop offset="0.213" stop-color="#ce0000"/><stop offset="0.289" stop-color="#ca0000"/><stop offset="0.426" stop-color="#e10000"/><stop offset="0.486" stop-color="#ff0000"/><stop offset="0.516" stop-color="#fffe00"/><stop offset="0.517" stop-color="#fbff04"/><stop offset="0.547" stop-color="#01fffe"/><stop offset="0.547" stop-color="#00fbff"/><stop offset="0.568" stop-color="#004dff"/><stop offset="0.623" stop-color="#0000fb"/><stop offset="0.653" stop-color="#0000cf"/><stop offset="0.669" stop-color="#0000c7"/><stop offset="1.000" stop-color="#0000c7"/></linearGradient>
<linearGradient id="g291" x1="0" y1="176.50" x2="0" y2="209.40" gradientUnits="userSpaceOnUse"><stop offset="0.000" stop-color="#f90000"/><stop offset="0.182" stop-color="#d20000"/><stop offset="0.274" stop-color="#c80000"/><stop offset="0.395" stop-color="#d90000"/><stop offset="0.426" stop-color="#e10000"/><stop offset="0.485" stop-color="#ff0000"/><stop offset="0.516" stop-color="#ffff00"/><stop offset="0.546" stop-color="#00ffff"/><stop offset="0.567" stop-color="#004dff"/><stop offset="0.623" stop-color="#0000fa"/><stop offset="0.653" stop-color="#0000ce"/><stop offset="0.669" stop-color="#0000c7"/><stop offset="1.000" stop-color="#0000c7"/></linearGradient>
<linearGradient id="g292" x1="0" y1="176.50" x2="0" y2="209.40" gradientUnits="userSpaceOnUse"><stop offset="0.000" stop-color="#f90000"/><stop offset="0.213" stop-color="#cc0000"/><stop offset="0.289" stop-color="#c80000"/><stop offset="0.410" stop-color="#dc0000"/><stop offset="0.484" stop-color="#ff0000"/><stop offset="0.515" stop-color="#fffe00"/><stop offset="0.517" stop-color="#eeff11"/><stop offset="0.545" stop-color="#01fffe"/><stop offset="0.547" stop-color="#00eeff"/><stop offset="0.566" stop-color="#004dff"/><stop offset="0.608" stop-color="#0010ff"/><stop offset="0.623" stop-color="#0000f8"/><stop offset="0.653" stop-color="#0000cc"/><stop offset="0.669" stop-color="#0000c7"/><stop offset="1.000" stop-color="#0000c7"/></linearGradient>
<linearGradient id="g293" x1="0" y1="176.50" x2="0" y2="209.40" gradientUnits="userSpaceOnUse"><stop offset="0.000" stop-color="#f80000"/><stop offset="0.198" stop-color="#ce0000"/><stop offset="0.289" stop-color="#c70000"/><stop offset="0.410" stop-color="#dc0000"/><stop offset="0.484" stop-color="#ff0000"/><stop offset="0.514" stop-color="#ffff00"/><stop offset="0.544" stop-color="#00ffff"/><stop offset="0.565" stop-color="#004dff"/><stop offset="0.608" stop-color="#000eff"/><stop offset="0.623" stop-color="#0000f7"/><stop offset="0.653" stop-color="#0000cb"/><stop offset="0.669" stop-color="#0000c7"/><stop offset="1.000" stop-color="#0000c7"/></linearGradient>
<linearGradient id="g294" x1="0" y1="176.50" x2="0" y2="209.40" gradientUnits="userSpaceOnUse"><stop offset="0.000" stop-color="#f80000"/><stop offset="0.198" stop-color="#ce0000"/><stop offset="0.289" stop-color="#c70000"/><stop offset="0.410" stop-color="#dc0000"/><stop offset="0.483" stop-color="#ff0100"/><stop offset="0.513" stop-color="#feff01"/><stop offset="0.544" stop-color="#00feff"/><stop offset="0.564" stop-color="#004dff"/><stop offset="0.608" stop-color="#000dff"/><stop offset="0.623" stop-color="#0000f6"/><stop offset="0.653" stop-color="#0000ca"/><stop offset="0.669" stop-color="#0000c7"/><stop offset="1.000" stop-color="#0000c7"/></linearGradient>
<linearGradient id="g295" x1="0" y1="176.50" x2="0" y2="209.40" gradientUnits="userSpaceOnUse"><stop offset="0.000" stop-color="#f80000"/><stop offset="0.198" stop-color="#ce0000"/><stop offset="0.289" stop-color="#c70000"/><stop offset="0.410" stop-color="#dc0000"/><stop offset="0.482" stop-color="#ff0000"/><stop offset="0.512" stop-color="#ffff00"/><stop offset="0.543" stop-color="#00ffff"/><stop offset="0.563" stop-color="#004dff"/><stop offset="0.608" stop-color="#000cff"/><stop offset="0.623" stop-color="#0000f5"/><stop offset="0.653" stop-color="#0000c8"/><stop offset="1.000" stop-color="#0000c7"/></linearGradient>
<linearGradient id="g296" x1="0" y1="176.50" x2="0" y2="209.40" gradientUnits="userSpaceOnUse"><stop offset="0.000" stop-color="#f80000"/><stop offset="0.213" stop-color="#cc0000"/><stop offset="0.274" stop-color="#c70000"/><stop offset="0.334" stop-color="#cc0000"/><stop offset="0.410" stop-color="#dc0000"/><stop offset="0.481" stop-color="#ff0100"/><stop offset="0.512" stop-color="#feff01"/><stop offset="0.542" stop-color="#00feff"/><stop offset="0.562" stop-color="#004dff"/><stop offset="0.608" stop-color="#000aff"/><stop offset="0.623" stop-color="#0000f3"/><stop offset="0.653" stop-color="#0000c7"/><stop offset="1.000" stop-color="#0000c7"/></linearGradient>
<linearGradient id="g297" x1="0" y1="176.50" x2="0" y2="209.40" gradientUnits="userSpaceOnUse"><stop offset="0.000" stop-color="#f90000"/><stop offset="0.198" stop-color="#cf0000"/><stop offset="0.289" stop-color="#c80000"/><stop offset="0.410" stop-color="#dc0000"/><stop offset="0.481" stop-color="#ff0000"/><stop offset="0.511" stop-color="#fffe00"/><stop offset="0.517" stop-color="#d0ff2f"/><stop offset="0.541" stop-color="#01fffe"/><stop offset="0.562" stop-color="#004cff"/><stop offset="0.608" stop-color="#0009ff"/><stop offset="0.623" stop-color="#0000f2"/><stop offset="0.653" stop-color="#0000c7"/><stop offset="1.000" stop-color="#0000c7"/></linearGradient>
<linearGradient id="g298" x1="0" y1="176.50" x2="0" y2="209.40" gradientUnits="userSpaceOnUse"><stop offset="0.000" stop-color="#f90000"/><stop offset="0.198" stop-color="#d00000"/><stop offset="0.289" stop-color="#c90000"/><stop offset="0.410" stop-color="#dd0000"/><stop offset="0.480" stop-color="#ff0000"/><stop offset="0.510" stop-color="#ffff00"/><stop offset="0.541" stop-color="#00ffff"/><stop offset="0.561" stop-color="#004cff"/><stop offset="0.608" stop-color="#0008ff"/><stop offset="0.623" stop-color="#0000f1"/><stop offset="0.653" stop-color="#0000c7"/><stop offset="1.000" stop-color="#0000c7"/></linearGradient>
<linearGradient id="g299" x1="0" y1="176.50" x2="0" y2="209.40" gradientUnits="userSpaceOnUse"><stop offset="0.000" stop-color="#f90000"/><stop offset="0.198" stop-color="#d10000"/><stop offset="0.274" stop-color="#ca0000"/><stop offset="0.395" stop-color="#da0000"/><stop offset="0.479" stop-color="#ff0100"/><stop offset="0.510" stop-color="#feff01"/><stop offset="0.540" stop-color="#00feff"/><stop offset="0.560" stop-color="#004cff"/><stop offset="0.608" stop-color="#0007ff"/><stop offset="0.623" stop-color="#0000f0"/><stop offset="0.653" stop-color="#0000c7"/><stop offset="1.000" stop-color="#0000c7"/></linearGradient>
<linearGradient id="g300" x1="0" y1="176.50" x2="0" y2="209.40" gradientUnits="userSpaceOnUse"><stop offset="0.000" stop-color="#f90000"/><stop offset="0.213" stop-color="#d00000"/><stop offset="0.289" stop-color="#cc0000"/><stop offset="0.410" stop-color="#df0000"/><stop offset="0.478" stop-color="#ff0000"/><stop offset="0.509" stop-color="#fffe00"/><stop offset="0.517" stop-color="#beff41"/><stop offset="0.539" stop-color="#01fffe"/><stop offset="0.559" stop-color="#004dff"/><stop offset="0.608" stop-color="#0005ff"/><stop offset="0.653" stop-color="#0000c7"/><stop offset="1.000" stop-color="#0000c7"/></linearGradient>
<linearGradient id="g301" x1="0" y1="176.50" x2="0" y2="209.40" gradientUnits="userSpaceOnUse"><stop offset="0.000" stop-color="#fa0000"/><stop offset="0.198" stop-color="#d40000"/><stop offset="0.274" stop-color="#cd0000"/><stop offset="0.410" stop-color="#e00000"/><stop offset="0.478" stop-color="#ff0000"/><stop offset="0.508" stop-color="#ffff00"/><stop offset="0.539" stop-color="#00ffff"/><stop offset="0.558" stop-color="#004cff"/><stop offset="0.608" stop-color="#0004ff"/><stop offset="0.653" stop-color="#0000c7"/><stop offset="1.000" stop-color="#0000c7"/></linearGradient>
<linearGradient id="g302" x1="0" y1="176.50" x2="0" y2="209.40" gradientUnits="userSpaceOnUse"><stop offset="0.000" stop-color="#fa0000"/><stop offset="0.182" stop-color="#d80000"/><stop offset="0.274" stop-color="#cf0000"/><stop offset="0.410" stop-color="#e10000"/><stop offset="0.477" stop-color="#ff0000"/><stop offset="0.508" stop-color="#ffff00"/><stop offset="0.538" stop-color="#00ffff"/><stop offset="0.557" stop-color="#004cff"/><stop offset="0.608" stop-color="#0003ff"/><stop offset="0.653" stop-color="#0000c7"/><stop offset="1.000" stop-color="#0000c7"/></linearGradient>
<linearGradient id="g303" x1="0" y1="176.50" x2="0" y2="209.40" gradientUnits="userSpaceOnUse"><stop offset="0.000" stop-color="#fa0000"/><stop offset="0.182" stop-color="#da0000"/><stop offset="0.289" stop-color="#d20000"/><stop offset="0.410" stop-color="#e30000"/><stop offset="0.477" stop-color="#ff0100"/><stop offset="0.507" stop-color="#feff01"/><stop offset="0.537" stop-color="#00feff"/><stop offset="0.557" stop-color="#004dff"/><stop offset="0.608" stop-color="#0002ff"/><stop offset="0.638" stop-color="#0000d5"/><stop offset="0.653" stop-color="#0000c7"/><stop offset="1.000" stop-color="#0000c7"/></linearGradient>
<linearGradient id="g304" x1="0" y1="176.50" x2="0" y2="209.40" gradientUnits="userSpaceOnUse"><stop offset="0.000" stop-color="#fb0000"/><stop offset="0.182" stop-color="#dc0000"/><stop offset="0.289" stop-color="#d40000"/><stop offset="0.410" stop-color="#e40000"/><stop offset="0.476" stop-color="#ff0100"/><stop offset="0.506" stop-color="#feff01"/><stop offset="0.537" stop-color="#00feff"/><stop offset="0.556" stop-color="#004cff"/><stop offset="0.608" stop-color="#0001ff"/><stop offset="0.638" stop-color="#0000d4"/><stop offset="0.653" stop-color="#0000c7"/><stop offset="1.000" stop-color="#0000c7"/></linearGradient>
<linearGradient id="g305" x1="0" y1="176.50" x2="0" y2="209.40" gradientUnits="userSpaceOnUse"><stop offset="0.000" stop-color="#fb0000"/><stop offset="0.228" stop-color="#d80000"/><stop offset="0.289" stop-color="#d60000"/><stop offset="0.410" stop-color="#e60000"/><stop offset="0.475" stop-color="#ff0000"/><stop offset="0.505" stop-color="#fffe00"/><stop offset="0.517" stop-color="#a2ff5d"/><stop offset="0.536" stop-color="#01fffe"/><stop offset="0.555" stop-color="#004eff"/><stop offset="0.608" stop-color="#0000ff"/><stop offset="0.638" stop-color="#0000d3"/><stop offset="0.653" stop-color="#0000c7"/><stop offset="1.000" stop-color="#0000c7"/></linearGradient>
<linearGradient id="g306" x1="0" y1="176.50" x2="0" y2="209.40" gradientUnits="userSpaceOnUse"><stop offset="0.000" stop-color="#fc0000"/><stop offset="0.213" stop-color="#dd0000"/><stop offset="0.289" stop-color="#da0000"/><stop offset="0.410" stop-color="#e80000"/><stop offset="0.474" stop-color="#ff0000"/><stop offset="0.505" stop-color="#fffe00"/><stop offset="0.517" stop-color="#9aff65"/><stop offset="0.535" stop-color="#01fffe"/><stop offset="0.554" stop-color="#004cff"/><stop offset="0.608" stop-color="#0000fd"/><stop offset="0.638" stop-color="#0000d1"/><stop offset="0.653" stop-color="#0000c7"/><stop offset="1.000" stop-color="#0000c7"/></linearGradient>
<linearGradient id="g307" x1="0" y1="176.50" x2="0" y2="209.40" gradientUnits="userSpaceOnUse"><stop offset="0.000" stop-color="#fd0000"/><stop offset="0.182" stop-color="#e40000"/><stop offset="0.289" stop-color="#de0000"/><stop offset="0.410" stop-color="#eb0000"/><stop offset="0.473" stop-color="#ff0000"/><stop offset="0.504" stop-color="#ffff00"/><stop offset="0.534" stop-color="#00ffff"/><stop offset="0.553" stop-color="#004cff"/><stop offset="0.608" stop-color="#0000fc"/><stop offset="0.638" stop-color="#0000d0"/><stop offset="0.653" stop-color="#0000c7"/><stop offset="1.000" stop-color="#0000c7"/></linearGradient>
<linearGradient id="g308" x1="0" y1="176.50" x2="0" y2="209.40" gradientUnits="userSpaceOnUse"><stop offset="0.000" stop-color="#fe0000"/><stop offset="0.228" stop-color="#e30000"/><stop offset="0.289" stop-color="#e20000"/><stop offset="0.410" stop-color="#ed0000"/><stop offset="0.472" stop-color="#ff0000"/><stop offset="0.503" stop-color="#ffff00"/><stop offset="0.533" stop-color="#00ffff"/><stop offset="0.552" stop-color="#004cff"/><stop offset="0.608" stop-color="#0000fa"/><stop offset="0.638" stop-color="#0000ce"/><stop offset="0.653" stop-color="#0000c7"/><stop offset="1.000" stop-color="#0000c7"/></linearGradient>
<linearGradient id="g309" x1="0" y1="176.50" x2="0" y2="209.40" gradientUnits="userSpaceOnUse"><stop offset="0.000" stop-color="#fe0000"/><stop offset="0.198" stop-color="#e90000"/><stop offset="0.304" stop-color="#e60000"/><stop offset="0.410" stop-color="#f00000"/><stop offset="0.471" stop-color="#ff0000"/><stop offset="0.502" stop-color="#fffe00"/><stop offset="0.517" stop-color="#83ff7c"/><stop offset="0.532" stop-color="#01fffe"/><stop offset="0.551" stop-color="#004cff"/><stop offset="0.593" stop-color="#0010ff"/><stop offset="0.608" stop-color="#0000f9"/><stop offset="0.638" stop-color="#0000cd"/><stop offset="0.653" stop-color="#0000c7"/><stop offset="1.000" stop-color="#0000c7"/></linearGradient>
<linearGradient id="g310" x1="0" y1="176.50" x2="0" y2="209.40" gradientUnits="userSpaceOnUse"><stop offset="0.000" stop-color="#ff0000"/><stop offset="0.274" stop-color="#e90000"/><stop offset="0.380" stop-color="#ef0000"/><stop offset="0.471" stop-color="#ff0000"/><stop offset="0.501" stop-color="#fffe00"/><stop offset="0.502" stop-color="#fbff04"/><stop offset="0.531" stop-color="#01fffe"/><stop offset="0.532" stop-color="#00fbff"/><stop offset="0.550" stop-color="#004dff"/><stop offset="0.593" stop-color="#000fff"/><stop offset="0.608" stop-color="#0000f8"/><stop offset="0.638" stop-color="#0000cc"/><stop offset="0.653" stop-color="#0000c7"/><stop offset="1.000" stop-color="#0000c7"/></linearGradient>
<linearGradient id="g311" x1="0" y1="176.50" x2="0" y2="209.40" gradientUnits="userSpaceOnUse"><stop offset="0.000" stop-color="#ff0100"/><stop offset="0.243" stop-color="#ed0000"/><stop offset="0.395" stop-color="#f30000"/><stop offset="0.470" stop-color="#ff0100"/><stop offset="0.500" stop-color="#feff01"/><stop offset="0.517" stop-color="#75ff8a"/><stop offset="0.531" stop-color="#00feff"/><stop offset="0.550" stop-color="#004cff"/><stop offset="0.593" stop-color="#000eff"/><stop offset="0.608" stop-color="#0000f7"/><stop offset="0.638" stop-color="#0000cb"/><stop offset="0.653" stop-color="#0000c7"/><stop offset="1.000" stop-color="#0000c7"/></linearGradient>
<linearGradient id="g312" x1="0" y1="176.50" x2="0" y2="209.40" gradientUnits="userSpaceOnUse"><stop offset="0.000" stop-color="#ff0100"/><stop offset="0.258" stop-color="#f00000"/><stop offset="0.469" stop-color="#ff0000"/><stop offset="0.499" stop-color="#fffe00"/><stop offset="0.530" stop-color="#01fffe"/><stop offset="0.549" stop-color="#004eff"/><stop offset="0.593" stop-color="#000dff"/><stop offset="0.608" stop-color="#0000f6"/><stop offset="0.638" stop-color="#0000ca"/><stop offset="0.653" stop-color="#0000c7"/><stop offset="1.000" stop-color="#0000c7"/></linearGradient>
<linearGradient id="g313" x1="0" y1="176.50" x2="0" y2="209.40" gradientUnits="userSpaceOnUse"><stop offset="0.000" stop-color="#ff0200"/><stop offset="0.258" stop-color="#f30000"/><stop offset="0.468" stop-color="#ff0100"/><stop offset="0.499" stop-color="#feff01"/><stop offset="0.517" stop-color="#68ff97"/><stop offset="0.529" stop-color="#00feff"/><stop offset="0.549" stop-color="#004cff"/><stop offset="0.593" stop-color="#000cff"/><stop offset="0.608" stop-color="#0000f5"/><stop offset="0.638" stop-color="#0000c9"/><stop offset="0.653" stop-color="#0000c7"/><stop offset="1.000" stop-color="#0000c7"/></linearGradient>
<linearGradient id="g314" x1="0" y1="176.50" x2="0" y2="209.40" gradientUnits="userSpaceOnUse"><stop offset="0.000" stop-color="#ff0200"/><stop offset="0.243" stop-color="#f60000"/><stop offset="0.467" stop-color="#ff0000"/><stop offset="0.498" stop-color="#fffe00"/><stop offset="0.528" stop-color="#01fffe"/><stop offset="0.548" stop-color="#004dff"/><stop offset="0.593" stop-color="#000cff"/><stop offset="0.608" stop-color="#0000f4"/><stop offset="0.638" stop-color="#0000c8"/><stop offset="1.000" stop-color="#0000c7"/></linearGradient>
<linearGradient id="g315" x1="0" y1="176.50" x2="0" y2="209.40" gradientUnits="userSpaceOnUse"><stop offset="0.000" stop-color="#ff0300"/><stop offset="0.258" stop-color="#f80000"/><stop offset="0.467" stop-color="#ff0000"/><stop offset="0.497" stop-color="#ffff00"/><stop offset="0.528" stop-color="#00ffff"/><stop offset="0.548" stop-color="#004cff"/><stop offset="0.593" stop-color="#000bff"/><stop offset="0.608" stop-color="#0000f4"/><stop offset="0.638" stop-color="#0000c8"/><stop offset="1.000" stop-color="#0000c7"/></linearGradient>
<linearGradient id="g316" x1="0" y1="176.50" x2="0" y2="209.40" gradientUnits="userSpaceOnUse"><stop offset="0.000" stop-color="#ff0300"/><stop offset="0.466" stop-color="#ff0100"/><stop offset="0.496" stop-color="#fffe00"/><stop offset="0.527" stop-color="#01fffe"/><stop offset="0.547" stop-color="#004cff"/><stop offset="0.593" stop-color="#000aff"/><stop offset="0.608" stop-color="#0000f3"/><stop offset="0.638" stop-color="#0000c7"/><stop offset="1.000" stop-color="#0000c7"/></linearGradient>
<linearGradient id="g317" x1="0" y1="176.50" x2="0" y2="209.40" gradientUnits="userSpaceOnUse"><stop offset="0.000" stop-color="#ff0400"/><stop offset="0.465" stop-color="#ff0000"/><stop offset="0.496" stop-color="#ffff00"/><stop offset="0.526" stop-color="#00ffff"/><stop offset="0.547" stop-color="#004dff"/><stop offset="0.593" stop-color="#000aff"/><stop offset="0.608" stop-color="#0000f3"/><stop offset="0.638" stop-color="#0000c7"/><stop offset="1.000" stop-color="#0000c7"/></linearGradient>
<linearGradient id="g318" x1="0" y1="191.20" x2="0" y2="196.60" gradientUnits="userSpaceOnUse"><stop offset="0.000" stop-color="#ff4c00"/><stop offset="0.355" stop-color="#ff4c00"/><stop offset="0.401" stop-color="#e5ff1a"/><stop offset="0.448" stop-color="#1affe5"/><stop offset="0.503" stop-color="#0061ff"/><stop offset="0.587" stop-color="#0000c7"/><stop offset="1.000" stop-color="#0000c7"/></linearGradient>
<linearGradient id="g319" x1="0" y1="218.60" x2="0" y2="250.90" gradientUnits="userSpaceOnUse"><stop offset="0.000" stop-color="#ff0500"/><stop offset="0.495" stop-color="#ff0500"/><stop offset="0.507" stop-color="#ff7f00"/><stop offset="0.517" stop-color="#feff01"/><stop offset="0.541" stop-color="#01fffe"/><stop offset="0.557" stop-color="#004dff"/><stop offset="0.604" stop-color="#0009ff"/><stop offset="0.619" stop-color="#0000f2"/><stop offset="0.650" stop-color="#0000c7"/><stop offset="1.000" stop-color="#0000c7"/></linearGradient>
<linearGradient id="g320" x1="0" y1="218.60" x2="0" y2="250.90" gradientUnits="userSpaceOnUse"><stop offset="0.000" stop-color="#ff0500"/><stop offset="0.480" stop-color="#ff0500"/><stop offset="0.493" stop-color="#ff0000"/><stop offset="0.505" stop-color="#ff8000"/><stop offset="0.515" stop-color="#fffe00"/><stop offset="0.527" stop-color="#7eff81"/><stop offset="0.539" stop-color="#00feff"/><stop offset="0.554" stop-color="#004eff"/><stop offset="0.604" stop-color="#0006ff"/><stop offset="0.650" stop-color="#0000c7"/><stop offset="1.000" stop-color="#0000c7"/></linearGradient>
<linearGradient id="g321" x1="0" y1="218.60" x2="0" y2="250.90" gradientUnits="userSpaceOnUse"><stop offset="0.000" stop-color="#ff0500"/><stop offset="0.489" stop-color="#ff0500"/><stop offset="0.501" stop-color="#ff7f00"/><stop offset="0.511" stop-color="#fffe00"/><stop offset="0.524" stop-color="#7fff80"/><stop offset="0.535" stop-color="#01fffe"/><stop offset="0.550" stop-color="#004eff"/><stop offset="0.604" stop-color="#0001ff"/><stop offset="0.635" stop-color="#0000d3"/><stop offset="0.650" stop-color="#0000c7"/><stop offset="1.000" stop-color="#0000c7"/></linearGradient>
<linearGradient id="g322" x1="0" y1="218.60" x2="0" y2="250.90" gradientUnits="userSpaceOnUse"><stop offset="0.000" stop-color="#ff0500"/><stop offset="0.485" stop-color="#ff0500"/><stop offset="0.498" stop-color="#ff7e00"/><stop offset="0.508" stop-color="#ffff00"/><stop offset="0.521" stop-color="#7fff80"/><stop offset="0.532" stop-color="#02fffd"/><stop offset="0.547" stop-color="#004eff"/><stop offset="0.588" stop-color="#0011ff"/><stop offset="0.604" stop-color="#0000fa"/><stop offset="0.635" stop-color="#0000ce"/><stop offset="0.650" stop-color="#0000c7"/><stop offset="1.000" stop-color="#0000c7"/></linearGradient>
<linearGradient id="g323" x1="0" y1="218.60" x2="0" y2="250.90" gradientUnits="userSpaceOnUse"><stop offset="0.000" stop-color="#ff0500"/><stop offset="0.481" stop-color="#ff0500"/><stop offset="0.494" stop-color="#ff7e00"/><stop offset="0.505" stop-color="#ffff00"/><stop offset="0.518" stop-color="#80ff7f"/><stop offset="0.528" stop-color="#01fffe"/><stop offset="0.543" stop-color="#004dff"/><stop offset="0.588" stop-color="#000cff"/><stop offset="0.604" stop-color="#0000f5"/><stop offset="0.635" stop-color="#0000c9"/><stop offset="0.650" stop-color="#0000c7"/><stop offset="1.000" stop-color="#0000c7"/></linearGradient>
<linearGradient id="g324" x1="0" y1="218.60" x2="0" y2="250.90" gradientUnits="userSpaceOnUse"><stop offset="0.000" stop-color="#ff0500"/><stop offset="0.478" stop-color="#ff0500"/><stop offset="0.480" stop-color="#ff1600"/><stop offset="0.490" stop-color="#ff7f00"/><stop offset="0.502" stop-color="#ffff00"/><stop offset="0.514" stop-color="#7fff80"/><stop offset="0.524" stop-color="#00ffff"/><stop offset="0.539" stop-color="#004dff"/><stop offset="0.588" stop-color="#0007ff"/><stop offset="0.604" stop-color="#0000f0"/><stop offset="0.635" stop-color="#0000c7"/><stop offset="1.000" stop-color="#0000c7"/></linearGradient>
<linearGradient id="g325" x1="0" y1="218.60" x2="0" y2="250.90" gradientUnits="userSpaceOnUse"><stop offset="0.000" stop-color="#ff0500"/><stop offset="0.474" stop-color="#ff0100"/><stop offset="0.498" stop-color="#feff01"/><stop offset="0.511" stop-color="#7dff82"/><stop offset="0.520" stop-color="#00feff"/><stop offset="0.536" stop-color="#004cff"/><stop offset="0.588" stop-color="#0001ff"/><stop offset="0.619" stop-color="#0000d4"/><stop offset="0.635" stop-color="#0000c7"/><stop offset="1.000" stop-color="#0000c7"/></linearGradient>
<linearGradient id="g326" x1="0" y1="218.60" x2="0" y2="250.90" gradientUnits="userSpaceOnUse"><stop offset="0.000" stop-color="#ff0500"/><stop offset="0.470" stop-color="#ff0400"/><stop offset="0.482" stop-color="#ff7f00"/><stop offset="0.494" stop-color="#ffff00"/><stop offset="0.507" stop-color="#81ff7e"/><stop offset="0.516" stop-color="#00ffff"/><stop offset="0.532" stop-color="#004eff"/><stop offset="0.588" stop-color="#0000fb"/><stop offset="0.619" stop-color="#0000cf"/><stop offset="0.635" stop-color="#0000c7"/><stop offset="1.000" stop-color="#0000c7"/></linearGradient>
<linearGradient id="g327" x1="0" y1="218.60" x2="0" y2="250.90" gradientUnits="userSpaceOnUse"><stop offset="0.000" stop-color="#ff0500"/><stop offset="0.466" stop-color="#ff0400"/><stop offset="0.491" stop-color="#ffff00"/><stop offset="0.503" stop-color="#80ff7f"/><stop offset="0.512" stop-color="#01fffe"/><stop offset="0.528" stop-color="#004cff"/><stop offset="0.573" stop-color="#000cff"/><stop offset="0.588" stop-color="#0000f5"/><stop offset="0.619" stop-color="#0000c9"/><stop offset="0.635" stop-color="#0000c7"/><stop offset="1.000" stop-color="#0000c7"/></linearGradient>
<linearGradient id="g328" x1="0" y1="218.60" x2="0" y2="250.90" gradientUnits="userSpaceOnUse"><stop offset="0.000" stop-color="#ff0500"/><stop offset="0.462" stop-color="#ff0100"/><stop offset="0.487" stop-color="#ffff00"/><stop offset="0.499" stop-color="#7eff81"/><stop offset="0.508" stop-color="#00feff"/><stop offset="0.524" stop-color="#004dff"/><stop offset="0.573" stop-color="#0007ff"/><stop offset="0.588" stop-color="#0000f0"/><stop offset="0.619" stop-color="#0000c7"/><stop offset="1.000" stop-color="#0000c7"/></linearGradient>
<linearGradient id="g329" x1="0" y1="218.60" x2="0" y2="250.90" gradientUnits="userSpaceOnUse"><stop offset="0.000" stop-color="#ff0500"/><stop offset="0.457" stop-color="#ff0400"/><stop offset="0.482" stop-color="#ffff00"/><stop offset="0.494" stop-color="#81ff7e"/><stop offset="0.503" stop-color="#01fffe"/><stop offset="0.519" stop-color="#004eff"/><stop offset="0.573" stop-color="#0000ff"/><stop offset="0.604" stop-color="#0000d3"/><stop offset="0.619" stop-color="#0000c7"/><stop offset="1.000" stop-color="#0000c7"/></linearGradient>
<linearGradient id="g330" x1="0" y1="218.60" x2="0" y2="250.90" gradientUnits="userSpaceOnUse"><stop offset="0.000" stop-color="#ff0500"/><stop offset="0.452" stop-color="#ff0100"/><stop offset="0.477" stop-color="#fdff02"/><stop offset="0.488" stop-color="#80ff7f"/><stop offset="0.495" stop-color="#26ffd9"/><stop offset="0.498" stop-color="#00feff"/><stop offset="0.515" stop-color="#004cff"/><stop offset="0.557" stop-color="#000fff"/><stop offset="0.573" stop-color="#0000f8"/><stop offset="0.604" stop-color="#0000cc"/><stop offset="0.619" stop-color="#0000c7"/><stop offset="1.000" stop-color="#0000c7"/></linearGradient>
<linearGradient id="g331" x1="0" y1="218.60" x2="0" y2="250.90" gradientUnits="userSpaceOnUse"><stop offset="0.000" stop-color="#ff0500"/><stop offset="0.446" stop-color="#ff0300"/><stop offset="0.472" stop-color="#fffe00"/><stop offset="0.493" stop-color="#02fffd"/><stop offset="0.510" stop-color="#004cff"/><stop offset="0.557" stop-color="#0008ff"/><stop offset="0.573" stop-color="#0000f1"/><stop offset="0.604" stop-color="#0000c7"/><stop offset="1.000" stop-color="#0000c7"/></linearGradient>
<linearGradient id="g332" x1="0" y1="218.60" x2="0" y2="250.90" gradientUnits="userSpaceOnUse"><stop offset="0.000" stop-color="#ff0500"/><stop offset="0.441" stop-color="#ff0100"/><stop offset="0.466" stop-color="#fffe00"/><stop offset="0.480" stop-color="#5affa5"/><stop offset="0.488" stop-color="#00feff"/><stop offset="0.505" stop-color="#004dff"/><stop offset="0.557" stop-color="#0001ff"/><stop offset="0.588" stop-color="#0000d4"/><stop offset="0.604" stop-color="#0000c7"/><stop offset="1.000" stop-color="#0000c7"/></linearGradient>
<linearGradient id="g333" x1="0" y1="218.60" x2="0" y2="250.90" gradientUnits="userSpaceOnUse"><stop offset="0.000" stop-color="#ff0500"/><stop offset="0.437" stop-color="#ff0300"/><stop offset="0.462" stop-color="#feff01"/><stop offset="0.471" stop-color="#7eff81"/><stop offset="0.483" stop-color="#01fffe"/><stop offset="0.500" stop-color="#004dff"/><stop offset="0.557" stop-color="#0000fa"/><stop offset="0.588" stop-color="#0000ce"/><stop offset="0.604" stop-color="#0000c7"/><stop offset="1.000" stop-color="#0000c7"/></linearGradient>
<linearGradient id="g334" x1="0" y1="218.60" x2="0" y2="250.90" gradientUnits="userSpaceOnUse"><stop offset="0.000" stop-color="#ff0500"/><stop offset="0.433" stop-color="#ff0000"/><stop offset="0.457" stop-color="#fffe00"/><stop offset="0.467" stop-color="#7fff80"/><stop offset="0.479" stop-color="#00ffff"/><stop offset="0.497" stop-color="#004dff"/><stop offset="0.542" stop-color="#000cff"/><stop offset="0.557" stop-color="#0000f5"/><stop offset="0.588" stop-color="#0000c9"/><stop offset="0.604" stop-color="#0000c7"/><stop offset="1.000" stop-color="#0000c7"/></linearGradient>
<linearGradient id="g335" x1="0" y1="218.60" x2="0" y2="250.90" gradientUnits="userSpaceOnUse"><stop offset="0.000" stop-color="#ff0500"/><stop offset="0.429" stop-color="#ff0100"/><stop offset="0.454" stop-color="#fdff02"/><stop offset="0.463" stop-color="#7fff80"/><stop offset="0.464" stop-color="#73ff8c"/><stop offset="0.476" stop-color="#00feff"/><stop offset="0.494" stop-color="#004dff"/><stop offset="0.542" stop-color="#0008ff"/><stop offset="0.557" stop-color="#0000f1"/><stop offset="0.588" stop-color="#0000c7"/><stop offset="1.000" stop-color="#0000c7"/></linearGradient>
<linearGradient id="g336" x1="0" y1="218.60" x2="0" y2="250.90" gradientUnits="userSpaceOnUse"><stop offset="0.000" stop-color="#ff0500"/><stop offset="0.427" stop-color="#ff0200"/><stop offset="0.452" stop-color="#ffff00"/><stop offset="0.461" stop-color="#80ff80"/><stop offset="0.474" stop-color="#00ffff"/><stop offset="0.492" stop-color="#004dff"/><stop offset="0.542" stop-color="#0006ff"/><stop offset="0.588" stop-color="#0000c7"/><stop offset="1.000" stop-color="#0000c7"/></linearGradient>
<linearGradient id="g337" x1="0" y1="218.60" x2="0" y2="250.90" gradientUnits="userSpaceOnUse"><stop offset="0.000" stop-color="#ff0500"/><stop offset="0.426" stop-color="#ff0100"/><stop offset="0.451" stop-color="#feff01"/><stop offset="0.460" stop-color="#80ff7f"/><stop offset="0.464" stop-color="#55ffaa"/><stop offset="0.472" stop-color="#00feff"/><stop offset="0.491" stop-color="#004dff"/><stop offset="0.542" stop-color="#0004ff"/><stop offset="0.588" stop-color="#0000c7"/><stop offset="1.000" stop-color="#0000c7"/></linearGradient>
<linearGradient id="g338" x1="0" y1="218.60" x2="0" y2="250.90" gradientUnits="userSpaceOnUse"><stop offset="0.000" stop-color="#ff0500"/><stop offset="0.425" stop-color="#ff0000"/><stop offset="0.450" stop-color="#ffff00"/><stop offset="0.459" stop-color="#81ff7e"/><stop offset="0.471" stop-color="#00ffff"/><stop offset="0.490" stop-color="#004eff"/><stop offset="0.542" stop-color="#0003ff"/><stop offset="0.588" stop-color="#0000c7"/><stop offset="1.000" stop-color="#0000c7"/></linearGradient>
<linearGradient id="g339" x1="0" y1="218.60" x2="0" y2="250.90" gradientUnits="userSpaceOnUse"><stop offset="0.000" stop-color="#ff0500"/><stop offset="0.424" stop-color="#ff0100"/><stop offset="0.448" stop-color="#fffe00"/><stop offset="0.470" stop-color="#01fffe"/><stop offset="0.490" stop-color="#004cff"/><stop offset="0.542" stop-color="#0002ff"/><stop offset="0.573" stop-color="#0000d5"/><stop offset="0.588" stop-color="#0000c7"/><stop offset="1.000" stop-color="#0000c7"/></linearGradient>
<linearGradient id="g340" x1="0" y1="218.60" x2="0" y2="250.90" gradientUnits="userSpaceOnUse"><stop offset="0.000" stop-color="#ff0500"/><stop offset="0.263" stop-color="#fa0000"/><stop offset="0.423" stop-color="#ff0000"/><stop offset="0.447" stop-color="#fffe00"/><stop offset="0.469" stop-color="#00ffff"/><stop offset="0.489" stop-color="#004cff"/><stop offset="0.542" stop-color="#0001ff"/><stop offset="0.573" stop-color="#0000d4"/><stop offset="0.588" stop-color="#0000c7"/><stop offset="1.000" stop-color="#0000c7"/></linearGradient>
<linearGradient id="g341" x1="0" y1="218.60" x2="0" y2="250.90" gradientUnits="userSpaceOnUse"><stop offset="0.000" stop-color="#ff0500"/><stop offset="0.279" stop-color="#f90000"/><stop offset="0.422" stop-color="#ff0000"/><stop offset="0.446" stop-color="#fffe00"/><stop offset="0.468" stop-color="#00ffff"/><stop offset="0.489" stop-color="#004cff"/><stop offset="0.542" stop-color="#0000ff"/><stop offset="0.573" stop-color="#0000d3"/><stop offset="0.588" stop-color="#0000c7"/><stop offset="1.000" stop-color="#0000c7"/></linearGradient>
<linearGradient id="g342" x1="0" y1="218.60" x2="0" y2="250.90" gradientUnits="userSpaceOnUse"><stop offset="0.000" stop-color="#ff0500"/><stop offset="0.294" stop-color="#f80000"/><stop offset="0.421" stop-color="#ff0100"/><stop offset="0.446" stop-color="#feff01"/><stop offset="0.457" stop-color="#81ff7e"/><stop offset="0.467" stop-color="#01fffe"/><stop offset="0.488" stop-color="#004dff"/><stop offset="0.542" stop-color="#0000ff"/><stop offset="0.573" stop-color="#0000d2"/><stop offset="0.588" stop-color="#0000c7"/><stop offset="1.000" stop-color="#0000c7"/></linearGradient>
<linearGradient id="g343" x1="0" y1="218.60" x2="0" y2="250.90" gradientUnits="userSpaceOnUse"><stop offset="0.000" stop-color="#ff0500"/><stop offset="0.263" stop-color="#f80000"/><stop offset="0.420" stop-color="#ff0000"/><stop offset="0.445" stop-color="#fffe00"/><stop offset="0.457" stop-color="#7fff80"/><stop offset="0.467" stop-color="#00ffff"/><stop offset="0.488" stop-color="#004cff"/><stop offset="0.542" stop-color="#0000fe"/><stop offset="0.573" stop-color="#0000d2"/><stop offset="0.588" stop-color="#0000c7"/><stop offset="1.000" stop-color="#0000c7"/></linearGradient>
<linearGradient id="g344" x1="0" y1="218.60" x2="0" y2="250.90" gradientUnits="userSpaceOnUse"><stop offset="0.000" stop-color="#ff0500"/><stop offset="0.139" stop-color="#ff0000"/><stop offset="0.263" stop-color="#f70000"/><stop offset="0.420" stop-color="#ff0000"/><stop offset="0.444" stop-color="#fffe00"/><stop offset="0.456" stop-color="#7eff81"/><stop offset="0.464" stop-color="#13ffec"/><stop offset="0.466" stop-color="#00feff"/><stop offset="0.487" stop-color="#004dff"/><stop offset="0.542" stop-color="#0000fd"/><stop offset="0.573" stop-color="#0000d1"/><stop offset="0.588" stop-color="#0000c7"/><stop offset="1.000" stop-color="#0000c7"/></linearGradient>
<linearGradient id="g345" x1="0" y1="218.60" x2="0" y2="250.90" gradientUnits="userSpaceOnUse"><stop offset="0.000" stop-color="#ff0500"/><stop offset="0.124" stop-color="#ff0000"/><stop offset="0.263" stop-color="#f50000"/><stop offset="0.419" stop-color="#ff0000"/><stop offset="0.443" stop-color="#ffff00"/><stop offset="0.456" stop-color="#7eff81"/><stop offset="0.464" stop-color="#07fff8"/><stop offset="0.465" stop-color="#00feff"/><stop offset="0.486" stop-color="#004dff"/><stop offset="0.542" stop-color="#0000fc"/><stop offset="0.573" stop-color="#0000d0"/><stop offset="0.588" stop-color="#0000c7"/><stop offset="1.000" stop-color="#0000c7"/></linearGradient>
<linearGradient id="g346" x1="0" y1="218.60" x2="0" y2="250.90" gradientUnits="userSpaceOnUse"><stop offset="0.000" stop-color="#ff0500"/><stop offset="0.124" stop-color="#ff0000"/><stop offset="0.263" stop-color="#f30000"/><stop offset="0.356" stop-color="#f50000"/><stop offset="0.418" stop-color="#ff0000"/><stop offset="0.443" stop-color="#fffe00"/><stop offset="0.455" stop-color="#80ff7f"/><stop offset="0.464" stop-color="#00ffff"/><stop offset="0.486" stop-color="#004dff"/><stop offset="0.542" stop-color="#0000fc"/><stop offset="0.573" stop-color="#0000d0"/><stop offset="0.588" stop-color="#0000c7"/><stop offset="1.000" stop-color="#0000c7"/></linearGradient>
<linearGradient id="g347" x1="0" y1="218.60" x2="0" y2="250.90" gradientUnits="userSpaceOnUse"><stop offset="0.000" stop-color="#ff0400"/><stop offset="0.108" stop-color="#ff0000"/><stop offset="0.279" stop-color="#ee0000"/><stop offset="0.341" stop-color="#f00000"/><stop offset="0.417" stop-color="#ff0000"/><stop offset="0.442" stop-color="#ffff00"/><stop offset="0.454" stop-color="#80ff7f"/><stop offset="0.464" stop-color="#00ffff"/><stop offset="0.486" stop-color="#004cff"/><stop offset="0.542" stop-color="#0000fb"/><stop offset="0.573" stop-color="#0000cf"/><stop offset="0.588" stop-color="#0000c7"/><stop offset="1.000" stop-color="#0000c7"/></linearGradient>
<linearGradient id="g348" x1="0" y1="218.60" x2="0" y2="250.90" gradientUnits="userSpaceOnUse"><stop offset="0.000" stop-color="#ff0400"/><stop offset="0.093" stop-color="#ff0000"/><stop offset="0.294" stop-color="#e90000"/><stop offset="0.356" stop-color="#ee0000"/><stop offset="0.417" stop-color="#ff0000"/><stop offset="0.441" stop-color="#ffff00"/><stop offset="0.454" stop-color="#80ff7f"/><stop offset="0.464" stop-color="#00feff"/><stop offset="0.485" stop-color="#004cff"/><stop offset="0.542" stop-color="#0000fb"/><stop offset="0.573" stop-color="#0000cf"/><stop offset="0.588" stop-color="#0000c7"/><stop offset="1.000" stop-color="#0000c7"/></linearGradient>
<linearGradient id="g349" x1="0" y1="218.60" x2="0" y2="250.90" gradientUnits="userSpaceOnUse"><stop offset="0.000" stop-color="#ff0400"/><stop offset="0.093" stop-color="#fe0000"/><stop offset="0.294" stop-color="#e40000"/><stop offset="0.356" stop-color="#ea0000"/><stop offset="0.416" stop-color="#ff0000"/><stop offset="0.441" stop-color="#ffff00"/><stop offset="0.453" stop-color="#80ff7f"/><stop offset="0.463" stop-color="#00feff"/><stop offset="0.485" stop-color="#004cff"/><stop offset="0.542" stop-color="#0000fb"/><stop offset="0.573" stop-color="#0000ce"/><stop offset="0.588" stop-color="#0000c7"/><stop offset="1.000" stop-color="#0000c7"/></linearGradient>
<linearGradient id="g350" x1="0" y1="218.60" x2="0" y2="250.90" gradientUnits="userSpaceOnUse"><stop offset="0.000" stop-color="#ff0400"/><stop offset="0.077" stop-color="#ff0000"/><stop offset="0.279" stop-color="#e00000"/><stop offset="0.341" stop-color="#e30000"/><stop offset="0.415" stop-color="#ff0000"/><stop offset="0.440" stop-color="#ffff00"/><stop offset="0.453" stop-color="#7eff81"/><stop offset="0.463" stop-color="#00ffff"/><stop offset="0.485" stop-color="#004cff"/><stop offset="0.542" stop-color="#0000fa"/><stop offset="0.573" stop-color="#0000ce"/><stop offset="0.588" stop-color="#0000c7"/><stop offset="1.000" stop-color="#0000c7"/></linearGradient>
<linearGradient id="g351" x1="0" y1="218.60" x2="0" y2="250.90" gradientUnits="userSpaceOnUse"><stop offset="0.000" stop-color="#ff0400"/><stop offset="0.077" stop-color="#fe0000"/><stop offset="0.279" stop-color="#dc0000"/><stop offset="0.341" stop-color="#e00000"/><stop offset="0.415" stop-color="#ff0000"/><stop offset="0.440" stop-color="#fffd00"/><stop offset="0.452" stop-color="#7fff80"/><stop offset="0.463" stop-color="#00ffff"/><stop offset="0.485" stop-color="#004dff"/><stop offset="0.542" stop-color="#0000fa"/><stop offset="0.573" stop-color="#0000ce"/><stop offset="0.588" stop-color="#0000c7"/><stop offset="1.000" stop-color="#0000c7"/></linearGradient>
<linearGradient id="g352" x1="0" y1="218.60" x2="0" y2="250.90" gradientUnits="userSpaceOnUse"><stop offset="0.000" stop-color="#ff0400"/><stop offset="0.093" stop-color="#fc0000"/><stop offset="0.279" stop-color="#d80000"/><stop offset="0.341" stop-color="#dc0000"/><stop offset="0.415" stop-color="#ff0100"/><stop offset="0.439" stop-color="#feff01"/><stop offset="0.452" stop-color="#80ff7f"/><stop offset="0.463" stop-color="#00ffff"/><stop offset="0.484" stop-color="#004dff"/><stop offset="0.526" stop-color="#0010ff"/><stop offset="0.542" stop-color="#0000f9"/><stop offset="0.573" stop-color="#0000cd"/><stop offset="0.588" stop-color="#0000c7"/><stop offset="1.000" stop-color="#0000c7"/></linearGradient>
<linearGradient id="g353" x1="0" y1="218.60" x2="0" y2="250.90" gradientUnits="userSpaceOnUse"><stop offset="0.000" stop-color="#ff0400"/><stop offset="0.108" stop-color="#f90000"/><stop offset="0.232" stop-color="#dc0000"/><stop offset="0.294" stop-color="#d60000"/><stop offset="0.356" stop-color="#e00000"/><stop offset="0.414" stop-color="#ff0100"/><stop offset="0.439" stop-color="#feff01"/><stop offset="0.451" stop-color="#80ff7f"/><stop offset="0.462" stop-color="#00ffff"/><stop offset="0.484" stop-color="#004dff"/><stop offset="0.526" stop-color="#0010ff"/><stop offset="0.542" stop-color="#0000f9"/><stop offset="0.573" stop-color="#0000cd"/><stop offset="0.588" stop-color="#0000c7"/><stop offset="1.000" stop-color="#0000c7"/></linearGradient>
<linearGradient id="g354" x1="0" y1="218.60" x2="0" y2="250.90" gradientUnits="userSpaceOnUse"><stop offset="0.000" stop-color="#ff0400"/><stop offset="0.093" stop-color="#fc0000"/><stop offset="0.279" stop-color="#d80000"/><stop offset="0.341" stop-color="#dc0000"/><stop offset="0.413" stop-color="#ff0100"/><stop offset="0.438" stop-color="#feff01"/><stop offset="0.450" stop-color="#80ff7f"/><stop offset="0.462" stop-color="#00ffff"/><stop offset="0.484" stop-color="#004dff"/><stop offset="0.526" stop-color="#0010ff"/><stop offset="0.542" stop-color="#0000f9"/><stop offset="0.573" stop-color="#0000cc"/><stop offset="0.588" stop-color="#0000c7"/><stop offset="1.000" stop-color="#0000c7"/></linearGradient>
<linearGradient id="g355" x1="0" y1="218.60" x2="0" y2="250.90" gradientUnits="userSpaceOnUse"><stop offset="0.000" stop-color="#ff0400"/><stop offset="0.077" stop-color="#ff0000"/><stop offset="0.279" stop-color="#df0000"/><stop offset="0.341" stop-color="#e20000"/><stop offset="0.413" stop-color="#ff0000"/><stop offset="0.437" stop-color="#ffff00"/><stop offset="0.462" stop-color="#01fffe"/><stop offset="0.483" stop-color="#004dff"/><stop offset="0.526" stop-color="#000fff"/><stop offset="0.542" stop-color="#0000f8"/><stop offset="0.573" stop-color="#0000cc"/><stop offset="0.588" stop-color="#0000c7"/><stop offset="1.000" stop-color="#0000c7"/></linearGradient>
<linearGradient id="g356" x1="0" y1="218.60" x2="0" y2="250.90" gradientUnits="userSpaceOnUse"><stop offset="0.000" stop-color="#ff0400"/><stop offset="0.108" stop-color="#fd0000"/><stop offset="0.279" stop-color="#e60000"/><stop offset="0.341" stop-color="#e90000"/><stop offset="0.412" stop-color="#ff0000"/><stop offset="0.437" stop-color="#ffff00"/><stop offset="0.462" stop-color="#00ffff"/><stop offset="0.483" stop-color="#004cff"/><stop offset="0.526" stop-color="#000fff"/><stop offset="0.542" stop-color="#0000f8"/><stop offset="0.573" stop-color="#0000cc"/><stop offset="0.588" stop-color="#0000c7"/><stop offset="1.000" stop-color="#0000c7"/></linearGradient>
<linearGradient id="g357" x1="0" y1="218.60" x2="0" y2="250.90" gradientUnits="userSpaceOnUse"><stop offset="0.000" stop-color="#ff0400"/><stop offset="0.093" stop-color="#ff0100"/><stop offset="0.279" stop-color="#ed0000"/><stop offset="0.341" stop-color="#ef0000"/><stop offset="0.412" stop-color="#ff0000"/><stop offset="0.437" stop-color="#ffff00"/><stop offset="0.461" stop-color="#02fffd"/><stop offset="0.483" stop-color="#004cff"/><stop offset="0.526" stop-color="#000fff"/><stop offset="0.542" stop-color="#0000f8"/><stop offset="0.573" stop-color="#0000cc"/><stop offset="0.588" stop-color="#0000c7"/><stop offset="1.000" stop-color="#0000c7"/></linearGradient>
<linearGradient id="g358" x1="0" y1="218.60" x2="0" y2="250.90" gradientUnits="userSpaceOnUse"><stop offset="0.000" stop-color="#ff0500"/><stop offset="0.124" stop-color="#ff0000"/><stop offset="0.263" stop-color="#f40000"/><stop offset="0.341" stop-color="#f50000"/><stop offset="0.412" stop-color="#ff0100"/><stop offset="0.437" stop-color="#feff01"/><stop offset="0.461" stop-color="#01fffe"/><stop offset="0.483" stop-color="#004dff"/><stop offset="0.526" stop-color="#000fff"/><stop offset="0.542" stop-color="#0000f8"/><stop offset="0.573" stop-color="#0000cb"/><stop offset="0.588" stop-color="#0000c7"/><stop offset="1.000" stop-color="#0000c7"/></linearGradient>
<linearGradient id="g359" x1="0" y1="218.60" x2="0" y2="250.90" gradientUnits="userSpaceOnUse"><stop offset="0.000" stop-color="#ff0500"/><stop offset="0.412" stop-color="#ff0000"/><stop offset="0.437" stop-color="#ffff00"/><stop offset="0.461" stop-color="#00ffff"/><stop offset="0.483" stop-color="#004dff"/><stop offset="0.526" stop-color="#000fff"/><stop offset="0.542" stop-color="#0000f8"/><stop offset="0.573" stop-color="#0000cb"/><stop offset="0.588" stop-color="#0000c7"/><stop offset="1.000" stop-color="#0000c7"/></linearGradient>
<linearGradient id="g360" x1="0" y1="233.90" x2="0" y2="238.50" gradientUnits="userSpaceOnUse"><stop offset="0.000" stop-color="#ff9e00"/><stop offset="0.344" stop-color="#ff9e00"/><stop offset="0.398" stop-color="#e5ff1a"/><stop offset="0.453" stop-color="#1affe5"/><stop offset="0.518" stop-color="#0061ff"/><stop offset="0.616" stop-color="#0000c7"/><stop offset="1.000" stop-color="#0000c7"/></linearGradient>
<linearGradient id="cb" x1="0" y1="0" x2="0" y2="1"><stop offset="0.000" stop-color="#800000"/><stop offset="0.125" stop-color="#ff0000"/><stop offset="0.375" stop-color="#ffff00"/><stop offset="0.625" stop-color="#00ffff"/><stop offset="0.875" stop-color="#0000ff"/><stop offset="1.000" stop-color="#000080"/></linearGradient>
</defs>
<g>
<rect x="77.30" y="6.50" width="0.75" height="31.30" fill="url(#g1)"/>
<rect x="78.00" y="6.50" width="1.05" height="31.30" fill="url(#g2)"/>
<rect x="79.00" y="6.50" width="1.05" height="31.30" fill="url(#g3)"/>
<rect x="80.00" y="6.50" width="1.05" height="31.30" fill="url(#g4)"/>
<rect x="81.00" y="6.50" width="1.05" height="31.30" fill="url(#g5)"/>
<rect x="82.00" y="6.50" width="1.05" height="31.30" fill="url(#g6)"/>
<rect x="83.00" y="6.50" width="1.05" height="31.30" fill="url(#g7)"/>
<rect x="84.00" y="6.50" width="1.05" height="31.30" fill="url(#g8)"/>
<rect x="85.00" y="6.50" width="1.05" height="31.30" fill="url(#g9)"/>
<rect x="86.00" y="6.50" width="1.05" height="31.30" fill="url(#g10)"/>
<rect x="87.00" y="6.50" width="1.05" height="31.30" fill="url(#g11)"/>
<rect x="88.00" y="6.50" width="1.05" height="31.30" fill="url(#g12)"/>
<rect x="89.00" y="6.50" width="1.05" height="31.30" fill="url(#g13)"/>
<rect x="90.00" y="6.50" width="1.05" height="31.30" fill="url(#g14)"/>
<rect x="91.00" y="6.50" width="1.05" height="31.30" fill="url(#g15)"/>
<rect x="92.00" y="6.50" width="1.05" height="31.30" fill="url(#g16)"/>
<rect x="93.00" y="6.50" width="1.05" height="31.30" fill="url(#g17)"/>
<rect x="94.00" y="6.50" width="1.05" height="31.30" fill="url(#g18)"/>
<rect x="95.00" y="6.50" width="1.05" height="31.30" fill="url(#g19)"/>
<rect x="96.00" y="6.50" width="1.05" height="31.30" fill="url(#g20)"/>
<rect x="97.00" y="6.50" width="1.05" height="31.30" fill="url(#g21)"/>
<rect x="98.00" y="6.50" width="1.05" height="31.30" fill="url(#g22)"/>
<rect x="99.00" y="6.50" width="1.05" height="31.30" fill="url(#g23)"/>
<rect x="100.00" y="6.50" width="1.05" height="31.30" fill="url(#g24)"/>
<rect x="101.00" y="6.50" width="1.05" height="31.30" fill="url(#g25)"/>
<rect x="102.00" y="6.50" width="1.05" height="31.30" fill="url(#g26)"/>
<rect x="103.00" y="6.50" width="1.05" height="31.30" fill="url(#g27)"/>
<rect x="104.00" y="6.50" width="1.05" height="31.30" fill="url(#g28)"/>
<rect x="105.00" y="6.50" width="1.05" height="31.30" fill="url(#g29)"/>
<rect x="106.00" y="6.50" width="1.05" height="31.30" fill="url(#g30)"/>
<rect x="107.00" y="6.50" width="1.05" height="31.30" fill="url(#g31)"/>
<rect x="108.00" y="6.50" width="1.05" height="31.30" fill="url(#g32)"/>
<rect x="109.00" y="6.50" width="1.05" height="31.30" fill="url(#g33)"/>
<rect x="110.00" y="6.50" width="1.05" height="31.30" fill="url(#g34)"/>
<rect x="111.00" y="6.50" width="1.05" height="31.30" fill="url(#g35)"/>
<rect x="112.00" y="6.50" width="1.05" height="31.30" fill="url(#g36)"/>
<rect x="113.00" y="6.50" width="1.05" height="31.30" fill="url(#g37)"/>
<rect x="114.00" y="6.50" width="1.05" height="31.30" fill="url(#g38)"/>
<rect x="115.00" y="6.50" width="1.05" height="31.30" fill="url(#g39)"/>
<rect x="116.00" y="6.50" width="1.05" height="31.30" fill="url(#g40)"/>
<rect x="117.00" y="6.50" width="2.05" height="31.30" fill="url(#g41)"/>
<rect x="119.00" y="6.50" width="1.05" height="31.30" fill="url(#g42)"/>
<rect x="120.00" y="6.50" width="2.05" height="31.30" fill="url(#g43)"/>
<rect x="122.00" y="6.50" width="1.05" height="31.30" fill="url(#g44)"/>
<rect x="123.00" y="6.50" width="1.05" height="31.30" fill="url(#g45)"/>
<rect x="124.00" y="6.50" width="1.05" height="31.30" fill="url(#g46)"/>
<rect x="125.00" y="6.50" width="1.05" height="31.30" fill="url(#g47)"/>
<rect x="126.00" y="6.50" width="1.05" height="31.30" fill="url(#g48)"/>
<rect x="127.00" y="6.50" width="1.05" height="31.30" fill="url(#g49)"/>
<rect x="128.00" y="6.50" width="1.05" height="31.30" fill="url(#g50)"/>
<rect x="129.00" y="6.50" width="1.05" height="31.30" fill="url(#g51)"/>
<rect x="130.00" y="6.50" width="1.05" height="31.30" fill="url(#g52)"/>
<rect x="131.00" y="6.50" width="1.05" height="31.30" fill="url(#g53)"/>
<rect x="132.00" y="6.50" width="2.05" height="31.30" fill="url(#g54)"/>
<rect x="134.00" y="6.50" width="1.05" height="31.30" fill="url(#g55)"/>
<rect x="135.00" y="6.50" width="2.05" height="31.30" fill="url(#g56)"/>
<rect x="137.00" y="6.50" width="1.05" height="31.30" fill="url(#g57)"/>
<rect x="138.00" y="6.50" width="1.05" height="31.30" fill="url(#g58)"/>
<rect x="139.00" y="6.50" width="3.05" height="31.30" fill="url(#g59)"/>
<rect x="142.00" y="6.50" width="1.05" height="31.30" fill="url(#g60)"/>
<rect x="143.00" y="6.50" width="2.05" height="31.30" fill="url(#g61)"/>
<rect x="145.00" y="6.50" width="1.05" height="31.30" fill="url(#g62)"/>
<rect x="146.00" y="6.50" width="4.05" height="31.30" fill="url(#g63)"/>
<rect x="150.00" y="6.50" width="13.05" height="31.30" fill="url(#g64)"/>
<rect x="163.00" y="6.50" width="13.05" height="31.30" fill="url(#g65)"/>
<rect x="176.00" y="6.50" width="9.05" height="31.30" fill="url(#g66)"/>
<rect x="38.10" y="6.50" width="4.70" height="16.65" fill="#ff2400"/>
<rect x="38.10" y="23.15" width="4.70" height="14.65" fill="#000fff"/>
<rect x="38.10" y="22.00" width="39.50" height="4.60" fill="url(#g67)"/>
<rect x="77.80" y="49.70" width="0.25" height="31.40" fill="url(#g68)"/>
<rect x="78.00" y="49.70" width="1.05" height="31.40" fill="url(#g69)"/>
<rect x="79.00" y="49.70" width="1.05" height="31.40" fill="url(#g70)"/>
<rect x="80.00" y="49.70" width="1.05" height="31.40" fill="url(#g71)"/>
<rect x="81.00" y="49.70" width="1.05" height="31.40" fill="url(#g72)"/>
<rect x="82.00" y="49.70" width="1.05" height="31.40" fill="url(#g73)"/>
<rect x="83.00" y="49.70" width="1.05" height="31.40" fill="url(#g74)"/>
<rect x="84.00" y="49.70" width="1.05" height="31.40" fill="url(#g75)"/>
<rect x="85.00" y="49.70" width="1.05" height="31.40" fill="url(#g76)"/>
<rect x="86.00" y="49.70" width="1.05" height="31.40" fill="url(#g77)"/>
<rect x="87.00" y="49.70" width="2.05" height="31.40" fill="url(#g78)"/>
<rect x="89.00" y="49.70" width="2.05" height="31.40" fill="url(#g79)"/>
<rect x="91.00" y="49.70" width="1.05" height="31.40" fill="url(#g80)"/>
<rect x="92.00" y="49.70" width="1.05" height="31.40" fill="url(#g81)"/>
<rect x="93.00" y="49.70" width="1.05" height="31.40" fill="url(#g82)"/>
<rect x="94.00" y="49.70" width="1.05" height="31.40" fill="url(#g83)"/>
<rect x="95.00" y="49.70" width="2.05" height="31.40" fill="url(#g84)"/>
<rect x="97.00" y="49.70" width="2.05" height="31.40" fill="url(#g85)"/>
<rect x="99.00" y="49.70" width="2.05" height="31.40" fill="url(#g86)"/>
<rect x="101.00" y="49.70" width="1.05" height="31.40" fill="url(#g87)"/>
<rect x="102.00" y="49.70" width="1.05" height="31.40" fill="url(#g88)"/>
<rect x="103.00" y="49.70" width="2.05" height="31.40" fill="url(#g89)"/>
<rect x="105.00" y="49.70" width="2.05" height="31.40" fill="url(#g90)"/>
<rect x="107.00" y="49.70" width="3.05" height="31.40" fill="url(#g91)"/>
<rect x="110.00" y="49.70" width="3.05" height="31.40" fill="url(#g92)"/>
<rect x="113.00" y="49.70" width="4.05" height="31.40" fill="url(#g93)"/>
<rect x="117.00" y="49.70" width="4.05" height="31.40" fill="url(#g94)"/>
<rect x="121.00" y="49.70" width="4.05" height="31.40" fill="url(#g95)"/>
<rect x="125.00" y="49.70" width="5.05" height="31.40" fill="url(#g96)"/>
<rect x="130.00" y="49.70" width="4.05" height="31.40" fill="url(#g97)"/>
<rect x="134.00" y="49.70" width="4.05" height="31.40" fill="url(#g98)"/>
<rect x="138.00" y="49.70" width="4.05" height="31.40" fill="url(#g99)"/>
<rect x="142.00" y="49.70" width="4.05" height="31.40" fill="url(#g100)"/>
<rect x="146.00" y="49.70" width="5.05" height="31.40" fill="url(#g101)"/>
<rect x="151.00" y="49.70" width="10.05" height="31.40" fill="url(#g102)"/>
<rect x="161.00" y="49.70" width="10.05" height="31.40" fill="url(#g103)"/>
<rect x="171.00" y="49.70" width="8.05" height="31.40" fill="url(#g104)"/>
<rect x="179.00" y="49.70" width="6.35" height="31.40" fill="url(#g105)"/>
<rect x="38.80" y="49.70" width="5.00" height="16.36" fill="#ff0f00"/>
<rect x="38.80" y="66.06" width="5.00" height="15.04" fill="#0000e6"/>
<rect x="38.80" y="64.00" width="39.30" height="4.90" fill="url(#g106)"/>
<rect x="78.40" y="91.90" width="0.65" height="32.70" fill="url(#g107)"/>
<rect x="79.00" y="91.90" width="1.05" height="32.70" fill="url(#g108)"/>
<rect x="80.00" y="91.90" width="1.05" height="32.70" fill="url(#g109)"/>
<rect x="81.00" y="91.90" width="1.05" height="32.70" fill="url(#g110)"/>
<rect x="82.00" y="91.90" width="1.05" height="32.70" fill="url(#g111)"/>
<rect x="83.00" y="91.90" width="1.05" height="32.70" fill="url(#g112)"/>
<rect x="84.00" y="91.90" width="1.05" height="32.70" fill="url(#g113)"/>
<rect x="85.00" y="91.90" width="1.05" height="32.70" fill="url(#g114)"/>
<rect x="86.00" y="91.90" width="1.05" height="32.70" fill="url(#g115)"/>
<rect x="87.00" y="91.90" width="2.05" height="32.70" fill="url(#g116)"/>
<rect x="89.00" y="91.90" width="1.05" height="32.70" fill="url(#g117)"/>
<rect x="90.00" y="91.90" width="1.05" height="32.70" fill="url(#g118)"/>
<rect x="91.00" y="91.90" width="1.05" height="32.70" fill="url(#g119)"/>
<rect x="92.00" y="91.90" width="1.05" height="32.70" fill="url(#g120)"/>
<rect x="93.00" y="91.90" width="1.05" height="32.70" fill="url(#g121)"/>
<rect x="94.00" y="91.90" width="1.05" height="32.70" fill="url(#g122)"/>
<rect x="95.00" y="91.90" width="1.05" height="32.70" fill="url(#g123)"/>
<rect x="96.00" y="91.90" width="1.05" height="32.70" fill="url(#g124)"/>
<rect x="97.00" y="91.90" width="1.05" height="32.70" fill="url(#g125)"/>
<rect x="98.00" y="91.90" width="1.05" height="32.70" fill="url(#g126)"/>
<rect x="99.00" y="91.90" width="1.05" height="32.70" fill="url(#g127)"/>
<rect x="100.00" y="91.90" width="1.05" height="32.70" fill="url(#g128)"/>
<rect x="101.00" y="91.90" width="1.05" height="32.70" fill="url(#g129)"/>
<rect x="102.00" y="91.90" width="1.05" height="32.70" fill="url(#g130)"/>
<rect x="103.00" y="91.90" width="1.05" height="32.70" fill="url(#g131)"/>
<rect x="104.00" y="91.90" width="1.05" height="32.70" fill="url(#g132)"/>
<rect x="105.00" y="91.90" width="3.05" height="32.70" fill="url(#g133)"/>
<rect x="108.00" y="91.90" width="1.05" height="32.70" fill="url(#g134)"/>
<rect x="109.00" y="91.90" width="1.05" height="32.70" fill="url(#g135)"/>
<rect x="110.00" y="91.90" width="1.05" height="32.70" fill="url(#g136)"/>
<rect x="111.00" y="91.90" width="1.05" height="32.70" fill="url(#g137)"/>
<rect x="112.00" y="91.90" width="1.05" height="32.70" fill="url(#g138)"/>
<rect x="113.00" y="91.90" width="1.05" height="32.70" fill="url(#g139)"/>
<rect x="114.00" y="91.90" width="1.05" height="32.70" fill="url(#g140)"/>
<rect x="115.00" y="91.90" width="1.05" height="32.70" fill="url(#g141)"/>
<rect x="116.00" y="91.90" width="1.05" height="32.70" fill="url(#g142)"/>
<rect x="117.00" y="91.90" width="1.05" height="32.70" fill="url(#g143)"/>
<rect x="118.00" y="91.90" width="1.05" height="32.70" fill="url(#g144)"/>
<rect x="119.00" y="91.90" width="1.05" height="32.70" fill="url(#g145)"/>
<rect x="120.00" y="91.90" width="1.05" height="32.70" fill="url(#g146)"/>
<rect x="121.00" y="91.90" width="1.05" height="32.70" fill="url(#g147)"/>
<rect x="122.00" y="91.90" width="1.05" height="32.70" fill="url(#g148)"/>
<rect x="123.00" y="91.90" width="1.05" height="32.70" fill="url(#g149)"/>
<rect x="124.00" y="91.90" width="1.05" height="32.70" fill="url(#g150)"/>
<rect x="125.00" y="91.90" width="3.05" height="32.70" fill="url(#g151)"/>
<rect x="128.00" y="91.90" width="1.05" height="32.70" fill="url(#g152)"/>
<rect x="129.00" y="91.90" width="3.05" height="32.70" fill="url(#g153)"/>
<rect x="132.00" y="91.90" width="1.05" height="32.70" fill="url(#g154)"/>
<rect x="133.00" y="91.90" width="2.05" height="32.70" fill="url(#g155)"/>
<rect x="135.00" y="91.90" width="1.05" height="32.70" fill="url(#g156)"/>
<rect x="136.00" y="91.90" width="2.05" height="32.70" fill="url(#g157)"/>
<rect x="138.00" y="91.90" width="1.05" height="32.70" fill="url(#g158)"/>
<rect x="139.00" y="91.90" width="1.05" height="32.70" fill="url(#g159)"/>
<rect x="140.00" y="91.90" width="1.05" height="32.70" fill="url(#g160)"/>
<rect x="141.00" y="91.90" width="1.05" height="32.70" fill="url(#g161)"/>
<rect x="142.00" y="91.90" width="1.05" height="32.70" fill="url(#g162)"/>
<rect x="143.00" y="91.90" width="2.05" height="32.70" fill="url(#g163)"/>
<rect x="145.00" y="91.90" width="1.05" height="32.70" fill="url(#g164)"/>
<rect x="146.00" y="91.90" width="2.05" height="32.70" fill="url(#g165)"/>
<rect x="148.00" y="91.90" width="3.05" height="32.70" fill="url(#g166)"/>
<rect x="151.00" y="91.90" width="4.05" height="32.70" fill="url(#g167)"/>
<rect x="155.00" y="91.90" width="2.05" height="32.70" fill="url(#g168)"/>
<rect x="157.00" y="91.90" width="4.05" height="32.70" fill="url(#g169)"/>
<rect x="161.00" y="91.90" width="2.05" height="32.70" fill="url(#g170)"/>
<rect x="163.00" y="91.90" width="1.05" height="32.70" fill="url(#g171)"/>
<rect x="164.00" y="91.90" width="2.05" height="32.70" fill="url(#g172)"/>
<rect x="166.00" y="91.90" width="1.05" height="32.70" fill="url(#g173)"/>
<rect x="167.00" y="91.90" width="1.05" height="32.70" fill="url(#g174)"/>
<rect x="168.00" y="91.90" width="1.05" height="32.70" fill="url(#g175)"/>
<rect x="169.00" y="91.90" width="1.05" height="32.70" fill="url(#g176)"/>
<rect x="170.00" y="91.90" width="1.05" height="32.70" fill="url(#g177)"/>
<rect x="171.00" y="91.90" width="1.05" height="32.70" fill="url(#g178)"/>
<rect x="172.00" y="91.90" width="2.05" height="32.70" fill="url(#g179)"/>
<rect x="174.00" y="91.90" width="1.05" height="32.70" fill="url(#g180)"/>
<rect x="175.00" y="91.90" width="2.05" height="32.70" fill="url(#g181)"/>
<rect x="177.00" y="91.90" width="2.05" height="32.70" fill="url(#g182)"/>
<rect x="179.00" y="91.90" width="2.05" height="32.70" fill="url(#g183)"/>
<rect x="181.00" y="91.90" width="2.05" height="32.70" fill="url(#g184)"/>
<rect x="183.00" y="91.90" width="2.05" height="32.70" fill="url(#g185)"/>
<rect x="185.00" y="91.90" width="0.55" height="32.70" fill="url(#g186)"/>
<rect x="39.70" y="91.90" width="4.20" height="17.24" fill="#ff2e00"/>
<rect x="39.70" y="109.14" width="4.20" height="15.46" fill="#0000c7"/>
<rect x="39.70" y="106.20" width="39.00" height="4.90" fill="url(#g187)"/>
<rect x="77.90" y="133.70" width="0.15" height="32.50" fill="url(#g188)"/>
<rect x="78.00" y="133.70" width="1.05" height="32.50" fill="url(#g189)"/>
<rect x="79.00" y="133.70" width="1.05" height="32.50" fill="url(#g190)"/>
<rect x="80.00" y="133.70" width="1.05" height="32.50" fill="url(#g191)"/>
<rect x="81.00" y="133.70" width="1.05" height="32.50" fill="url(#g192)"/>
<rect x="82.00" y="133.70" width="1.05" height="32.50" fill="url(#g193)"/>
<rect x="83.00" y="133.70" width="1.05" height="32.50" fill="url(#g194)"/>
<rect x="84.00" y="133.70" width="1.05" height="32.50" fill="url(#g195)"/>
<rect x="85.00" y="133.70" width="1.05" height="32.50" fill="url(#g196)"/>
<rect x="86.00" y="133.70" width="1.05" height="32.50" fill="url(#g197)"/>
<rect x="87.00" y="133.70" width="1.05" height="32.50" fill="url(#g198)"/>
<rect x="88.00" y="133.70" width="1.05" height="32.50" fill="url(#g199)"/>
<rect x="89.00" y="133.70" width="1.05" height="32.50" fill="url(#g200)"/>
<rect x="90.00" y="133.70" width="1.05" height="32.50" fill="url(#g201)"/>
<rect x="91.00" y="133.70" width="1.05" height="32.50" fill="url(#g202)"/>
<rect x="92.00" y="133.70" width="1.05" height="32.50" fill="url(#g203)"/>
<rect x="93.00" y="133.70" width="1.05" height="32.50" fill="url(#g204)"/>
<rect x="94.00" y="133.70" width="2.05" height="32.50" fill="url(#g205)"/>
<rect x="96.00" y="133.70" width="2.05" height="32.50" fill="url(#g206)"/>
<rect x="98.00" y="133.70" width="3.05" height="32.50" fill="url(#g207)"/>
<rect x="101.00" y="133.70" width="3.05" height="32.50" fill="url(#g208)"/>
<rect x="104.00" y="133.70" width="2.05" height="32.50" fill="url(#g209)"/>
<rect x="106.00" y="133.70" width="1.05" height="32.50" fill="url(#g210)"/>
<rect x="107.00" y="133.70" width="2.05" height="32.50" fill="url(#g211)"/>
<rect x="109.00" y="133.70" width="2.05" height="32.50" fill="url(#g212)"/>
<rect x="111.00" y="133.70" width="2.05" height="32.50" fill="url(#g213)"/>
<rect x="113.00" y="133.70" width="1.05" height="32.50" fill="url(#g214)"/>
<rect x="114.00" y="133.70" width="2.05" height="32.50" fill="url(#g215)"/>
<rect x="116.00" y="133.70" width="2.05" height="32.50" fill="url(#g216)"/>
<rect x="118.00" y="133.70" width="2.05" height="32.50" fill="url(#g217)"/>
<rect x="120.00" y="133.70" width="2.05" height="32.50" fill="url(#g218)"/>
<rect x="122.00" y="133.70" width="2.05" height="32.50" fill="url(#g219)"/>
<rect x="124.00" y="133.70" width="2.05" height="32.50" fill="url(#g220)"/>
<rect x="126.00" y="133.70" width="1.05" height="32.50" fill="url(#g221)"/>
<rect x="127.00" y="133.70" width="2.05" height="32.50" fill="url(#g222)"/>
<rect x="129.00" y="133.70" width="2.05" height="32.50" fill="url(#g223)"/>
<rect x="131.00" y="133.70" width="1.05" height="32.50" fill="url(#g224)"/>
<rect x="132.00" y="133.70" width="2.05" height="32.50" fill="url(#g225)"/>
<rect x="134.00" y="133.70" width="2.05" height="32.50" fill="url(#g226)"/>
<rect x="136.00" y="133.70" width="2.05" height="32.50" fill="url(#g227)"/>
<rect x="138.00" y="133.70" width="1.05" height="32.50" fill="url(#g228)"/>
<rect x="139.00" y="133.70" width="1.05" height="32.50" fill="url(#g229)"/>
<rect x="140.00" y="133.70" width="2.05" height="32.50" fill="url(#g230)"/>
<rect x="142.00" y="133.70" width="3.05" height="32.50" fill="url(#g231)"/>
<rect x="145.00" y="133.70" width="2.05" height="32.50" fill="url(#g232)"/>
<rect x="147.00" y="133.70" width="2.05" height="32.50" fill="url(#g233)"/>
<rect x="149.00" y="133.70" width="2.05" height="32.50" fill="url(#g234)"/>
<rect x="151.00" y="133.70" width="1.05" height="32.50" fill="url(#g235)"/>
<rect x="152.00" y="133.70" width="2.05" height="32.50" fill="url(#g236)"/>
<rect x="154.00" y="133.70" width="2.05" height="32.50" fill="url(#g237)"/>
<rect x="156.00" y="133.70" width="1.05" height="32.50" fill="url(#g238)"/>
<rect x="157.00" y="133.70" width="1.05" height="32.50" fill="url(#g239)"/>
<rect x="158.00" y="133.70" width="2.05" height="32.50" fill="url(#g240)"/>
<rect x="160.00" y="133.70" width="1.05" height="32.50" fill="url(#g241)"/>
<rect x="161.00" y="133.70" width="1.05" height="32.50" fill="url(#g242)"/>
<rect x="162.00" y="133.70" width="1.05" height="32.50" fill="url(#g243)"/>
<rect x="163.00" y="133.70" width="2.05" height="32.50" fill="url(#g244)"/>
<rect x="165.00" y="133.70" width="1.05" height="32.50" fill="url(#g245)"/>
<rect x="166.00" y="133.70" width="1.05" height="32.50" fill="url(#g246)"/>
<rect x="167.00" y="133.70" width="1.05" height="32.50" fill="url(#g247)"/>
<rect x="168.00" y="133.70" width="1.05" height="32.50" fill="url(#g248)"/>
<rect x="169.00" y="133.70" width="1.05" height="32.50" fill="url(#g249)"/>
<rect x="170.00" y="133.70" width="1.05" height="32.50" fill="url(#g250)"/>
<rect x="171.00" y="133.70" width="1.05" height="32.50" fill="url(#g251)"/>
<rect x="172.00" y="133.70" width="1.05" height="32.50" fill="url(#g252)"/>
<rect x="173.00" y="133.70" width="2.05" height="32.50" fill="url(#g253)"/>
<rect x="175.00" y="133.70" width="1.05" height="32.50" fill="url(#g254)"/>
<rect x="176.00" y="133.70" width="1.05" height="32.50" fill="url(#g255)"/>
<rect x="177.00" y="133.70" width="1.05" height="32.50" fill="url(#g256)"/>
<rect x="178.00" y="133.70" width="2.05" height="32.50" fill="url(#g257)"/>
<rect x="180.00" y="133.70" width="1.05" height="32.50" fill="url(#g258)"/>
<rect x="181.00" y="133.70" width="2.05" height="32.50" fill="url(#g259)"/>
<rect x="183.00" y="133.70" width="2.35" height="32.50" fill="url(#g260)"/>
<rect x="38.90" y="133.70" width="4.70" height="17.28" fill="#ff2e00"/>
<rect x="38.90" y="150.97" width="4.70" height="15.22" fill="#0000c7"/>
<rect x="38.90" y="148.50" width="39.30" height="5.50" fill="url(#g261)"/>
<rect x="78.60" y="176.50" width="0.45" height="32.90" fill="url(#g262)"/>
<rect x="79.00" y="176.50" width="1.05" height="32.90" fill="url(#g263)"/>
<rect x="80.00" y="176.50" width="1.05" height="32.90" fill="url(#g264)"/>
<rect x="81.00" y="176.50" width="1.05" height="32.90" fill="url(#g265)"/>
<rect x="82.00" y="176.50" width="1.05" height="32.90" fill="url(#g266)"/>
<rect x="83.00" y="176.50" width="1.05" height="32.90" fill="url(#g267)"/>
<rect x="84.00" y="176.50" width="1.05" height="32.90" fill="url(#g268)"/>
<rect x="85.00" y="176.50" width="1.05" height="32.90" fill="url(#g269)"/>
<rect x="86.00" y="176.50" width="1.05" height="32.90" fill="url(#g270)"/>
<rect x="87.00" y="176.50" width="1.05" height="32.90" fill="url(#g271)"/>
<rect x="88.00" y="176.50" width="1.05" height="32.90" fill="url(#g272)"/>
<rect x="89.00" y="176.50" width="1.05" height="32.90" fill="url(#g273)"/>
<rect x="90.00" y="176.50" width="1.05" height="32.90" fill="url(#g274)"/>
<rect x="91.00" y="176.50" width="1.05" height="32.90" fill="url(#g275)"/>
<rect x="92.00" y="176.50" width="1.05" height="32.90" fill="url(#g276)"/>
<rect x="93.00" y="176.50" width="1.05" height="32.90" fill="url(#g277)"/>
<rect x="94.00" y="176.50" width="1.05" height="32.90" fill="url(#g278)"/>
<rect x="95.00" y="176.50" width="1.05" height="32.90" fill="url(#g279)"/>
<rect x="96.00" y="176.50" width="2.05" height="32.90" fill="url(#g280)"/>
<rect x="98.00" y="176.50" width="5.05" height="32.90" fill="url(#g281)"/>
<rect x="103.00" y="176.50" width="2.05" height="32.90" fill="url(#g282)"/>
<rect x="105.00" y="176.50" width="2.05" height="32.90" fill="url(#g283)"/>
<rect x="107.00" y="176.50" width="1.05" height="32.90" fill="url(#g284)"/>
<rect x="108.00" y="176.50" width="1.05" height="32.90" fill="url(#g285)"/>
<rect x="109.00" y="176.50" width="1.05" height="32.90" fill="url(#g286)"/>
<rect x="110.00" y="176.50" width="1.05" height="32.90" fill="url(#g287)"/>
<rect x="111.00" y="176.50" width="2.05" height="32.90" fill="url(#g288)"/>
<rect x="113.00" y="176.50" width="2.05" height="32.90" fill="url(#g289)"/>
<rect x="115.00" y="176.50" width="2.05" height="32.90" fill="url(#g290)"/>
<rect x="117.00" y="176.50" width="2.05" height="32.90" fill="url(#g291)"/>
<rect x="119.00" y="176.50" width="2.05" height="32.90" fill="url(#g292)"/>
<rect x="121.00" y="176.50" width="2.05" height="32.90" fill="url(#g293)"/>
<rect x="123.00" y="176.50" width="2.05" height="32.90" fill="url(#g294)"/>
<rect x="125.00" y="176.50" width="2.05" height="32.90" fill="url(#g295)"/>
<rect x="127.00" y="176.50" width="2.05" height="32.90" fill="url(#g296)"/>
<rect x="129.00" y="176.50" width="2.05" height="32.90" fill="url(#g297)"/>
<rect x="131.00" y="176.50" width="2.05" height="32.90" fill="url(#g298)"/>
<rect x="133.00" y="176.50" width="2.05" height="32.90" fill="url(#g299)"/>
<rect x="135.00" y="176.50" width="2.05" height="32.90" fill="url(#g300)"/>
<rect x="137.00" y="176.50" width="2.05" height="32.90" fill="url(#g301)"/>
<rect x="139.00" y="176.50" width="2.05" height="32.90" fill="url(#g302)"/>
<rect x="141.00" y="176.50" width="2.05" height="32.90" fill="url(#g303)"/>
<rect x="143.00" y="176.50" width="2.05" height="32.90" fill="url(#g304)"/>
<rect x="145.00" y="176.50" width="3.05" height="32.90" fill="url(#g305)"/>
<rect x="148.00" y="176.50" width="3.05" height="32.90" fill="url(#g306)"/>
<rect x="151.00" y="176.50" width="3.05" height="32.90" fill="url(#g307)"/>
<rect x="154.00" y="176.50" width="3.05" height="32.90" fill="url(#g308)"/>
<rect x="157.00" y="176.50" width="3.05" height="32.90" fill="url(#g309)"/>
<rect x="160.00" y="176.50" width="3.05" height="32.90" fill="url(#g310)"/>
<rect x="163.00" y="176.50" width="3.05" height="32.90" fill="url(#g311)"/>
<rect x="166.00" y="176.50" width="3.05" height="32.90" fill="url(#g312)"/>
<rect x="169.00" y="176.50" width="3.05" height="32.90" fill="url(#g313)"/>
<rect x="172.00" y="176.50" width="3.05" height="32.90" fill="url(#g314)"/>
<rect x="175.00" y="176.50" width="4.05" height="32.90" fill="url(#g315)"/>
<rect x="179.00" y="176.50" width="4.05" height="32.90" fill="url(#g316)"/>
<rect x="183.00" y="176.50" width="2.35" height="32.90" fill="url(#g317)"/>
<rect x="38.30" y="176.50" width="5.70" height="16.97" fill="#ff0f00"/>
<rect x="38.30" y="193.47" width="5.70" height="15.93" fill="#0000c7"/>
<rect x="38.30" y="191.20" width="40.60" height="5.40" fill="url(#g318)"/>
<rect x="77.70" y="218.60" width="0.35" height="32.30" fill="url(#g319)"/>
<rect x="78.00" y="218.60" width="1.05" height="32.30" fill="url(#g320)"/>
<rect x="79.00" y="218.60" width="1.05" height="32.30" fill="url(#g321)"/>
<rect x="80.00" y="218.60" width="1.05" height="32.30" fill="url(#g322)"/>
<rect x="81.00" y="218.60" width="1.05" height="32.30" fill="url(#g323)"/>
<rect x="82.00" y="218.60" width="1.05" height="32.30" fill="url(#g324)"/>
<rect x="83.00" y="218.60" width="1.05" height="32.30" fill="url(#g325)"/>
<rect x="84.00" y="218.60" width="1.05" height="32.30" fill="url(#g326)"/>
<rect x="85.00" y="218.60" width="1.05" height="32.30" fill="url(#g327)"/>
<rect x="86.00" y="218.60" width="1.05" height="32.30" fill="url(#g328)"/>
<rect x="87.00" y="218.60" width="1.05" height="32.30" fill="url(#g329)"/>
<rect x="88.00" y="218.60" width="1.05" height="32.30" fill="url(#g330)"/>
<rect x="89.00" y="218.60" width="1.05" height="32.30" fill="url(#g331)"/>
<rect x="90.00" y="218.60" width="1.05" height="32.30" fill="url(#g332)"/>
<rect x="91.00" y="218.60" width="1.05" height="32.30" fill="url(#g333)"/>
<rect x="92.00" y="218.60" width="1.05" height="32.30" fill="url(#g334)"/>
<rect x="93.00" y="218.60" width="1.05" height="32.30" fill="url(#g335)"/>
<rect x="94.00" y="218.60" width="1.05" height="32.30" fill="url(#g336)"/>
<rect x="95.00" y="218.60" width="1.05" height="32.30" fill="url(#g337)"/>
<rect x="96.00" y="218.60" width="1.05" height="32.30" fill="url(#g338)"/>
<rect x="97.00" y="218.60" width="1.05" height="32.30" fill="url(#g339)"/>
<rect x="98.00" y="218.60" width="1.05" height="32.30" fill="url(#g340)"/>
<rect x="99.00" y="218.60" width="1.05" height="32.30" fill="url(#g341)"/>
<rect x="100.00" y="218.60" width="1.05" height="32.30" fill="url(#g342)"/>
<rect x="101.00" y="218.60" width="1.05" height="32.30" fill="url(#g343)"/>
<rect x="102.00" y="218.60" width="2.05" height="32.30" fill="url(#g344)"/>
<rect x="104.00" y="218.60" width="2.05" height="32.30" fill="url(#g345)"/>
<rect x="106.00" y="218.60" width="4.05" height="32.30" fill="url(#g346)"/>
<rect x="110.00" y="218.60" width="4.05" height="32.30" fill="url(#g347)"/>
<rect x="114.00" y="218.60" width="4.05" height="32.30" fill="url(#g348)"/>
<rect x="118.00" y="218.60" width="4.05" height="32.30" fill="url(#g349)"/>
<rect x="122.00" y="218.60" width="4.05" height="32.30" fill="url(#g350)"/>
<rect x="126.00" y="218.60" width="5.05" height="32.30" fill="url(#g351)"/>
<rect x="131.00" y="218.60" width="6.05" height="32.30" fill="url(#g352)"/>
<rect x="137.00" y="218.60" width="7.05" height="32.30" fill="url(#g353)"/>
<rect x="144.00" y="218.60" width="8.05" height="32.30" fill="url(#g354)"/>
<rect x="152.00" y="218.60" width="6.05" height="32.30" fill="url(#g355)"/>
<rect x="158.00" y="218.60" width="6.05" height="32.30" fill="url(#g356)"/>
<rect x="164.00" y="218.60" width="6.05" height="32.30" fill="url(#g357)"/>
<rect x="170.00" y="218.60" width="8.05" height="32.30" fill="url(#g358)"/>
<rect x="178.00" y="218.60" width="7.35" height="32.30" fill="url(#g359)"/>
<rect x="38.50" y="218.60" width="5.10" height="17.23" fill="#ff2400"/>
<rect x="38.50" y="235.83" width="5.10" height="15.07" fill="#0000c7"/>
<rect x="38.50" y="233.90" width="39.50" height="4.60" fill="url(#g360)"/>
</g>
<rect x="38.10" y="6.00" width="4.70" height="1" fill="#9fe8f4"/>
<rect x="77.30" y="6.00" width="107.70" height="1" fill="#9fe8f4"/>
<rect x="43.00" y="49.70" width="1" height="14.30" fill="#4ff0f0" opacity="0.85"/>
<rect x="77.00" y="49.70" width="1" height="14.30" fill="#4ff0f0" opacity="0.85"/>
<rect x="43.80" y="64.00" width="34.00" height="1" fill="#4ff0f0" opacity="0.85"/>
<rect x="40.00" y="91.90" width="1" height="14.30" fill="#4ff0f0" opacity="0.85"/>
<rect x="78.00" y="91.90" width="1" height="14.30" fill="#4ff0f0" opacity="0.85"/>
<rect x="43.90" y="106.00" width="34.50" height="1" fill="#4ff0f0" opacity="0.85"/>
<rect x="43.60" y="148.00" width="34.30" height="1" fill="#4ff0f0" opacity="0.85"/>
<rect x="77.90" y="133.70" width="107.40" height="0.8" fill="#b00000" opacity="0.8"/>
<rect x="38.00" y="176.50" width="1" height="14.70" fill="#4ff0f0" opacity="0.85"/>
<rect x="43.00" y="176.50" width="1" height="14.70" fill="#4ff0f0" opacity="0.85"/>
<rect x="44.00" y="191.00" width="34.60" height="1" fill="#4ff0f0" opacity="0.85"/>
<rect x="77.00" y="218.60" width="1" height="15.30" fill="#4ff0f0" opacity="0.85"/>
<rect x="193.40" y="14.60" width="12.00" height="231.70" fill="url(#cb)" stroke="#666" stroke-width="0.6"/>
<text x="208.6" y="248.80" class="cbl">0</text>
<line x1="203.90" y1="223.13" x2="205.40" y2="223.13" stroke="#333" stroke-width="0.6"/>
<text x="208.6" y="225.63" class="cbl">0.1</text>
<line x1="203.90" y1="199.96" x2="205.40" y2="199.96" stroke="#333" stroke-width="0.6"/>
<text x="208.6" y="202.46" class="cbl">0.2</text>
<line x1="203.90" y1="176.79" x2="205.40" y2="176.79" stroke="#333" stroke-width="0.6"/>
<text x="208.6" y="179.29" class="cbl">0.3</text>
<line x1="203.90" y1="153.62" x2="205.40" y2="153.62" stroke="#333" stroke-width="0.6"/>
<text x="208.6" y="156.12" class="cbl">0.4</text>
<line x1="203.90" y1="130.45" x2="205.40" y2="130.45" stroke="#333" stroke-width="0.6"/>
<text x="208.6" y="132.95" class="cbl">0.5</text>
<line x1="203.90" y1="107.28" x2="205.40" y2="107.28" stroke="#333" stroke-width="0.6"/>
<text x="208.6" y="109.78" class="cbl">0.6</text>
<line x1="203.90" y1="84.11" x2="205.40" y2="84.11" stroke="#333" stroke-width="0.6"/>
<text x="208.6" y="86.61" class="cbl">0.7</text>
<line x1="203.90" y1="60.94" x2="205.40" y2="60.94" stroke="#333" stroke-width="0.6"/>
<text x="208.6" y="63.44" class="cbl">0.8</text>
<line x1="203.90" y1="37.77" x2="205.40" y2="37.77" stroke="#333" stroke-width="0.6"/>
<text x="208.6" y="40.27" class="cbl">0.9</text>
<text x="208.6" y="17.10" class="cbl">1</text>
<text x="19.00" y="17.00" class="fl" text-anchor="middle">Flow rate</text>
<text x="22.00" y="30.80" class="fl" text-anchor="middle">10ul/h</text>
<text x="20.80" y="71.20" class="fl" text-anchor="middle">50ul/h</text>
<text x="21.80" y="108.90" class="fl" text-anchor="middle">100ul/</text>
<text x="20.75" y="118.50" class="fl" text-anchor="middle">h</text>
<text x="21.60" y="151.20" class="fl" text-anchor="middle">200ul/</text>
<text x="20.75" y="160.40" class="fl" text-anchor="middle">h</text>
<text x="21.60" y="193.60" class="fl" text-anchor="middle">500ul/</text>
<text x="20.75" y="203.20" class="fl" text-anchor="middle">h</text>
<text x="17.45" y="241.70" class="fl" text-anchor="middle">1000ul/h</text>
<rect x="274.20" y="7.50" width="261.40" height="210.50" fill="none" stroke="#333" stroke-width="1"/>
<line x1="274.20" y1="218.00" x2="274.20" y2="222.30" stroke="#333" stroke-width="1"/>
<text x="274.20" y="233.30" class="tk" text-anchor="middle">1000</text>
<line x1="300.34" y1="218.00" x2="300.34" y2="220.40" stroke="#333" stroke-width="1"/>
<line x1="326.48" y1="218.00" x2="326.48" y2="222.30" stroke="#333" stroke-width="1"/>
<text x="326.48" y="233.30" class="tk" text-anchor="middle">1200</text>
<line x1="352.62" y1="218.00" x2="352.62" y2="220.40" stroke="#333" stroke-width="1"/>
<line x1="378.76" y1="218.00" x2="378.76" y2="222.30" stroke="#333" stroke-width="1"/>
<text x="378.76" y="233.30" class="tk" text-anchor="middle">1400</text>
<line x1="404.90" y1="218.00" x2="404.90" y2="220.40" stroke="#333" stroke-width="1"/>
<line x1="431.04" y1="218.00" x2="431.04" y2="222.30" stroke="#333" stroke-width="1"/>
<text x="431.04" y="233.30" class="tk" text-anchor="middle">1600</text>
<line x1="457.18" y1="218.00" x2="457.18" y2="220.40" stroke="#333" stroke-width="1"/>
<line x1="483.32" y1="218.00" x2="483.32" y2="222.30" stroke="#333" stroke-width="1"/>
<text x="483.32" y="233.30" class="tk" text-anchor="middle">1800</text>
<line x1="509.46" y1="218.00" x2="509.46" y2="220.40" stroke="#333" stroke-width="1"/>
<line x1="535.60" y1="218.00" x2="535.60" y2="222.30" stroke="#333" stroke-width="1"/>
<text x="535.60" y="233.30" class="tk" text-anchor="middle">2000</text>
<line x1="269.90" y1="218.00" x2="274.20" y2="218.00" stroke="#333" stroke-width="1"/>
<text x="266.3" y="221.40" class="tk" text-anchor="end">0.0</text>
<line x1="271.80" y1="196.95" x2="274.20" y2="196.95" stroke="#333" stroke-width="1"/>
<line x1="269.90" y1="175.90" x2="274.20" y2="175.90" stroke="#333" stroke-width="1"/>
<text x="266.3" y="179.30" class="tk" text-anchor="end">0.2</text>
<line x1="271.80" y1="154.85" x2="274.20" y2="154.85" stroke="#333" stroke-width="1"/>
<line x1="269.90" y1="133.80" x2="274.20" y2="133.80" stroke="#333" stroke-width="1"/>
<text x="266.3" y="137.20" class="tk" text-anchor="end">0.4</text>
<line x1="271.80" y1="112.75" x2="274.20" y2="112.75" stroke="#333" stroke-width="1"/>
<line x1="269.90" y1="91.70" x2="274.20" y2="91.70" stroke="#333" stroke-width="1"/>
<text x="266.3" y="95.10" class="tk" text-anchor="end">0.6</text>
<line x1="271.80" y1="70.65" x2="274.20" y2="70.65" stroke="#333" stroke-width="1"/>
<line x1="269.90" y1="49.60" x2="274.20" y2="49.60" stroke="#333" stroke-width="1"/>
<text x="266.3" y="53.00" class="tk" text-anchor="end">0.8</text>
<line x1="271.80" y1="28.55" x2="274.20" y2="28.55" stroke="#333" stroke-width="1"/>
<line x1="269.90" y1="7.50" x2="274.20" y2="7.50" stroke="#333" stroke-width="1"/>
<text x="266.3" y="10.90" class="tk" text-anchor="end">1.0</text>
<polyline points="274.50,119.10 276.19,119.24 278.54,119.43 281.31,119.66 284.30,119.90 287.27,120.12 290.00,120.30 292.41,120.45 294.67,120.60 296.91,120.72 299.28,120.83 301.93,120.89 305.00,120.90 308.62,120.86 312.70,120.78 317.06,120.66 321.52,120.50 325.89,120.31 330.00,120.10 333.97,119.85 337.96,119.55 341.88,119.22 345.59,118.88 349.00,118.54 352.00,118.20 354.47,117.87 356.48,117.53 358.19,117.18 359.74,116.84 361.29,116.51 363.00,116.20 364.74,115.88 366.37,115.53 368.00,115.19 369.74,114.90 371.70,114.69 374.00,114.60 376.69,114.66 379.70,114.85 382.94,115.12 386.30,115.44 389.68,115.74 393.00,116.00 396.37,116.23 399.89,116.49 403.44,116.73 406.89,116.95 410.12,117.11 413.00,117.20 415.45,117.20 417.56,117.12 419.44,116.99 421.22,116.83 423.03,116.66 425.00,116.50 427.18,116.35 429.48,116.19 431.81,116.01 434.07,115.84 436.17,115.66 438.00,115.50 439.53,115.36 440.81,115.23 441.94,115.11 442.96,114.97 443.96,114.81 445.00,114.60 446.05,114.33 447.04,114.00 448.00,113.64 448.96,113.28 449.95,112.96 451.00,112.70 452.05,112.52 453.07,112.39 454.12,112.29 455.26,112.20 456.53,112.11 458.00,112.00 459.75,111.85 461.76,111.69 463.90,111.52 466.07,111.36 468.14,111.21 470.00,111.10 471.57,111.03 472.93,111.00 474.19,110.98 475.48,110.97 476.91,110.95 478.60,110.90 480.59,110.83 482.79,110.75 485.13,110.66 487.54,110.55 489.96,110.43 492.30,110.30 494.58,110.15 496.87,110.00 499.16,109.83 501.44,109.64 503.72,109.44 506.00,109.20 508.33,108.93 510.74,108.62 513.14,108.29 515.47,107.96 517.65,107.62 519.60,107.30 521.28,106.98 522.75,106.66 524.07,106.34 525.30,106.04 526.52,105.75 527.80,105.50 529.20,105.28 530.69,105.07 532.16,104.89 533.52,104.73 534.67,104.60 535.50,104.50" fill="none" stroke="#1a1a1a" stroke-width="1.3" stroke-linejoin="round"/>
<polyline points="274.50,146.80 277.88,146.99 282.61,147.27 288.19,147.60 294.11,147.91 299.88,148.17 305.00,148.30 309.54,148.30 313.93,148.21 318.16,148.06 322.24,147.87 326.19,147.67 330.00,147.50 333.58,147.37 336.89,147.26 340.06,147.15 343.22,147.00 346.49,146.80 350.00,146.50 353.83,146.04 357.89,145.43 362.06,144.76 366.22,144.12 370.24,143.60 374.00,143.30 377.46,143.25 380.70,143.38 383.81,143.64 386.85,143.95 389.89,144.26 393.00,144.50 396.06,144.70 399.00,144.91 401.94,145.11 405.00,145.29 408.31,145.43 412.00,145.50 416.26,145.51 421.04,145.48 426.06,145.40 431.07,145.28 435.81,145.11 440.00,144.90 443.58,144.61 446.74,144.25 449.62,143.84 452.37,143.42 455.12,143.03 458.00,142.70 460.99,142.44 463.98,142.22 466.97,142.02 469.96,141.85 472.97,141.68 476.00,141.50 479.06,141.33 482.14,141.17 485.24,141.01 488.34,140.86 491.43,140.69 494.50,140.50 497.64,140.29 500.86,140.08 504.08,139.85 507.19,139.61 510.09,139.36 512.70,139.10 514.93,138.82 516.84,138.53 518.54,138.23 520.16,137.91 521.81,137.60 523.60,137.30 525.66,136.98 527.93,136.63 530.23,136.29 532.38,135.97 534.19,135.70 535.50,135.50" fill="none" stroke="#ff2a2a" stroke-width="1.3" stroke-linejoin="round"/>
<polyline points="274.50,166.50 277.88,166.68 282.61,166.93 288.19,167.22 294.11,167.53 299.88,167.80 305.00,168.00 309.54,168.15 313.93,168.27 318.16,168.36 322.24,168.42 326.19,168.43 330.00,168.40 333.58,168.34 336.89,168.25 340.06,168.12 343.22,167.93 346.49,167.66 350.00,167.30 353.83,166.76 357.89,166.03 362.06,165.23 366.22,164.46 370.24,163.81 374.00,163.40 377.46,163.26 380.70,163.32 383.81,163.51 386.85,163.77 389.89,164.02 393.00,164.20 396.06,164.34 399.00,164.49 401.94,164.64 405.00,164.77 408.31,164.86 412.00,164.90 416.26,164.89 421.04,164.84 426.06,164.76 431.07,164.64 435.81,164.49 440.00,164.30 443.58,164.05 446.74,163.75 449.62,163.41 452.37,163.05 455.12,162.71 458.00,162.40 460.99,162.12 463.98,161.85 466.97,161.59 469.96,161.34 472.97,161.11 476.00,160.90 479.06,160.73 482.14,160.59 485.24,160.47 488.34,160.34 491.43,160.20 494.50,160.00 497.64,159.76 500.86,159.50 504.08,159.21 507.19,158.90 510.09,158.56 512.70,158.20 514.93,157.79 516.84,157.34 518.54,156.86 520.16,156.37 521.81,155.91 523.60,155.50 525.66,155.12 527.93,154.74 530.23,154.38 532.38,154.06 534.19,153.80 535.50,153.60" fill="none" stroke="#10e010" stroke-width="1.3" stroke-linejoin="round"/>
<polyline points="274.50,176.60 278.06,176.78 283.17,177.03 289.12,177.33 295.22,177.63 300.75,177.90 305.00,178.10 307.80,178.25 309.67,178.36 310.97,178.45 312.06,178.50 313.28,178.52 315.00,178.50 317.15,178.43 319.44,178.31 321.88,178.15 324.44,177.97 327.15,177.78 330.00,177.60 333.00,177.44 336.15,177.29 339.44,177.13 342.85,176.94 346.38,176.71 350.00,176.40 353.83,175.96 357.89,175.38 362.06,174.76 366.22,174.16 370.24,173.68 374.00,173.40 377.46,173.35 380.70,173.48 383.81,173.73 386.85,174.02 389.89,174.30 393.00,174.50 396.15,174.63 399.27,174.75 402.40,174.86 405.55,174.95 408.74,175.03 412.00,175.10 415.38,175.18 418.87,175.27 422.40,175.35 425.91,175.40 429.33,175.39 432.60,175.30 435.71,175.12 438.73,174.86 441.65,174.54 444.50,174.20 447.28,173.84 450.00,173.50 452.64,173.16 455.18,172.80 457.65,172.43 460.09,172.07 462.53,171.72 465.00,171.40 467.47,171.11 469.90,170.83 472.33,170.57 474.80,170.33 477.34,170.11 480.00,169.90 482.83,169.72 485.83,169.57 488.89,169.44 491.95,169.31 494.92,169.17 497.70,169.00 500.31,168.80 502.82,168.60 505.23,168.38 507.56,168.14 509.81,167.89 512.00,167.60 514.09,167.28 516.06,166.93 517.95,166.55 519.81,166.16 521.68,165.78 523.60,165.40 525.70,165.01 527.99,164.59 530.28,164.16 532.40,163.77 534.20,163.44 535.50,163.20" fill="none" stroke="#2020ff" stroke-width="1.3" stroke-linejoin="round"/>
<polyline points="274.50,179.00 278.06,179.17 283.17,179.40 289.12,179.68 295.22,179.96 300.75,180.22 305.00,180.41 307.80,180.54 309.67,180.66 310.97,180.74 312.06,180.79 313.28,180.80 315.00,180.78 317.15,180.70 319.44,180.57 321.88,180.40 324.44,180.22 327.15,180.02 330.00,179.83 333.00,179.66 336.15,179.50 339.44,179.33 342.85,179.13 346.38,178.89 350.00,178.57 353.83,178.11 357.89,177.53 362.06,176.89 366.22,176.28 370.24,175.79 374.00,175.50 377.46,175.44 380.70,175.56 383.81,175.79 386.85,176.07 389.89,176.34 393.00,176.54 396.15,176.66 399.27,176.77 402.40,176.86 405.55,176.95 408.74,177.02 412.00,177.08 415.38,177.15 418.87,177.23 422.40,177.30 425.91,177.33 429.33,177.31 432.60,177.22 435.71,177.03 438.73,176.76 441.65,176.43 444.50,176.08 447.28,175.71 450.00,175.36 452.64,175.01 455.18,174.65 457.65,174.27 460.09,173.90 462.53,173.54 465.00,173.22 467.47,172.92 469.90,172.63 472.33,172.37 474.80,172.12 477.34,171.89 480.00,171.67 482.83,171.48 485.83,171.33 488.89,171.19 491.95,171.05 494.92,170.90 497.70,170.72 500.31,170.51 502.82,170.30 505.23,170.07 507.56,169.83 509.81,169.56 512.00,169.27 514.09,168.95 516.06,168.59 517.95,168.20 519.81,167.81 521.68,167.42 523.60,167.04 525.70,166.64 527.99,166.21 530.28,165.78 532.40,165.38 534.20,165.04 535.50,164.80" fill="none" stroke="#10e8f8" stroke-width="1.3" stroke-linejoin="round"/>
<polyline points="274.50,181.40 278.06,181.54 283.17,181.74 289.12,181.97 295.22,182.21 300.75,182.43 305.00,182.60 307.80,182.74 309.67,182.87 310.97,182.97 312.06,183.06 313.28,183.10 315.00,183.10 317.15,183.05 319.44,182.95 321.88,182.81 324.44,182.65 327.15,182.48 330.00,182.30 333.00,182.13 336.15,181.97 339.44,181.79 342.85,181.58 346.38,181.32 350.00,181.00 353.83,180.55 357.89,179.99 362.06,179.37 366.22,178.78 370.24,178.30 374.00,178.00 377.46,177.92 380.70,178.00 383.81,178.19 386.85,178.42 389.89,178.65 393.00,178.80 396.15,178.90 399.27,178.99 402.40,179.07 405.55,179.13 408.74,179.18 412.00,179.20 415.38,179.21 418.87,179.20 422.40,179.18 425.91,179.12 429.33,179.03 432.60,178.90 435.71,178.71 438.73,178.47 441.65,178.19 444.50,177.90 447.28,177.59 450.00,177.30 452.64,177.01 455.18,176.72 457.65,176.42 460.09,176.11 462.53,175.81 465.00,175.50 467.47,175.18 469.90,174.84 472.33,174.50 474.80,174.17 477.34,173.87 480.00,173.60 482.83,173.39 485.83,173.24 488.89,173.11 491.95,172.98 494.92,172.82 497.70,172.60 500.31,172.32 502.82,172.00 505.23,171.65 507.56,171.28 509.81,170.89 512.00,170.50 514.09,170.09 516.06,169.65 517.95,169.19 519.81,168.74 521.68,168.30 523.60,167.90 525.70,167.51 527.99,167.11 530.28,166.74 532.40,166.40 534.20,166.11 535.50,165.90" fill="none" stroke="#ff30ff" stroke-width="1.3" stroke-linejoin="round"/>
<line x1="282.3" y1="24.60" x2="303.0" y2="24.60" stroke="#1a1a1a" stroke-width="1.4"/>
<text x="305.4" y="27.50" class="lg"><tspan font-style="italic">Q</tspan><tspan class="sub" dy="3.6">0</tspan><tspan dy="-3.6"> = 10 μL/hr, Re = 0.002</tspan></text>
<line x1="282.3" y1="38.50" x2="303.0" y2="38.50" stroke="#ff2a2a" stroke-width="1.4"/>
<text x="305.4" y="41.40" class="lg"><tspan font-style="italic">Q</tspan><tspan class="sub" dy="3.6">0</tspan><tspan dy="-3.6"> = 50 μL/hr, Re = 0.01</tspan></text>
<line x1="282.3" y1="52.30" x2="303.0" y2="52.30" stroke="#10e010" stroke-width="1.4"/>
<text x="305.4" y="55.20" class="lg"><tspan font-style="italic">Q</tspan><tspan class="sub" dy="3.6">0</tspan><tspan dy="-3.6"> = 100 μL/hr, Re = 0.02</tspan></text>
<line x1="282.3" y1="66.20" x2="303.0" y2="66.20" stroke="#2020ff" stroke-width="1.4"/>
<text x="305.4" y="69.10" class="lg"><tspan font-style="italic">Q</tspan><tspan class="sub" dy="3.6">0</tspan><tspan dy="-3.6"> = 200 μL/hr, Re = 0.04</tspan></text>
<line x1="282.3" y1="80.00" x2="303.0" y2="80.00" stroke="#10e8f8" stroke-width="1.4"/>
<text x="305.4" y="82.90" class="lg"><tspan font-style="italic">Q</tspan><tspan class="sub" dy="3.6">0</tspan><tspan dy="-3.6"> = 500 μL/hr, Re = 0.1</tspan></text>
<line x1="282.3" y1="93.90" x2="303.0" y2="93.90" stroke="#ff30ff" stroke-width="1.4"/>
<text x="305.4" y="96.80" class="lg"><tspan font-style="italic">Q</tspan><tspan class="sub" dy="3.6">0</tspan><tspan dy="-3.6"> = 1000 μL/hr, Re = 0.2</tspan></text>
<text x="404.7" y="252.3" class="ax" text-anchor="middle">Flow Distance (μm)</text>
<text transform="translate(244.3,120.65) rotate(-90)" class="ax" text-anchor="middle">Mixing Degree</text>
<text transform="translate(245.6,63.35) rotate(-90)" class="md" text-anchor="middle">MD</text>
<line x1="235.3" y1="53.2" x2="235.3" y2="73.6" stroke="#222" stroke-width="0.8"/>
<text x="63.3" y="284.3" class="pl" text-anchor="middle">(a)</text>
<text x="414.8" y="284.3" class="pl" text-anchor="middle">(b)</text>
</svg>
</body></html>
